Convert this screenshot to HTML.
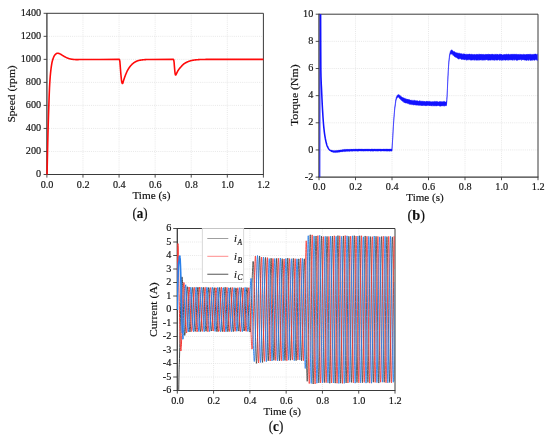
<!DOCTYPE html>
<html lang="en"><head><meta charset="utf-8"><title>Figure</title>
<style>html,body{margin:0;padding:0;background:#fff}svg{display:block}</style>
</head><body>
<svg width="550" height="440" viewBox="0 0 550 440" font-family='"Liberation Serif", serif' fill="#111" stroke="#111" stroke-width="0">
<rect width="550" height="440" fill="#fff"/>
<g>
<path d="M82.98,13.3V174.5M119.07,13.3V174.5M155.15,13.3V174.5M191.23,13.3V174.5M227.32,13.3V174.5M46.9,151.47H263.4M46.9,128.44H263.4M46.9,105.41H263.4M46.9,82.39H263.4M46.9,59.36H263.4M46.9,36.33H263.4" stroke="#e2e2e2" stroke-width="0.8" stroke-dasharray="1 1.1" fill="none"/>
<path d="M46.9,13.3H263.4V174.5" stroke="#3a3a3a" stroke-width="1" fill="none"/>
<path d="M46.9,12.9V174.5" stroke="#3a3a3a" stroke-width="1.3" fill="none"/>
<path d="M46.3,174.5H263.8" stroke="#3a3a3a" stroke-width="1.1" fill="none"/>
<path d="M46.9,174.5v3.1M82.98,174.5v3.1M119.07,174.5v3.1M155.15,174.5v3.1M191.23,174.5v3.1M227.32,174.5v3.1M263.4,174.5v3.1M46.9,174.5H43.6M46.9,151.47H43.6M46.9,128.44H43.6M46.9,105.41H43.6M46.9,82.39H43.6M46.9,59.36H43.6M46.9,36.33H43.6M46.9,13.3H43.6" stroke="#3a3a3a" stroke-width="0.9" fill="none"/>
<path d="M47.05,174.5 L47.25,164.6 L47.5,153 L47.75,142.24 L48,132.33 L48.25,123.26 L48.5,115.23 L48.75,107.88 L49,100.64 L49.25,93.65 L49.5,87.83 L49.75,83.1 L50,79.39 L50.25,76.22 L50.5,73.5 L50.75,71.13 L51,69.03 L51.25,67.15 L51.5,65.43 L51.75,63.84 L52,62.47 L52.25,61.37 L52.5,60.44 L52.75,59.62 L53,58.88 L53.25,58.18 L53.5,57.52 L53.75,56.92 L54,56.39 L54.25,55.94 L54.5,55.53 L54.75,55.17 L55,54.84 L55.25,54.55 L55.5,54.3 L55.75,54.06 L56,53.85 L56.25,53.68 L56.5,53.55 L56.75,53.43 L57,53.33 L57.25,53.25 L57.5,53.2 L57.75,53.21 L58,53.24 L58.25,53.29 L58.5,53.35 L58.75,53.43 L59,53.5 L59.25,53.58 L59.5,53.68 L59.75,53.78 L60,53.9 L60.25,54.03 L60.5,54.15 L60.75,54.29 L61,54.44 L61.25,54.59 L61.5,54.75 L61.75,54.92 L62,55.08 L62.25,55.23 L62.5,55.38 L62.75,55.54 L63,55.69 L63.25,55.85 L63.5,56 L63.75,56.15 L64,56.3 L64.25,56.45 L64.5,56.59 L64.75,56.73 L65,56.88 L65.25,57.01 L65.5,57.15 L65.75,57.28 L66,57.4 L66.25,57.52 L66.5,57.64 L66.75,57.75 L67,57.86 L67.25,57.96 L67.5,58.06 L67.75,58.15 L68,58.24 L68.25,58.33 L68.5,58.42 L68.75,58.5 L69,58.58 L69.25,58.65 L69.5,58.72 L69.75,58.79 L70,58.85 L70.25,58.91 L70.5,58.97 L70.75,59.02 L71,59.07 L71.25,59.12 L71.5,59.17 L71.75,59.22 L72,59.26 L72.25,59.3 L72.5,59.33 L72.75,59.36 L73,59.39 L73.25,59.41 L73.5,59.44 L73.75,59.46 L74,59.48 L74.25,59.5 L74.5,59.52 L74.75,59.53 L75,59.55 L75.25,59.56 L75.5,59.58 L75.75,59.59 L76,59.59 L76.25,59.6 L76.5,59.6 L76.75,59.6 L77,59.6 L77.25,59.6 L77.5,59.59 L77.75,59.59 L78,59.59 L78.25,59.58 L78.5,59.58 L78.75,59.57 L79,59.57 L79.25,59.57 L79.5,59.56 L79.75,59.56 L80,59.55 L80.25,59.55 L100,59.45 L119.3,59.4 L119.4,59.49 L119.65,60.28 L119.9,61.75 L120.15,64.96 L120.4,68.25 L120.65,71.49 L120.9,74.5 L121.15,77.18 L121.4,79.53 L121.65,81.33 L121.9,82.6 L122.15,83.33 L122.4,83.49 L122.65,83.42 L122.9,82.99 L123.15,82.13 L123.4,81.16 L123.65,80.23 L123.9,79.43 L124.15,78.69 L124.4,77.98 L124.65,77.28 L124.9,76.6 L125.15,75.93 L125.4,75.28 L125.65,74.65 L125.9,74.04 L126.15,73.44 L126.4,72.85 L126.65,72.27 L126.9,71.71 L127.15,71.18 L127.4,70.69 L127.65,70.23 L127.9,69.78 L128.15,69.36 L128.4,68.94 L128.65,68.54 L128.9,68.15 L129.15,67.77 L129.4,67.41 L129.65,67.06 L129.9,66.73 L130.15,66.41 L130.4,66.1 L130.65,65.8 L130.9,65.51 L131.15,65.23 L131.4,64.96 L131.65,64.7 L131.9,64.44 L132.15,64.2 L132.4,63.96 L132.65,63.74 L132.9,63.52 L133.15,63.32 L133.4,63.12 L133.65,62.94 L133.9,62.76 L134.15,62.58 L134.4,62.41 L134.65,62.25 L134.9,62.09 L135.15,61.94 L135.4,61.8 L135.65,61.67 L135.9,61.54 L136.15,61.42 L136.4,61.31 L136.65,61.21 L136.9,61.1 L137.15,61 L137.4,60.91 L137.65,60.82 L137.9,60.73 L138.15,60.65 L138.4,60.58 L138.65,60.51 L138.9,60.44 L139.15,60.39 L139.4,60.34 L139.65,60.29 L139.9,60.24 L140.15,60.19 L140.4,60.15 L140.65,60.11 L140.9,60.07 L141.15,60.03 L141.4,59.99 L141.65,59.95 L141.9,59.92 L142.15,59.89 L142.4,59.86 L142.65,59.83 L142.9,59.81 L143.15,59.78 L143.4,59.76 L143.65,59.74 L143.9,59.72 L144.15,59.7 L144.4,59.68 L144.65,59.66 L144.9,59.64 L145.15,59.62 L145.4,59.61 L145.65,59.59 L145.9,59.58 L146.15,59.56 L146.4,59.55 L146.65,59.54 L146.9,59.53 L147.15,59.52 L147.4,59.51 L147.65,59.5 L147.9,59.5 L148.15,59.49 L148.4,59.49 L148.65,59.48 L148.9,59.48 L149.15,59.48 L149.4,59.47 L149.65,59.47 L149.9,59.46 L173.5,59.4 L173.6,59.52 L173.85,60.59 L174.1,62.34 L174.35,65.57 L174.6,68.66 L174.85,71.49 L175.1,73.5 L175.35,74.7 L175.6,75.06 L175.85,74.97 L176.1,74.5 L176.35,73.97 L176.6,73.36 L176.85,72.8 L177.1,72.29 L177.35,71.8 L177.6,71.34 L177.85,70.9 L178.1,70.5 L178.35,70.12 L178.6,69.76 L178.85,69.41 L179.1,69.07 L179.35,68.75 L179.6,68.43 L179.85,68.13 L180.1,67.83 L180.35,67.54 L180.6,67.25 L180.85,66.97 L181.1,66.69 L181.35,66.41 L181.6,66.13 L181.85,65.85 L182.1,65.58 L182.35,65.32 L182.6,65.06 L182.85,64.81 L183.1,64.57 L183.35,64.35 L183.6,64.13 L183.85,63.94 L184.1,63.75 L184.35,63.58 L184.6,63.41 L184.85,63.25 L185.1,63.1 L185.35,62.95 L185.6,62.81 L185.85,62.67 L186.1,62.54 L186.35,62.41 L186.6,62.29 L186.85,62.18 L187.1,62.06 L187.35,61.95 L187.6,61.84 L187.85,61.73 L188.1,61.63 L188.35,61.52 L188.6,61.42 L188.85,61.32 L189.1,61.23 L189.35,61.14 L189.6,61.05 L189.85,60.97 L190.1,60.89 L190.35,60.81 L190.6,60.74 L190.85,60.68 L191.1,60.62 L191.35,60.57 L191.6,60.52 L191.85,60.47 L192.1,60.42 L192.35,60.37 L192.6,60.32 L192.85,60.28 L193.1,60.24 L193.35,60.19 L193.6,60.15 L193.85,60.11 L194.1,60.08 L194.35,60.04 L194.6,60.01 L194.85,59.97 L195.1,59.94 L195.35,59.91 L195.6,59.88 L195.85,59.85 L196.1,59.83 L196.35,59.81 L196.6,59.78 L196.85,59.76 L197.1,59.74 L197.35,59.72 L197.6,59.7 L197.85,59.69 L198.1,59.67 L198.35,59.65 L198.6,59.63 L198.85,59.62 L199.1,59.6 L199.35,59.58 L199.6,59.57 L199.85,59.55 L200.1,59.54 L200.35,59.53 L200.6,59.52 L200.85,59.5 L201.1,59.49 L201.35,59.48 L201.6,59.48 L201.85,59.47 L202.1,59.46 L202.35,59.46 L202.6,59.45 L202.85,59.45 L203.1,59.45 L203.35,59.44 L203.6,59.44 L203.85,59.44 L204.1,59.44 L204.35,59.43 L204.6,59.43 L204.85,59.43 L205.1,59.43 L205.35,59.43 L205.6,59.42 L205.85,59.42 L206.1,59.42 L206.35,59.42 L206.6,59.42 L206.85,59.42 L207.1,59.41 L207.35,59.41 L207.6,59.41 L207.85,59.41 L208.1,59.41 L208.35,59.41 L208.6,59.41 L208.85,59.41 L209.1,59.41 L209.35,59.4 L209.6,59.4 L209.85,59.4 L210.1,59.4 L210.35,59.4 L210.6,59.4 L210.85,59.4 L211.1,59.4 L211.35,59.4 L211.6,59.4 L211.85,59.4 L263.4,59.4" stroke="#ff0a0a" stroke-width="1.6" fill="none" stroke-linejoin="round"/>
<g stroke-width="0.16">
<g font-size="10.2" text-anchor="middle">
<text x="47.1" y="187.7">0.0</text>
<text x="83.18" y="187.7">0.2</text>
<text x="119.27" y="187.7">0.4</text>
<text x="155.35" y="187.7">0.6</text>
<text x="191.43" y="187.7">0.8</text>
<text x="227.52" y="187.7">1.0</text>
<text x="263.6" y="187.7">1.2</text>
</g>
<g font-size="10.2" text-anchor="end">
<text x="41.1" y="177.1">0</text>
<text x="41.1" y="154.07">200</text>
<text x="41.1" y="131.04">400</text>
<text x="41.1" y="108.01">600</text>
<text x="41.1" y="84.99">800</text>
<text x="41.1" y="61.96">1000</text>
<text x="41.1" y="38.93">1200</text>
<text x="41.1" y="15.9">1400</text>
</g>
<text x="132.4" y="198.7" font-size="11" textLength="38" lengthAdjust="spacingAndGlyphs">Time (s)</text>
<text transform="translate(15.3,122.6) rotate(-90)" font-size="11" textLength="57.3" lengthAdjust="spacingAndGlyphs">Speed (rpm)</text>
<text x="132.4" y="217.6" font-size="14.3" textLength="15.2" lengthAdjust="spacingAndGlyphs">(<tspan font-weight="bold">a</tspan>)</text>
</g></g>
<g>
<path d="M355.5,14.2V177.1M392,14.2V177.1M428.5,14.2V177.1M465,14.2V177.1M501.5,14.2V177.1M319,149.95H538M319,122.8H538M319,95.65H538M319,68.5H538M319,41.35H538" stroke="#e2e2e2" stroke-width="0.8" stroke-dasharray="1 1.1" fill="none"/>
<path d="M319,14.2H538V177.1" stroke="#3a3a3a" stroke-width="1" fill="none"/>
<path d="M319,13.8V177.1" stroke="#3a3a3a" stroke-width="1.3" fill="none"/>
<path d="M318.4,177.1H538.4" stroke="#3a3a3a" stroke-width="1.1" fill="none"/>
<path d="M319,177.1v3.1M355.5,177.1v3.1M392,177.1v3.1M428.5,177.1v3.1M465,177.1v3.1M501.5,177.1v3.1M538,177.1v3.1M319,177.1H315.7M319,149.95H315.7M319,122.8H315.7M319,95.65H315.7M319,68.5H315.7M319,41.35H315.7M319,14.2H315.7" stroke="#3a3a3a" stroke-width="0.9" fill="none"/>
<clipPath id="cb"><rect x="318.0" y="14.2" width="219.6" height="162.9"/></clipPath>
<g clip-path="url(#cb)">
<path d="M319.85,177.1L320.15,14.2" stroke="#1212ff" stroke-width="0.9" fill="none"/>
<path d="M320.3,14.2 L320.6,14.2 L320.7,42.3 L320.85,70 L321,76.94 L321.25,83.81 L321.5,88.38 L321.75,93.97 L322,99.49 L322.25,104.59 L322.5,109.21 L322.75,113.34 L323,117.23 L323.25,120.82 L323.5,124.05 L323.75,126.81 L324,129.16 L324.25,131.32 L324.5,133.3 L324.75,135.11 L325,136.74 L325.25,138.21 L325.5,139.5 L325.75,140.68 L326,141.8 L326.25,142.85 L326.5,143.82 L326.75,144.69 L327,145.47 L327.25,146.14 L327.5,146.7 L327.75,147.18 L328,147.64 L328.25,148.08 L328.5,148.49 L328.75,148.87 L329,149.22 L329.25,149.53 L329.5,149.81 L329.75,150.06 L330,150.26 L330.25,150.42 L330.5,150.55 L330.75,150.66 L331,150.77 L331.25,150.87 L331.5,150.97 L331.75,151.06 L332,151.15 L332.25,151.23 L332.5,151.3 L332.75,151.37 L333,151.43 L333.25,151.48 L333.5,151.52 L333.75,151.55 L334,151.58 L334.25,151.59 L334.5,151.6 L334.75,151.6 L335,151.59 L335.25,151.58 L335.5,151.57 L335.75,151.55 L336,151.53 L336.25,151.51 L336.5,151.48 L336.75,151.46 L337,151.43 L337.25,151.4 L337.5,151.37 L337.75,151.34 L338,151.32 L338.25,151.29 L338.5,151.26 L338.75,151.23 L339,151.2 L339.25,151.17 L339.5,151.14 L339.75,151.1 L340,151.06 L340.25,151.02 L340.5,150.98 L340.75,150.94 L341,150.9 L341.25,150.85 L341.5,150.81 L341.75,150.77 L342,150.73 L342.25,150.69 L342.5,150.66 L342.75,150.62 L343,150.59 L343.25,150.56 L343.5,150.54 L343.75,150.52 L344,150.5 L344.25,150.48 L344.5,150.47 L344.75,150.46 L345,150.44 L345.25,150.43 L345.5,150.41 L345.75,150.4 L346,150.39 L346.25,150.38 L346.5,150.37 L346.75,150.35 L347,150.34 L347.25,150.33 L347.5,150.32 L347.75,150.31 L348,150.3 L348.25,150.29 L348.5,150.28 L348.75,150.28 L349,150.27 L349.25,150.26 L349.5,150.25 L349.75,150.25 L350,150.24 L350.25,150.23 L350.5,150.23 L350.75,150.22 L351,150.22 L351.25,150.21 L351.5,150.21 L351.75,150.2 L352,150.2 L352.25,150.2 L352.5,150.19 L352.75,150.19 L353,150.19 L353.25,150.18 L353.5,150.18 L353.75,150.18 L354,150.17 L354.25,150.17 L354.5,150.17 L354.75,150.17 L355,150.16 L355.25,150.16 L355.5,150.16 L355.75,150.15 L356,150.15 L356.25,150.15 L356.5,150.15 L356.75,150.14 L357,150.14 L357.25,150.14 L357.5,150.14 L357.75,150.13 L358,150.13 L358.25,150.13 L358.5,150.13 L358.75,150.13 L359,150.12 L359.25,150.12 L359.5,150.12 L359.75,150.12 L391.9,150.1" stroke="#1212ff" stroke-width="1.55" fill="none" stroke-linejoin="round"/>
<path d="M331,150.12 L331.3,150.13 L331.6,150.21 L331.9,150.47 L332.2,150.53 L332.5,150.39 L332.8,150.7 L333.1,150.75 L333.4,150.56 L333.7,150.69 L334,150.79 L334.3,150.75 L334.6,150.7 L334.9,150.81 L335.2,150.83 L335.5,150.6 L335.8,150.61 L336.1,150.63 L336.4,150.49 L336.7,150.54 L337,150.36 L337.3,150.57 L337.6,150.41 L337.9,150.39 L338.2,150.39 L338.5,150.27 L338.8,150.35 L339.1,150.11 L339.4,150.04 L339.7,150.25 L340,150.07 L340.3,150.09 L340.6,150.11 L340.9,149.77 L341.2,149.89 L341.5,149.94 L341.8,149.7 L342.1,149.82 L342.4,149.53 L342.7,149.73 L343,149.76 L343.3,149.67 L343.6,149.59 L343.9,149.52 L344.2,149.34 L344.5,149.4 L344.8,149.51 L345.1,149.61 L345.4,149.54 L345.7,149.23 L346,149.4 L346.3,149.31 L346.6,149.52 L346.9,149.51 L347.2,149.21 L347.5,149.29 L347.8,149.38 L348.1,149.36 L348.4,149.44 L348.7,149.4 L349,149.44 L349.3,149.14 L349.6,149.26 L349.9,149.38 L350.2,149.15 L350.5,149.34 L350.8,149.38 L351.1,149.18 L351.4,149.07 L351.7,149.37 L352,149.09 L352.3,149.31 L352.6,149.34 L352.9,149.36 L353.2,149.26 L353.5,149.1 L353.8,149.18 L354.1,149.05 L354.4,149.27 L354.7,149.23 L355,149.25 L355.3,148.99 L355.6,149 L355.9,149.21 L356.2,149.17 L356.5,149.21 L356.8,149.05 L357.1,149.31 L357.4,149.29 L357.7,149.17 L358,149.22 L358.3,149.01 L358.6,149.04 L358.9,149.11 L359.2,149.06 L359.5,149.05 L359.8,149.02 L360.1,148.96 L360.4,149.24 L360.7,149.07 L361,149.24 L361.3,149.13 L361.6,149.01 L361.9,148.96 L362.2,149.01 L362.5,149.27 L362.8,149.15 L363.1,149.22 L363.4,148.92 L363.7,149.23 L364,149.19 L364.3,149.15 L364.6,149.26 L364.9,148.97 L365.2,149.05 L365.5,149.22 L365.8,149.1 L366.1,149.25 L366.4,149.06 L366.7,149.2 L367,149.27 L367.3,149.24 L367.6,149.08 L367.9,149.05 L368.2,149.16 L368.5,149.05 L368.8,149.15 L369.1,149.23 L369.4,149.17 L369.7,149.14 L370,148.95 L370.3,149.24 L370.6,149.25 L370.9,149.08 L371.2,148.93 L371.5,148.95 L371.8,149.03 L372.1,149.26 L372.4,148.99 L372.7,149.03 L373,149.23 L373.3,149.11 L373.6,149.26 L373.9,148.99 L374.2,149.02 L374.5,148.99 L374.8,149.01 L375.1,149.18 L375.4,149 L375.7,149.19 L376,149.23 L376.3,149.14 L376.6,149.1 L376.9,149.18 L377.2,149.06 L377.5,149.06 L377.8,149.19 L378.1,149.06 L378.4,149.15 L378.7,149.02 L379,149.18 L379.3,148.99 L379.6,149.13 L379.9,149.08 L380.2,149.04 L380.5,149.09 L380.8,149.19 L381.1,148.93 L381.4,149.25 L381.7,149.16 L382,149.08 L382.3,149.27 L382.6,149.22 L382.9,148.99 L383.2,149 L383.5,149.05 L383.8,148.96 L384.1,149.01 L384.4,149.17 L384.7,149.05 L385,149.16 L385.3,149.01 L385.6,149.14 L385.9,149.22 L386.2,148.96 L386.5,149.03 L386.8,149.01 L387.1,149.08 L387.4,149 L387.7,149.12 L388,149.08 L388.3,149.26 L388.6,149.08 L388.9,148.99 L389.2,149.03 L389.5,148.99 L389.8,149.1 L390.1,148.96 L390.4,149.24 L390.7,148.96 L391,149.15 L391.3,149.25 L391.6,149.06 L391.9,149.12 L391.9,151.26 L391.6,151.18 L391.3,151.09 L391,151.13 L390.7,151.04 L390.4,151.06 L390.1,151.17 L389.8,151.13 L389.5,151.17 L389.2,151.24 L388.9,150.97 L388.6,151.07 L388.3,151.2 L388,151.24 L387.7,151.17 L387.4,151.19 L387.1,150.99 L386.8,150.98 L386.5,151.14 L386.2,151.21 L385.9,151.18 L385.6,151.06 L385.3,151.03 L385,151.24 L384.7,151.16 L384.4,151.02 L384.1,151.02 L383.8,151.25 L383.5,151 L383.2,150.93 L382.9,151.06 L382.6,150.96 L382.3,151.06 L382,151.03 L381.7,151.13 L381.4,151.03 L381.1,151 L380.8,151.27 L380.5,150.96 L380.2,151.21 L379.9,150.93 L379.6,151.01 L379.3,150.93 L379,151.02 L378.7,151.22 L378.4,151.03 L378.1,151.07 L377.8,151.17 L377.5,151.18 L377.2,151.01 L376.9,150.94 L376.6,151.16 L376.3,150.95 L376,151.19 L375.7,151.1 L375.4,151.08 L375.1,151.17 L374.8,151.07 L374.5,150.99 L374.2,150.93 L373.9,150.97 L373.6,151.25 L373.3,151.22 L373,151.26 L372.7,151.19 L372.4,151.24 L372.1,151 L371.8,151.08 L371.5,151.16 L371.2,151.05 L370.9,151.26 L370.6,151.19 L370.3,151.14 L370,151.12 L369.7,150.94 L369.4,151.06 L369.1,151.03 L368.8,151.06 L368.5,150.92 L368.2,151.13 L367.9,150.99 L367.6,151.05 L367.3,151.24 L367,151.12 L366.7,151.04 L366.4,151.05 L366.1,150.97 L365.8,150.94 L365.5,151 L365.2,151.14 L364.9,150.93 L364.6,150.93 L364.3,151.2 L364,151.07 L363.7,151.23 L363.4,151.11 L363.1,151.14 L362.8,150.93 L362.5,150.98 L362.2,151.16 L361.9,151.06 L361.6,151.09 L361.3,151.19 L361,151.1 L360.7,150.94 L360.4,151.02 L360.1,151.22 L359.8,150.95 L359.5,151.08 L359.2,151.09 L358.9,151.13 L358.6,151.12 L358.3,151.24 L358,151.29 L357.7,151.28 L357.4,151.28 L357.1,151.15 L356.8,151.17 L356.5,151.11 L356.2,150.98 L355.9,151.02 L355.6,151.12 L355.3,151.19 L355,151.04 L354.7,151.11 L354.4,151.17 L354.1,151.33 L353.8,151.05 L353.5,151.18 L353.2,151.06 L352.9,151.36 L352.6,151.17 L352.3,151.2 L352,151.27 L351.7,151.14 L351.4,151.29 L351.1,151.14 L350.8,151.11 L350.5,151.18 L350.2,151.3 L349.9,151.28 L349.6,151.42 L349.3,151.39 L349,151.41 L348.7,151.14 L348.4,151.27 L348.1,151.45 L347.8,151.42 L347.5,151.38 L347.2,151.19 L346.9,151.37 L346.6,151.24 L346.3,151.33 L346,151.48 L345.7,151.37 L345.4,151.57 L345.1,151.58 L344.8,151.4 L344.5,151.62 L344.2,151.62 L343.9,151.49 L343.6,151.37 L343.3,151.39 L343,151.63 L342.7,151.72 L342.4,151.63 L342.1,151.62 L341.8,151.6 L341.5,151.66 L341.2,151.87 L340.9,151.86 L340.6,151.84 L340.3,151.86 L340,152.23 L339.7,152.18 L339.4,152.1 L339.1,152.14 L338.8,152.29 L338.5,152.35 L338.2,152.16 L337.9,152.2 L337.6,152.31 L337.3,152.39 L337,152.25 L336.7,152.34 L336.4,152.27 L336.1,152.42 L335.8,152.59 L335.5,152.3 L335.2,152.6 L334.9,152.44 L334.6,152.32 L334.3,152.29 L334,152.31 L333.7,152.48 L333.4,152.33 L333.1,152.15 L332.8,152.18 L332.5,152.1 L332.2,151.97 L331.9,151.92 L331.6,151.67 L331.3,151.74 L331,151.5Z" fill="#1212ff" stroke="#1212ff" stroke-width="0.3" stroke-linejoin="round"/>
<path d="M391.9,149.32 L392.2,145.26 L392.5,140.84 L392.8,135.82 L393.1,130.14 L393.4,124.86 L393.7,120.48 L394,116.45 L394.3,112.65 L394.6,109.01 L394.9,106.34 L395.2,104.06 L395.5,101.75 L395.8,99.59 L396.1,98.03 L396.4,96.96 L396.7,96.39 L397,95.71 L397.3,95.15 L397.6,95.15 L397.9,94.77 L398.2,94.8 L398.5,94.46 L398.8,94.94 L399.1,94.82 L399.4,94.95 L399.7,95.56 L400,95.41 L400.3,95.62 L400.6,96.33 L400.9,96.14 L401.2,96.8 L401.5,96.71 L401.8,96.97 L402.1,97.33 L402.4,97.44 L402.7,97.28 L403,97.76 L403.3,98.01 L403.6,97.73 L403.9,98.03 L404.2,97.9 L404.5,98.47 L404.8,98.55 L405.1,98.31 L405.4,98.66 L405.7,98.78 L406,99.09 L406.3,99.37 L406.6,98.77 L406.9,99.5 L407.2,99.01 L407.5,99.45 L407.8,99.09 L408.1,99.58 L408.4,99.25 L408.7,99.61 L409,99.92 L409.3,99.61 L409.6,99.73 L409.9,99.79 L410.2,100.02 L410.5,100.27 L410.8,100.01 L411.1,100.47 L411.4,100.09 L411.7,100.19 L412,100.44 L412.3,100.17 L412.6,100.68 L412.9,100.58 L413.2,100.32 L413.5,100.68 L413.8,100.47 L414.1,100.59 L414.4,100.37 L414.7,100.37 L415,100.61 L415.3,100.57 L415.6,101.1 L415.9,100.7 L416.2,100.62 L416.5,100.98 L416.8,100.89 L417.1,100.96 L417.4,100.62 L417.7,101.12 L418,101.08 L418.3,101.4 L418.6,101.1 L418.9,100.96 L419.2,100.75 L419.5,100.77 L419.8,101.24 L420.1,100.76 L420.4,101.38 L420.7,100.92 L421,101.43 L421.3,101.26 L421.6,101.53 L421.9,100.95 L422.2,100.99 L422.5,101.52 L422.8,101.24 L423.1,101.46 L423.4,101.3 L423.7,101.26 L424,101.61 L424.3,101.05 L424.6,101.51 L424.9,101.39 L425.2,101.7 L425.5,101.75 L425.8,101.62 L426.1,101.52 L426.4,101.09 L426.7,101.12 L427,101.44 L427.3,101.47 L427.6,101.32 L427.9,101.19 L428.2,101.59 L428.5,101.25 L428.8,101.56 L429.1,101.42 L429.4,101.32 L429.7,101.51 L430,101.37 L430.3,101.37 L430.6,101.9 L430.9,101.89 L431.2,101.81 L431.5,101.77 L431.8,101.78 L432.1,101.9 L432.4,101.78 L432.7,101.5 L433,101.29 L433.3,101.7 L433.6,101.69 L433.9,101.65 L434.2,101.46 L434.5,101.38 L434.8,101.27 L435.1,101.7 L435.4,101.46 L435.7,101.74 L436,101.37 L436.3,101.83 L436.6,101.35 L436.9,101.63 L437.2,101.46 L437.5,101.61 L437.8,101.78 L438.1,101.65 L438.4,101.99 L438.7,102 L439,101.63 L439.3,101.68 L439.6,101.41 L439.9,102.03 L440.2,101.62 L440.5,101.68 L440.8,101.6 L441.1,101.5 L441.4,101.66 L441.7,101.63 L442,101.69 L442.3,101.6 L442.6,101.88 L442.9,101.65 L443.2,101.56 L443.5,101.93 L443.8,101.32 L444.1,101.51 L444.4,101.35 L444.7,101.85 L445,101.74 L445.3,101.88 L445.6,102.04 L445.9,102.07 L446.2,101.89 L446.5,101.43 L446.5,105.74 L446.2,105.55 L445.9,105.95 L445.6,105.76 L445.3,105.57 L445,105.71 L444.7,105.75 L444.4,106.26 L444.1,105.68 L443.8,105.57 L443.5,106.07 L443.2,105.91 L442.9,105.9 L442.6,106.03 L442.3,105.57 L442,105.95 L441.7,105.94 L441.4,105.75 L441.1,106.1 L440.8,106.17 L440.5,106.25 L440.2,106.02 L439.9,105.67 L439.6,105.93 L439.3,106.16 L439,105.67 L438.7,105.61 L438.4,105.91 L438.1,105.52 L437.8,105.85 L437.5,105.69 L437.2,105.65 L436.9,105.95 L436.6,105.82 L436.3,105.95 L436,106.05 L435.7,105.5 L435.4,105.88 L435.1,106.18 L434.8,105.98 L434.5,105.63 L434.2,105.85 L433.9,105.85 L433.6,105.69 L433.3,106.14 L433,105.55 L432.7,105.84 L432.4,105.59 L432.1,105.55 L431.8,106.08 L431.5,105.38 L431.2,105.98 L430.9,106.06 L430.6,105.4 L430.3,105.39 L430,105.34 L429.7,105.95 L429.4,105.51 L429.1,105.95 L428.8,105.44 L428.5,105.42 L428.2,105.34 L427.9,105.31 L427.6,105.55 L427.3,105.4 L427,105.75 L426.7,105.39 L426.4,105.74 L426.1,105.94 L425.8,105.97 L425.5,105.21 L425.2,105.78 L424.9,105.48 L424.6,105.78 L424.3,105.41 L424,105.33 L423.7,105.51 L423.4,105.21 L423.1,105.77 L422.8,105.44 L422.5,105.43 L422.2,105.65 L421.9,105.15 L421.6,105.75 L421.3,105.39 L421,105.67 L420.7,105.22 L420.4,105.16 L420.1,105.56 L419.8,105.36 L419.5,105.37 L419.2,105.32 L418.9,105.26 L418.6,105.58 L418.3,105.12 L418,104.88 L417.7,105.14 L417.4,105.04 L417.1,105.36 L416.8,105.26 L416.5,105.02 L416.2,105.03 L415.9,104.94 L415.6,104.8 L415.3,105.17 L415,105.16 L414.7,104.87 L414.4,104.67 L414.1,104.89 L413.8,104.51 L413.5,105.13 L413.2,105.04 L412.9,104.51 L412.6,104.63 L412.3,104.42 L412,104.68 L411.7,104.82 L411.4,104.11 L411.1,104.01 L410.8,104.54 L410.5,104.19 L410.2,103.9 L409.9,104.47 L409.6,103.96 L409.3,103.71 L409,104.24 L408.7,103.59 L408.4,103.42 L408.1,103.66 L407.8,103.66 L407.5,103.22 L407.2,103.27 L406.9,103.22 L406.6,102.97 L406.3,103.1 L406,103 L405.7,102.92 L405.4,103.15 L405.1,102.64 L404.8,102.95 L404.5,102.39 L404.2,102.32 L403.9,102.41 L403.6,102.16 L403.3,101.49 L403,101.57 L402.7,101.43 L402.4,100.98 L402.1,101.01 L401.8,100.47 L401.5,100.47 L401.2,99.7 L400.9,99.9 L400.6,99.4 L400.3,98.9 L400,98.99 L399.7,98.73 L399.4,98.18 L399.1,97.76 L398.8,97.39 L398.5,97.16 L398.2,97.1 L397.9,97.23 L397.6,97.39 L397.3,97.84 L397,97.88 L396.7,98.54 L396.4,99.18 L396.1,100.22 L395.8,101.9 L395.5,103.6 L395.2,106.02 L394.9,108.21 L394.6,110.85 L394.3,114.18 L394,117.94 L393.7,122.02 L393.4,126.42 L393.1,131.44 L392.8,137.14 L392.5,142.24 L392.2,146.81 L391.9,150.72Z" fill="#1212ff" stroke="#1212ff" stroke-width="0.5" stroke-linejoin="round"/>
<path d="M446.5,102.96 L446.8,99.57 L447.1,95.09 L447.4,88.78 L447.7,81.34 L448,75.1 L448.3,69.74 L448.6,64.6 L448.9,60.88 L449.2,57.75 L449.5,55.13 L449.8,53.38 L450.1,52.28 L450.4,51.29 L450.7,50.68 L451,50.39 L451.3,49.89 L451.6,49.89 L451.9,50.05 L452.2,49.96 L452.5,50.75 L452.8,51.03 L453.1,50.89 L453.4,51.5 L453.7,51.7 L454,51.51 L454.3,51.73 L454.6,51.54 L454.9,51.95 L455.2,52.2 L455.5,52.36 L455.8,52.7 L456.1,53.01 L456.4,52.95 L456.7,52.58 L457,53.12 L457.3,53.04 L457.6,53.47 L457.9,52.74 L458.2,53.48 L458.5,53.47 L458.8,52.96 L459.1,53.4 L459.4,53.14 L459.7,53.4 L460,53.36 L460.3,54.05 L460.6,53.66 L460.9,53.74 L461.2,53.44 L461.5,53.98 L461.8,53.8 L462.1,54.37 L462.4,54.09 L462.7,54.19 L463,54.4 L463.3,53.78 L463.6,54.24 L463.9,53.69 L464.2,54.1 L464.5,54.11 L464.8,54.1 L465.1,54.08 L465.4,54.61 L465.7,54.34 L466,54.54 L466.3,54.39 L466.6,54.7 L466.9,53.86 L467.2,54.6 L467.5,54.16 L467.8,54.53 L468.1,53.98 L468.4,54.19 L468.7,54.72 L469,54.03 L469.3,53.93 L469.6,53.98 L469.9,54.31 L470.2,54.73 L470.5,54.69 L470.8,53.98 L471.1,54.35 L471.4,54.72 L471.7,54.04 L472,54.28 L472.3,54.35 L472.6,54.55 L472.9,54.52 L473.2,54.69 L473.5,54.89 L473.8,54.07 L474.1,54.48 L474.4,54.4 L474.7,54.62 L475,54.21 L475.3,54.92 L475.6,54.58 L475.9,54.92 L476.2,54.83 L476.5,54.01 L476.8,54.31 L477.1,54.54 L477.4,54.45 L477.7,54.1 L478,54.62 L478.3,54.38 L478.6,54.29 L478.9,54.61 L479.2,54.45 L479.5,54.21 L479.8,54.07 L480.1,54.82 L480.4,54.05 L480.7,54.96 L481,54.22 L481.3,54.17 L481.6,54.83 L481.9,54.55 L482.2,54.16 L482.5,54.95 L482.8,54.34 L483.1,54.18 L483.4,54.46 L483.7,54.25 L484,54.74 L484.3,54.76 L484.6,54.6 L484.9,54.78 L485.2,54.62 L485.5,54.02 L485.8,54.39 L486.1,54.62 L486.4,54.69 L486.7,54.02 L487,54.52 L487.3,53.99 L487.6,54.45 L487.9,54.44 L488.2,54.07 L488.5,54.22 L488.8,54.38 L489.1,54.53 L489.4,54.09 L489.7,54.55 L490,54.04 L490.3,54.89 L490.6,54.53 L490.9,54.44 L491.2,54.01 L491.5,54.7 L491.8,54.16 L492.1,54.28 L492.4,54.24 L492.7,54.33 L493,53.99 L493.3,54.62 L493.6,54.56 L493.9,54.75 L494.2,54.9 L494.5,54.74 L494.8,54.04 L495.1,54.12 L495.4,54.84 L495.7,54.35 L496,54.47 L496.3,54.36 L496.6,54.29 L496.9,54.64 L497.2,53.99 L497.5,54.48 L497.8,54.32 L498.1,54.32 L498.4,54.76 L498.7,54.88 L499,54.54 L499.3,54.19 L499.6,54.14 L499.9,54.22 L500.2,54.83 L500.5,54.04 L500.8,54.15 L501.1,54.07 L501.4,54.42 L501.7,54.03 L502,54.89 L502.3,54.91 L502.6,54.92 L502.9,54.69 L503.2,54.69 L503.5,54.75 L503.8,54.38 L504.1,54.9 L504.4,54.35 L504.7,54.77 L505,54.26 L505.3,54.92 L505.6,54.63 L505.9,54 L506.2,54.4 L506.5,54.13 L506.8,54.28 L507.1,54.33 L507.4,54.75 L507.7,54.36 L508,54.9 L508.3,54.14 L508.6,53.98 L508.9,54.08 L509.2,54.88 L509.5,54.6 L509.8,54.62 L510.1,54.82 L510.4,54.31 L510.7,54.14 L511,54.62 L511.3,54.07 L511.6,54.14 L511.9,54.8 L512.2,54.17 L512.5,54.05 L512.8,54.73 L513.1,54.36 L513.4,54.29 L513.7,54.32 L514,54.83 L514.3,54.27 L514.6,54.3 L514.9,54.11 L515.2,54.13 L515.5,54.6 L515.8,54.21 L516.1,54.06 L516.4,54.03 L516.7,54.76 L517,54.9 L517.3,54.28 L517.6,54.71 L517.9,54.36 L518.2,53.98 L518.5,54.55 L518.8,54.67 L519.1,54.47 L519.4,54.27 L519.7,54.82 L520,54.54 L520.3,54.79 L520.6,54.26 L520.9,54.09 L521.2,54.54 L521.5,54.55 L521.8,54.38 L522.1,54.71 L522.4,54.67 L522.7,54.59 L523,54.46 L523.3,54.84 L523.6,54.17 L523.9,54.34 L524.2,54.62 L524.5,54.84 L524.8,54.15 L525.1,54.79 L525.4,54.78 L525.7,54.79 L526,54.84 L526.3,54.01 L526.6,54.65 L526.9,54.61 L527.2,54.08 L527.5,54.29 L527.8,54.73 L528.1,54.48 L528.4,54.03 L528.7,54.54 L529,54.2 L529.3,54.82 L529.6,54.18 L529.9,54.13 L530.2,54.08 L530.5,54.23 L530.8,54.54 L531.1,54.85 L531.4,54.39 L531.7,54.15 L532,54.72 L532.3,54.64 L532.6,54.37 L532.9,54.16 L533.2,54.01 L533.5,54.78 L533.8,54.72 L534.1,54.1 L534.4,54.26 L534.7,54.18 L535,53.9 L535.3,53.96 L535.6,54.06 L535.9,54.12 L536.2,54.51 L536.5,54.26 L536.8,54.72 L537.1,54.14 L537.4,54.14 L537.7,54.18 L538,54.46 L538,60.18 L537.7,60.4 L537.4,59.78 L537.1,60.43 L536.8,59.95 L536.5,59.8 L536.2,59.68 L535.9,59.63 L535.6,59.57 L535.3,59.83 L535,60.25 L534.7,60.35 L534.4,59.92 L534.1,60.19 L533.8,60.22 L533.5,59.51 L533.2,60.01 L532.9,59.83 L532.6,60.1 L532.3,60.45 L532,60.06 L531.7,60.17 L531.4,60.16 L531.1,60.1 L530.8,60.48 L530.5,60.41 L530.2,60.32 L529.9,59.52 L529.6,59.8 L529.3,59.6 L529,60.38 L528.7,60.44 L528.4,59.7 L528.1,60.26 L527.8,60.09 L527.5,60.15 L527.2,59.53 L526.9,60.15 L526.6,60.38 L526.3,60.41 L526,59.64 L525.7,60.3 L525.4,59.9 L525.1,59.89 L524.8,60.1 L524.5,59.67 L524.2,60.28 L523.9,59.75 L523.6,59.64 L523.3,59.94 L523,59.5 L522.7,59.95 L522.4,59.65 L522.1,59.66 L521.8,59.51 L521.5,60.44 L521.2,59.76 L520.9,59.65 L520.6,59.62 L520.3,59.61 L520,60.12 L519.7,59.92 L519.4,59.62 L519.1,59.97 L518.8,59.91 L518.5,59.73 L518.2,59.82 L517.9,60.22 L517.6,60.24 L517.3,60.09 L517,60.13 L516.7,60.4 L516.4,59.96 L516.1,60.24 L515.8,59.79 L515.5,59.61 L515.2,59.67 L514.9,60.18 L514.6,60.24 L514.3,59.89 L514,59.54 L513.7,59.73 L513.4,59.78 L513.1,59.76 L512.8,60.43 L512.5,59.67 L512.2,60.1 L511.9,59.99 L511.6,59.94 L511.3,59.73 L511,60.1 L510.7,59.84 L510.4,60.11 L510.1,59.71 L509.8,60.15 L509.5,59.53 L509.2,59.91 L508.9,60.28 L508.6,60.19 L508.3,59.52 L508,60.23 L507.7,60.17 L507.4,59.78 L507.1,59.66 L506.8,60.01 L506.5,59.83 L506.2,59.92 L505.9,60.23 L505.6,59.93 L505.3,60.28 L505,60.28 L504.7,59.88 L504.4,59.66 L504.1,59.95 L503.8,59.77 L503.5,60.32 L503.2,59.53 L502.9,60.14 L502.6,59.95 L502.3,60.34 L502,59.72 L501.7,59.83 L501.4,60.34 L501.1,60.4 L500.8,60.03 L500.5,59.83 L500.2,59.9 L499.9,59.81 L499.6,60.45 L499.3,59.88 L499,59.75 L498.7,59.75 L498.4,59.64 L498.1,59.87 L497.8,60.03 L497.5,60.13 L497.2,60.11 L496.9,60.01 L496.6,60.03 L496.3,60.3 L496,59.84 L495.7,59.49 L495.4,60.16 L495.1,59.89 L494.8,60.23 L494.5,60.29 L494.2,59.83 L493.9,60.27 L493.6,59.78 L493.3,59.95 L493,60.2 L492.7,59.91 L492.4,59.82 L492.1,60.18 L491.8,59.84 L491.5,60 L491.2,59.85 L490.9,60.08 L490.6,60.12 L490.3,60.25 L490,60.06 L489.7,59.91 L489.4,60.24 L489.1,59.99 L488.8,60.14 L488.5,60.18 L488.2,59.89 L487.9,59.64 L487.6,60.31 L487.3,59.64 L487,59.66 L486.7,60.03 L486.4,59.52 L486.1,59.99 L485.8,60.06 L485.5,59.89 L485.2,59.48 L484.9,60.36 L484.6,59.99 L484.3,59.99 L484,59.52 L483.7,60.16 L483.4,59.95 L483.1,60.15 L482.8,59.84 L482.5,59.9 L482.2,60.38 L481.9,59.45 L481.6,60.15 L481.3,59.5 L481,60.19 L480.7,59.98 L480.4,59.64 L480.1,60.09 L479.8,59.77 L479.5,60.26 L479.2,60.11 L478.9,59.84 L478.6,59.86 L478.3,60.36 L478,60.06 L477.7,60.12 L477.4,60.21 L477.1,59.7 L476.8,60.21 L476.5,59.98 L476.2,60.36 L475.9,59.5 L475.6,59.92 L475.3,59.56 L475,60.32 L474.7,59.72 L474.4,59.98 L474.1,60.3 L473.8,59.55 L473.5,60.13 L473.2,59.55 L472.9,59.67 L472.6,60.09 L472.3,60.03 L472,60.19 L471.7,60.05 L471.4,60.1 L471.1,60.16 L470.8,60.08 L470.5,60.2 L470.2,59.78 L469.9,59.55 L469.6,59.38 L469.3,59.89 L469,59.61 L468.7,59.33 L468.4,60.18 L468.1,59.77 L467.8,59.77 L467.5,59.47 L467.2,60.2 L466.9,59.47 L466.6,60.16 L466.3,60.19 L466,59.33 L465.7,59.34 L465.4,59.37 L465.1,60.03 L464.8,59.93 L464.5,59.52 L464.2,59.63 L463.9,59.69 L463.6,59.55 L463.3,59.29 L463,59.49 L462.7,59.2 L462.4,59.55 L462.1,59.04 L461.8,59.29 L461.5,59.61 L461.2,58.89 L460.9,58.79 L460.6,59.11 L460.3,58.6 L460,58.64 L459.7,58.68 L459.4,58.78 L459.1,58.56 L458.8,59.13 L458.5,59.02 L458.2,59.03 L457.9,58.01 L457.6,58.25 L457.3,58.36 L457,57.82 L456.7,57.67 L456.4,57.26 L456.1,57.49 L455.8,56.96 L455.5,57.37 L455.2,56.68 L454.9,57.04 L454.6,56.19 L454.3,56.4 L454,55.89 L453.7,55.73 L453.4,55.17 L453.1,54.88 L452.8,55.26 L452.5,54.29 L452.2,54.01 L451.9,54.33 L451.6,54.14 L451.3,53.99 L451,53.6 L450.7,54.13 L450.4,54.32 L450.1,54.66 L449.8,55.67 L449.5,57.42 L449.2,59.82 L448.9,62.73 L448.6,66.54 L448.3,71.35 L448,76.9 L447.7,82.99 L447.4,90.48 L447.1,96.69 L446.8,101.29 L446.5,104.56Z" fill="#1212ff" stroke="#1212ff" stroke-width="0.5" stroke-linejoin="round"/>
</g>
<g stroke-width="0.16">
<g font-size="10.2" text-anchor="middle">
<text x="319.2" y="190.3">0.0</text>
<text x="355.7" y="190.3">0.2</text>
<text x="392.2" y="190.3">0.4</text>
<text x="428.7" y="190.3">0.6</text>
<text x="465.2" y="190.3">0.8</text>
<text x="501.7" y="190.3">1.0</text>
<text x="538.2" y="190.3">1.2</text>
</g>
<g font-size="10.2" text-anchor="end">
<text x="313.3" y="179.7">-2</text>
<text x="313.3" y="152.55">0</text>
<text x="313.3" y="125.4">2</text>
<text x="313.3" y="98.25">4</text>
<text x="313.3" y="71.1">6</text>
<text x="313.3" y="43.95">8</text>
<text x="313.3" y="16.8">10</text>
</g>
<text x="406.3" y="201.1" font-size="11" textLength="37.3" lengthAdjust="spacingAndGlyphs">Time (s)</text>
<text transform="translate(297.8,126.1) rotate(-90)" font-size="11" textLength="61.8" lengthAdjust="spacingAndGlyphs">Torque (Nm)</text>
<text x="407.6" y="219.6" font-size="14.3" textLength="17.5" lengthAdjust="spacingAndGlyphs">(<tspan font-weight="bold">b</tspan>)</text>
</g></g>
<g>
<path d="M213.58,228.5V390.5M249.87,228.5V390.5M286.15,228.5V390.5M322.43,228.5V390.5M358.72,228.5V390.5M177.3,377H395M177.3,363.5H395M177.3,350H395M177.3,336.5H395M177.3,323H395M177.3,309.5H395M177.3,296H395M177.3,282.5H395M177.3,269H395M177.3,255.5H395M177.3,242H395" stroke="#e2e2e2" stroke-width="0.8" stroke-dasharray="1 1.1" fill="none"/>
<path d="M177.3,228.5H395V390.5" stroke="#3a3a3a" stroke-width="1" fill="none"/>
<path d="M177.3,228.1V390.5" stroke="#3a3a3a" stroke-width="1.3" fill="none"/>
<path d="M176.7,390.5H395.4" stroke="#3a3a3a" stroke-width="1.1" fill="none"/>
<path d="M177.3,390.5v3.1M213.58,390.5v3.1M249.87,390.5v3.1M286.15,390.5v3.1M322.43,390.5v3.1M358.72,390.5v3.1M395,390.5v3.1M177.3,390.5H173.2M177.3,377H173.2M177.3,363.5H173.2M177.3,350H173.2M177.3,336.5H173.2M177.3,323H173.2M177.3,309.5H173.2M177.3,296H173.2M177.3,282.5H173.2M177.3,269H173.2M177.3,255.5H173.2M177.3,242H173.2M177.3,228.5H173.2" stroke="#3a3a3a" stroke-width="0.9" fill="none"/>
<clipPath id="cc"><rect x="177.0" y="228.5" width="217.6" height="162.0"/></clipPath>
<g clip-path="url(#cc)"><g fill="none" stroke-linejoin="round">
<path d="M177.3,309.2 L177.39,343.51 L177.48,365.89 L177.57,381.47 L177.66,390.85 L177.75,397.21 L177.84,402.44 L177.93,406.02 L178.03,407.45 L178.12,409.46 L178.21,411.26 L178.3,411.69 L178.39,407.28 L178.48,403.77 L178.57,398.47 L178.66,393.8 L178.75,389.27 L178.84,384.08 L178.93,377.84 L179.02,372.97 L179.11,369.87 L179.2,367.12 L179.3,364.6 L179.39,362.11 L179.48,358.64 L179.57,355.01 L179.66,351.09 L179.75,347.47 L179.84,343.71 L179.93,339.89 L180.02,335.07 L180.11,331.62 L180.2,326.87 L180.29,322.9 L180.38,318.62 L180.47,314.62 L180.57,310.69 L180.66,306.72 L180.75,302.34 L180.84,299.04 L180.93,295.85 L181.02,292.42 L181.11,288.67 L181.2,286.23 L181.29,284.02 L181.38,282.19 L181.47,280.06 L181.56,279.35 L181.65,278.01 L181.74,278.1 L181.84,277.2 L181.93,276.86 L182.02,277.01 L182.11,277.88 L182.2,277.84 L182.29,278.96 L182.38,279.44 L182.47,281.84 L182.56,283.55 L182.65,285.41 L182.74,287.34 L182.83,289.15 L182.92,292.07 L183.01,294.69 L183.11,298.2 L183.2,300.98 L183.29,303.73 L183.38,306.46 L183.47,309.31 L183.56,312.44 L183.65,315.63 L183.74,318.49 L183.83,320.84 L183.92,323.47 L184.01,325.24 L184.1,327.21 L184.19,329.19 L184.28,331.58 L184.38,332.24 L184.47,334.18 L184.56,334.87 L184.65,334.78 L184.74,335.41 L184.83,334.78 L184.92,334.55 L185.01,333.93 L185.1,333.02 L185.19,331.46 L185.28,330.08 L185.37,329.24 L185.46,326.29 L185.55,324.78 L185.65,322.67 L185.74,319.66 L185.83,317.11 L185.92,314.7 L186.01,312.16 L186.1,310.31 L186.19,307.43 L186.28,304.3 L186.37,301.62 L186.46,300.02 L186.55,297.27 L186.64,295.88 L186.73,293.3 L186.82,292.03 L186.92,290.86 L187.01,289.53 L187.1,288.13 L187.19,287.52 L187.28,286.85 L187.37,287.06 L187.46,286.9 L187.55,287.52 L187.64,287.75 L187.73,289.48 L187.82,289.99 L187.91,291.37 L188,293.53 L188.09,294.54 L188.19,296.61 L188.28,298.31 L188.37,301.3 L188.46,303.31 L188.55,305.18 L188.64,307.48 L188.73,310.17 L188.82,312.93 L188.91,314.87 L189,317.47 L189.09,319.58 L189.18,321.49 L189.27,323.14 L189.36,325.89 L189.45,326.7 L189.55,327.81 L189.64,329.52 L189.73,330.54 L189.82,330.81 L189.91,331.76 L190,331.03 L190.09,331.22 L190.18,330.61 L190.27,329.81 L190.36,329.7 L190.45,328.36 L190.54,326.73 L190.63,324.93 L190.72,323.42 L190.82,321.58 L190.91,319.77 L191,317.14 L191.09,314.3 L191.18,312.94 L191.27,309.94 L191.36,307.98 L191.45,304.79 L191.54,302.65 L191.63,301.06 L191.72,298.11 L191.81,296.83 L191.9,294.57 L191.99,293.37 L192.09,291.86 L192.18,290.85 L192.27,289.56 L192.36,288.64 L192.45,288.51 L192.54,288.23 L192.63,288.19 L192.72,287.48 L192.81,288.45 L192.9,288.63 L192.99,290.07 L193.08,291.17 L193.17,292.77 L193.26,293.93 L193.36,296.18 L193.45,297.61 L193.54,300.13 L193.63,302.59 L193.72,304.54 L193.81,307.28 L193.9,309.24 L193.99,311.6 L194.08,313.58 L194.17,315.54 L194.26,318.65 L194.35,320.26 L194.44,321.98 L194.53,323.97 L194.63,326.11 L194.72,327.37 L194.81,328.07 L194.9,329.55 L194.99,330.19 L195.08,331.15 L195.17,330.95 L195.26,331.27 L195.35,330.84 L195.44,330.96 L195.53,330.34 L195.62,329.49 L195.71,327.91 L195.8,327.12 L195.9,325.3 L195.99,323.24 L196.08,321.78 L196.17,319.79 L196.26,317.7 L196.35,315.23 L196.44,312.65 L196.53,310.87 L196.62,308.26 L196.71,305.45 L196.8,303.71 L196.89,301.76 L196.98,299.03 L197.07,296.96 L197.17,295.28 L197.26,294.03 L197.35,292.32 L197.44,291.18 L197.53,289.41 L197.62,289.5 L197.71,287.89 L197.8,288.13 L197.89,288.06 L197.98,287.37 L198.07,287.73 L198.16,289.08 L198.25,289.58 L198.34,290.8 L198.44,291.31 L198.53,292.55 L198.62,294.81 L198.71,296.51 L198.8,298.77 L198.89,300.73 L198.98,302.91 L199.07,304.41 L199.16,307.24 L199.25,309.26 L199.34,311.77 L199.43,313.78 L199.52,315.97 L199.61,318.35 L199.7,320.5 L199.8,321.74 L199.89,323.51 L199.98,325.65 L200.07,327.18 L200.16,328.31 L200.25,329.34 L200.34,329.72 L200.43,330.89 L200.52,331.36 L200.61,330.83 L200.7,331.04 L200.79,331.24 L200.88,330.21 L200.97,329.1 L201.07,328.33 L201.16,327.41 L201.25,325.86 L201.34,323.85 L201.43,322.25 L201.52,320.91 L201.61,318.54 L201.7,315.95 L201.79,314.48 L201.88,311.85 L201.97,309.39 L202.06,307.39 L202.15,304.71 L202.24,303.18 L202.34,300.1 L202.43,298.26 L202.52,296.22 L202.61,294.83 L202.7,293.28 L202.79,292.02 L202.88,291.01 L202.97,289.53 L203.06,288.94 L203.15,287.76 L203.24,288.17 L203.33,288.19 L203.42,287.51 L203.51,287.67 L203.61,288.86 L203.7,289.22 L203.79,290.42 L203.88,291.6 L203.97,293.26 L204.06,294.97 L204.15,296.61 L204.24,298.35 L204.33,300.22 L204.42,302.42 L204.51,304.79 L204.6,306.83 L204.69,310.08 L204.78,312.38 L204.88,314.36 L204.97,316.83 L205.06,318.36 L205.15,320.78 L205.24,321.95 L205.33,324.56 L205.42,325.44 L205.51,327.64 L205.6,327.92 L205.69,329.57 L205.78,330.48 L205.87,331.02 L205.96,330.95 L206.05,330.9 L206.15,330.99 L206.24,331.2 L206.33,330.35 L206.42,329.41 L206.51,328.61 L206.6,326.65 L206.69,325.47 L206.78,323.86 L206.87,322.58 L206.96,320.37 L207.05,318.66 L207.14,316.44 L207.23,313.75 L207.32,312.07 L207.42,309.33 L207.51,307.53 L207.6,304.69 L207.69,303.17 L207.78,300.26 L207.87,299.13 L207.96,297.05 L208.05,294.79 L208.14,293.5 L208.23,292.28 L208.32,291.05 L208.41,289.61 L208.5,289.02 L208.59,287.78 L208.69,287.58 L208.78,287.73 L208.87,287.67 L208.96,288.48 L209.05,288.83 L209.14,289.23 L209.23,290.15 L209.32,292.2 L209.41,293.44 L209.5,294.55 L209.59,296.84 L209.68,298.68 L209.77,300.97 L209.86,302.29 L209.96,305.27 L210.05,306.9 L210.14,309.81 L210.23,311.89 L210.32,313.43 L210.41,316.5 L210.5,317.91 L210.59,320.56 L210.68,321.82 L210.77,324.13 L210.86,325.53 L210.95,326.68 L211.04,328.71 L211.13,329.45 L211.22,329.71 L211.32,331.01 L211.41,331.06 L211.5,330.82 L211.59,330.95 L211.68,330.38 L211.77,330.2 L211.86,329.28 L211.95,328.92 L212.04,326.75 L212.13,325.89 L212.22,324.18 L212.31,322.42 L212.4,320.76 L212.49,318.05 L212.59,316.26 L212.68,314.2 L212.77,312.37 L212.86,309.47 L212.95,307.3 L213.04,304.71 L213.13,302.92 L213.22,301.05 L213.31,298.69 L213.4,297.28 L213.49,295.41 L213.58,293.41 L213.67,291.89 L213.76,290.28 L213.86,290.23 L213.95,288.48 L214.04,288.37 L214.13,288.4 L214.22,287.86 L214.31,287.73 L214.4,288.31 L214.49,288.89 L214.58,289.18 L214.67,290.61 L214.76,291.25 L214.85,293.41 L214.94,295.17 L215.03,296.5 L215.13,298.13 L215.22,300.55 L215.31,302.78 L215.4,304.63 L215.49,306.59 L215.58,309.12 L215.67,311.37 L215.76,313.84 L215.85,315.77 L215.94,317.78 L216.03,320.56 L216.12,321.52 L216.21,323.89 L216.3,325.49 L216.4,326.91 L216.49,327.92 L216.58,329.26 L216.67,329.96 L216.76,330.92 L216.85,331.35 L216.94,331.23 L217.03,331.57 L217.12,331.32 L217.21,330.05 L217.3,329.88 L217.39,328.36 L217.48,326.83 L217.57,325.53 L217.67,324.73 L217.76,322.6 L217.85,320.62 L217.94,318.83 L218.03,316.7 L218.12,313.87 L218.21,312.5 L218.3,309.48 L218.39,307.29 L218.48,305.68 L218.57,303.27 L218.66,300.97 L218.75,298.52 L218.84,297.57 L218.94,294.81 L219.03,294.08 L219.12,292.36 L219.21,291.41 L219.3,289.3 L219.39,288.45 L219.48,288.4 L219.57,287.7 L219.66,288.26 L219.75,287.79 L219.84,288.33 L219.93,288.66 L220.02,289.7 L220.11,290.31 L220.21,291.71 L220.3,293.09 L220.39,294.67 L220.48,296.56 L220.57,298.27 L220.66,300.05 L220.75,302.25 L220.84,304.97 L220.93,306.64 L221.02,309.41 L221.11,311.19 L221.2,313.35 L221.29,315.66 L221.38,317.63 L221.47,320.09 L221.57,321.39 L221.66,323.3 L221.75,325.32 L221.84,327.03 L221.93,327.62 L222.02,329.08 L222.11,330.4 L222.2,330.75 L222.29,331.46 L222.38,331.23 L222.47,331.4 L222.56,331.21 L222.65,330.01 L222.74,329.72 L222.84,328.04 L222.93,327.13 L223.02,326.06 L223.11,324.59 L223.2,323.02 L223.29,320.91 L223.38,318.69 L223.47,317.17 L223.56,314.39 L223.65,312.54 L223.74,310.33 L223.83,308.07 L223.92,305.67 L224.01,303.12 L224.11,301.36 L224.2,298.87 L224.29,297.13 L224.38,295.49 L224.47,293.19 L224.56,291.75 L224.65,291.26 L224.74,289.9 L224.83,288.94 L224.92,288.54 L225.01,288.11 L225.1,287.3 L225.19,287.77 L225.28,287.7 L225.38,288.87 L225.47,289.32 L225.56,290.41 L225.65,291.34 L225.74,293.35 L225.83,295.11 L225.92,296.01 L226.01,297.8 L226.1,300.71 L226.19,301.91 L226.28,304.52 L226.37,307.19 L226.46,309.26 L226.55,311.62 L226.65,313.49 L226.74,315.18 L226.83,317.97 L226.92,319.7 L227.01,322.05 L227.1,324.03 L227.19,324.76 L227.28,326.33 L227.37,328.46 L227.46,329.37 L227.55,329.92 L227.64,330.34 L227.73,331.23 L227.82,331.68 L227.92,331.38 L228.01,330.76 L228.1,329.9 L228.19,330.05 L228.28,328.32 L228.37,327.24 L228.46,326.16 L228.55,324.45 L228.64,323.18 L228.73,320.82 L228.82,318.52 L228.91,316.92 L229,314.47 L229.09,312.12 L229.19,310.45 L229.28,307.86 L229.37,305.75 L229.46,303.61 L229.55,301.07 L229.64,299.62 L229.73,297.18 L229.82,295.16 L229.91,294.06 L230,292.79 L230.09,290.61 L230.18,289.54 L230.27,289.23 L230.36,288.03 L230.46,288.29 L230.55,288.15 L230.64,287.65 L230.73,288.58 L230.82,288.87 L230.91,289.31 L231,290.7 L231.09,292.17 L231.18,292.57 L231.27,294.77 L231.36,296.56 L231.45,298.15 L231.54,299.81 L231.63,302.35 L231.72,304.41 L231.82,306.36 L231.91,308.42 L232,311.06 L232.09,313.1 L232.18,315.94 L232.27,318.08 L232.36,320.26 L232.45,322.02 L232.54,323.86 L232.63,324.88 L232.72,326.2 L232.81,328.39 L232.9,328.89 L232.99,329.4 L233.09,330.11 L233.18,331.3 L233.27,331.07 L233.36,330.91 L233.45,331.33 L233.54,330.74 L233.63,329.29 L233.72,328.54 L233.81,327.18 L233.9,326.41 L233.99,324.76 L234.08,322.4 L234.17,320.97 L234.26,318.86 L234.36,316.47 L234.45,315.03 L234.54,312.77 L234.63,310.09 L234.72,307.66 L234.81,305.76 L234.9,303.36 L234.99,300.96 L235.08,298.8 L235.17,297.52 L235.26,295.2 L235.35,294.12 L235.44,292.36 L235.53,290.79 L235.63,290.16 L235.72,288.97 L235.81,288.69 L235.9,287.9 L235.99,287.86 L236.08,287.99 L236.17,288.6 L236.26,288.84 L236.35,289.16 L236.44,290.8 L236.53,291.32 L236.62,292.65 L236.71,294.11 L236.8,296.26 L236.9,298.14 L236.99,300.16 L237.08,302.17 L237.17,304 L237.26,306.56 L237.35,308.82 L237.44,310.85 L237.53,313.61 L237.62,316.11 L237.71,317.28 L237.8,319.91 L237.89,321.73 L237.98,323.55 L238.07,324.95 L238.17,326.95 L238.26,328.2 L238.35,329.3 L238.44,329.65 L238.53,330.61 L238.62,330.42 L238.71,330.73 L238.8,330.58 L238.89,331.11 L238.98,330.59 L239.07,329.24 L239.16,328.39 L239.25,327.58 L239.34,326.12 L239.44,324.96 L239.53,322.21 L239.62,321.28 L239.71,318.54 L239.8,316.82 L239.89,314.37 L239.98,312.84 L240.07,310.1 L240.16,307.89 L240.25,305.4 L240.34,303.8 L240.43,300.8 L240.52,298.7 L240.61,297.61 L240.71,295.94 L240.8,293.81 L240.89,292.44 L240.98,290.93 L241.07,289.47 L241.16,288.89 L241.25,288.23 L241.34,287.63 L241.43,287.75 L241.52,288.11 L241.61,288.6 L241.7,288.98 L241.79,289.38 L241.88,290.74 L241.98,291.89 L242.07,292.8 L242.16,294.23 L242.25,296.5 L242.34,297.67 L242.43,299.83 L242.52,302.38 L242.61,304.42 L242.7,307 L242.79,308.56 L242.88,310.68 L242.97,313.06 L243.06,316.02 L243.15,317.24 L243.24,319.92 L243.34,321.59 L243.43,323.72 L243.52,325.31 L243.61,326.83 L243.7,328.43 L243.79,328.93 L243.88,329.87 L243.97,330.35 L244.06,331.05 L244.15,330.6 L244.24,330.83 L244.33,330.5 L244.42,330.48 L244.51,329.05 L244.61,328.25 L244.7,327.13 L244.79,326.48 L244.88,324.4 L244.97,323.23 L245.06,321.22 L245.15,318.67 L245.24,316.91 L245.33,314.27 L245.42,312.05 L245.51,310.62 L245.6,308.17 L245.69,305.43 L245.78,303.48 L245.88,300.89 L245.97,298.85 L246.06,296.98 L246.15,295.32 L246.24,294.14 L246.33,292.6 L246.42,291.77 L246.51,289.98 L246.6,289.78 L246.69,288.81 L246.78,288.72 L246.87,288.42 L246.96,287.61 L247.05,288.3 L247.15,288.33 L247.24,289.18 L247.33,289.81 L247.42,290.3 L247.51,292.13 L247.6,293.44 L247.69,294.37 L247.78,296.52 L247.87,297.89 L247.96,299.73 L248.05,302.36 L248.14,304.37 L248.23,305.89 L248.32,308.1 L248.42,310.61 L248.51,312.87 L248.6,315 L248.69,316.44 L248.78,318.48 L248.87,320.79 L248.96,322.73 L249.05,323.81 L249.14,325.58 L249.23,326.79 L249.32,328.24 L249.41,329.3 L249.5,330.06 L249.59,330.46 L249.69,330.74 L249.78,331.6 L249.87,331.55 L249.96,331.68 L250.05,331.64 L250.14,332.04 L250.23,331.29 L250.32,331.6 L250.41,330.48 L250.5,328.86 L250.59,327.58 L250.68,326.72 L250.77,324.4" stroke="#4a4a4a" stroke-width="1.0"/>
<path d="M250.77,324.4 L250.86,322.44 L250.96,319.99 L251.05,316.73 L251.14,314.4 L251.23,311.6 L251.32,308.74 L251.41,305.06 L251.5,302.24 L251.59,298.58 L251.68,295.55 L251.77,292.29 L251.86,290.12 L251.95,286.72 L252.04,283.41 L252.13,281.02 L252.23,277.83 L252.32,275.81 L252.41,273.1 L252.5,271.65 L252.59,268.89 L252.68,267.38 L252.77,265.19 L252.86,263.99 L252.95,262.73 L253.04,261.92 L253.13,261.38 L253.22,262.45 L253.31,262.12 L253.4,262.61 L253.5,264.4 L253.59,265.18 L253.68,267.35 L253.77,269.23 L253.86,272.11 L253.95,274.56 L254.04,277.23 L254.13,280.81 L254.22,283.42 L254.31,287.51 L254.4,291.23 L254.49,294.36 L254.58,298.25 L254.67,302.15 L254.76,306.38 L254.86,309.94 L254.95,313.76 L255.04,317.89 L255.13,321.97 L255.22,326.71 L255.31,329.67 L255.4,334.44 L255.49,337.42 L255.58,341.63 L255.67,344.88 L255.76,348.72 L255.85,351.8 L255.94,353.91 L256.03,356.46 L256.13,358.71 L256.22,360.19 L256.31,361.56 L256.4,363.21 L256.49,363.41 L256.58,363.21 L256.67,361.56 L256.76,360.48 L256.85,358.43 L256.94,357.08 L257.03,354.36 L257.12,352.09 L257.21,348.52 L257.3,344.9 L257.4,341.31 L257.49,337.56 L257.58,333.81 L257.67,329.28 L257.76,325.24 L257.85,320.95 L257.94,316.79 L258.03,311.67 L258.12,306.8 L258.21,303.12 L258.3,298.3 L258.39,293.33 L258.48,289.25 L258.57,285.08 L258.67,281.16 L258.76,277.87 L258.85,273.64 L258.94,270.39 L259.03,267.1 L259.12,264.65 L259.21,262.24 L259.3,260.19 L259.39,258.98 L259.48,257.39 L259.57,256.11 L259.66,257.04 L259.75,257.39 L259.84,258.85 L259.94,261.32 L260.03,263.53 L260.12,265.42 L260.21,269.05 L260.3,271.79 L260.39,275.28 L260.48,278.73 L260.57,283.49 L260.66,287.22 L260.75,291.33 L260.84,295.84 L260.93,300.99 L261.02,305.65 L261.11,310.06 L261.21,314.86 L261.3,319.75 L261.39,324.02 L261.48,329.02 L261.57,333.03 L261.66,337.11 L261.75,340.76 L261.84,344.33 L261.93,348.61 L262.02,351.67 L262.11,353.97 L262.2,356.49 L262.29,358.82 L262.38,360.32 L262.48,360.99 L262.57,362.45 L262.66,360.94 L262.75,359.73 L262.84,358.81 L262.93,356.14 L263.02,354.07 L263.11,351.54 L263.2,348.14 L263.29,343.96 L263.38,340.26 L263.47,336.47 L263.56,332.88 L263.65,328.37 L263.75,323.97 L263.84,318.44 L263.93,314.55 L264.02,309.24 L264.11,304.46 L264.2,299.22 L264.29,294.67 L264.38,291.02 L264.47,285.67 L264.56,282.02 L264.65,277.76 L264.74,273.97 L264.83,271.41 L264.92,268.22 L265.01,265.38 L265.11,262.63 L265.2,260.66 L265.29,258.98 L265.38,258.26 L265.47,257.49 L265.56,258.77 L265.65,259.89 L265.74,261.65 L265.83,264.06 L265.92,266.61 L266.01,269.97 L266.1,273.33 L266.19,276.28 L266.28,279.96 L266.38,284.16 L266.47,288.94 L266.56,293.03 L266.65,297.75 L266.74,302.99 L266.83,307.34 L266.92,312.47 L267.01,317.07 L267.1,321.38 L267.19,326.24 L267.28,330.51 L267.37,335.22 L267.46,339.51 L267.55,342.78 L267.65,346.99 L267.74,350.37 L267.83,352.3 L267.92,355.47 L268.01,356.83 L268.1,358.87 L268.19,360.44 L268.28,360.81 L268.37,360.21 L268.46,359.05 L268.55,356.9 L268.64,355.29 L268.73,352.65 L268.82,350.1 L268.92,346.45 L269.01,342.69 L269.1,338.9 L269.19,334.78 L269.28,330.8 L269.37,325.5 L269.46,321.84 L269.55,316.32 L269.64,312.07 L269.73,307.35 L269.82,301.69 L269.91,297.44 L270,292.9 L270.09,287.65 L270.19,283.97 L270.28,279.87 L270.37,275.55 L270.46,272.02 L270.55,268.68 L270.64,266.65 L270.73,263.69 L270.82,261.22 L270.91,260.55 L271,258.92 L271.09,258.19 L271.18,258.6 L271.27,260.87 L271.36,262.35 L271.46,264.69 L271.55,266.77 L271.64,269.5 L271.73,273.39 L271.82,276.38 L271.91,280.2 L272,285.09 L272.09,288.93 L272.18,293.21 L272.27,298.13 L272.36,303.68 L272.45,308.48 L272.54,313.33 L272.63,318.05 L272.73,322.46 L272.82,326.68 L272.91,331.22 L273,335.41 L273.09,339.68 L273.18,343.46 L273.27,347.7 L273.36,350.5 L273.45,352.7 L273.54,355.86 L273.63,357.2 L273.72,358.85 L273.81,360.13 L273.9,360.28 L274,359.47 L274.09,358.05 L274.18,356.18 L274.27,353.88 L274.36,351.56 L274.45,348.35 L274.54,345.19 L274.63,341.83 L274.72,337.26 L274.81,333.01 L274.9,328.18 L274.99,323.84 L275.08,319.09 L275.17,314.67 L275.26,310.17 L275.36,304.32 L275.45,300.2 L275.54,294.84 L275.63,290.9 L275.72,285.86 L275.81,282.17 L275.9,278.25 L275.99,274.7 L276.08,270.51 L276.17,267.6 L276.26,264.89 L276.35,263.07 L276.44,260.91 L276.53,259.99 L276.63,258.66 L276.72,258.33 L276.81,260.02 L276.9,261.39 L276.99,263.49 L277.08,265.4 L277.17,268.89 L277.26,271.79 L277.35,275.06 L277.44,278.46 L277.53,282.55 L277.62,287.79 L277.71,292.11 L277.8,296.35 L277.9,301.67 L277.99,306.42 L278.08,310.44 L278.17,315.76 L278.26,320.16 L278.35,324.88 L278.44,329.89 L278.53,334.14 L278.62,337.8 L278.71,342.57 L278.8,346.14 L278.89,349.57 L278.98,352.45 L279.07,354.52 L279.17,357.25 L279.26,358.29 L279.35,359.48 L279.44,360.71 L279.53,360.23 L279.62,358.88 L279.71,357.02 L279.8,354.62 L279.89,352.44 L279.98,348.82 L280.07,346.16 L280.16,342.9 L280.25,339.1 L280.34,334.05 L280.44,330.16 L280.53,325.92 L280.62,320.6 L280.71,316.64 L280.8,310.86 L280.89,305.91 L280.98,301.12 L281.07,297.03 L281.16,291.72 L281.25,287.27 L281.34,283.77 L281.43,279.13 L281.52,275.99 L281.61,272.38 L281.71,268.37 L281.8,266.48 L281.89,263.28 L281.98,261.24 L282.07,259.73 L282.16,259.33 L282.25,258.67 L282.34,259.49 L282.43,260.76 L282.52,262.96 L282.61,264.98 L282.7,268.27 L282.79,270.63 L282.88,274.44 L282.98,277.86 L283.07,281.52 L283.16,285.6 L283.25,290.22 L283.34,294.66 L283.43,300.01 L283.52,305.01 L283.61,308.95 L283.7,314.16 L283.79,318.78 L283.88,323.39 L283.97,328.13 L284.06,332.6 L284.15,337.22 L284.25,341.37 L284.34,345.1 L284.43,347.72 L284.52,350.56 L284.61,353.42 L284.7,356 L284.79,358.01 L284.88,359.65 L284.97,360.43 L285.06,360.4 L285.15,358.64 L285.24,357.15 L285.33,355.31 L285.42,352.86 L285.52,349.83 L285.61,346.82 L285.7,343.48 L285.79,340 L285.88,335.11 L285.97,331.64 L286.06,326.85 L286.15,321.75 L286.24,317.93 L286.33,312.6 L286.42,307.71 L286.51,302.96 L286.6,298.63 L286.69,292.98 L286.78,288.45 L286.88,284.95 L286.97,280.42 L287.06,276.76 L287.15,273.49 L287.24,269.98 L287.33,266.66 L287.42,264.63 L287.51,261.83 L287.6,260.35 L287.69,258.85 L287.78,258.11 L287.87,259.14 L287.96,260.21 L288.05,262.39 L288.15,265.05 L288.24,267.35 L288.33,270.22 L288.42,272.95 L288.51,276.76 L288.6,280.89 L288.69,285.17 L288.78,288.98 L288.87,293.98 L288.96,298.24 L289.05,303.4 L289.14,308.01 L289.23,312.59 L289.32,317.7 L289.42,322.18 L289.51,327.22 L289.6,332.02 L289.69,336.31 L289.78,340.38 L289.87,343.92 L289.96,347.65 L290.05,350.65 L290.14,353.15 L290.23,355.05 L290.32,357.42 L290.41,358.47 L290.5,360.22 L290.59,359.72 L290.69,358.68 L290.78,357.28 L290.87,355.65 L290.96,353.77 L291.05,350.77 L291.14,347.64 L291.23,344.38 L291.32,340.23 L291.41,336.76 L291.5,332.94 L291.59,328.51 L291.68,323.44 L291.77,318.16 L291.86,313.8 L291.96,309.11 L292.05,304.05 L292.14,298.99 L292.23,294.84 L292.32,289.79 L292.41,286.18 L292.5,281.65 L292.59,277.73 L292.68,273.97 L292.77,270.6 L292.86,267.87 L292.95,265.41 L293.04,262.38 L293.13,260.87 L293.23,260.06 L293.32,258.45 L293.41,259.57 L293.5,260.41 L293.59,262.44 L293.68,263.51 L293.77,266.56 L293.86,269.15 L293.95,272.28 L294.04,276.51 L294.13,279.3 L294.22,284.25 L294.31,288.7 L294.4,292.73 L294.5,297.35 L294.59,301.64 L294.68,306.82 L294.77,311.42 L294.86,316.77 L294.95,321.36 L295.04,326.02 L295.13,330.77 L295.22,334.84 L295.31,339.51 L295.4,342.85 L295.49,347.04 L295.58,350.11 L295.67,352.2 L295.77,354.82 L295.86,357.4 L295.95,358.65 L296.04,360.22 L296.13,360.61 L296.22,359.33 L296.31,358.19 L296.4,355.82 L296.49,353.78 L296.58,350.59 L296.67,347.39 L296.76,343.68 L296.85,339.68 L296.94,335.88 L297.04,331.42 L297.13,326.88 L297.22,322.1 L297.31,317.42 L297.4,312.54 L297.49,307.3 L297.58,302.58 L297.67,297.51 L297.76,292.88 L297.85,288.96 L297.94,283.79 L298.03,279.64 L298.12,276.17 L298.21,272.36 L298.3,269.35 L298.4,265.83 L298.49,263.99 L298.58,261.62 L298.67,260.22 L298.76,258.87 L298.85,259.14 L298.94,260.2 L299.03,261.53 L299.12,263.48 L299.21,265.42 L299.3,268.5 L299.39,271.21 L299.48,275.14 L299.57,278.57 L299.67,282.93 L299.76,287.43 L299.85,292.2 L299.94,296.65 L300.03,301.53 L300.12,306.8 L300.21,311.14 L300.3,316.65 L300.39,321.33 L300.48,326.04 L300.57,330.08 L300.66,335.02 L300.75,339.57 L300.84,342.94 L300.94,346.83 L301.03,350.15 L301.12,352.19 L301.21,355.56 L301.3,357.5 L301.39,359.24 L301.48,360.29 L301.57,360.76 L301.66,359.19 L301.75,357.4 L301.84,355.81 L301.93,353.24 L302.02,350.27 L302.11,347.36 L302.21,344.38 L302.3,339.85 L302.39,335.56 L302.48,331.21 L302.57,327.48 L302.66,322.07 L302.75,317.88 L302.84,312.92 L302.93,307.83 L303.02,302.61 L303.11,298.07 L303.2,293.4 L303.29,288.74 L303.38,284.64 L303.48,279.87 L303.57,275.91 L303.66,272.54 L303.75,268.73 L303.84,266.07 L303.93,264.05 L304.02,261.73 L304.11,260.18 L304.2,259.33 L304.29,258.88 L304.38,258.8 L304.47,259.86 L304.56,261.31 L304.65,262.83 L304.75,265.26 L304.84,267.9 L304.93,271.4 L305.02,274.59 L305.11,278.83 L305.2,283.47" stroke="#4a4a4a" stroke-width="0.9"/>
<path d="M305.2,283.47 L305.29,287.89 L305.38,292.77 L305.47,298.66 L305.56,304.28 L305.65,309.49 L305.74,315.22 L305.83,321.57 L305.92,327.25 L306.02,333.32 L306.11,338.28 L306.2,344.14 L306.29,349.17 L306.38,354.86 L306.47,359.6 L306.56,363.16 L306.65,367.94 L306.74,370.9 L306.83,373.81 L306.92,376.56 L307.01,378.36 L307.1,380.02 L307.19,381.31 L307.29,380.9 L307.38,379.32 L307.47,377.81 L307.56,375.57 L307.65,372.75 L307.74,368.66 L307.83,365.18 L307.92,361.03 L308.01,356.3 L308.1,351.35 L308.19,346.12 L308.28,340.7 L308.37,334.55 L308.46,329.13 L308.55,322.33 L308.65,316.28 L308.74,310.05 L308.83,302.96 L308.92,296.32 L309.01,290.78 L309.1,284.6 L309.19,278.09 L309.28,272.37 L309.37,267.25 L309.46,261.86 L309.55,256.69 L309.64,252.64 L309.73,248.15 L309.82,245.1 L309.92,241.39 L310.01,238.85 L310.1,236.66 L310.19,234.98 L310.28,234.77 L310.37,236.36 L310.46,238.53 L310.55,240.9 L310.64,244.09 L310.73,247.49 L310.82,251.64 L310.91,256.18 L311,261.62 L311.09,266.25 L311.19,272.54 L311.28,277.89 L311.37,283.95 L311.46,290.86 L311.55,297.21 L311.64,304.66 L311.73,310.48 L311.82,317.84 L311.91,324.7 L312,330.93 L312.09,337.56 L312.18,343.56 L312.27,349.55 L312.36,354.33 L312.46,359.57 L312.55,364.77 L312.64,368.93 L312.73,373.19 L312.82,376.17 L312.91,378.66 L313,381.59 L313.09,382.96 L313.18,384 L313.27,382.64 L313.36,380.49 L313.45,378.13 L313.54,374.18 L313.63,370.77 L313.73,367.31 L313.82,362.12 L313.91,356.74 L314,351.91 L314.09,346.15 L314.18,339.61 L314.27,332.93 L314.36,326.7 L314.45,320.15 L314.54,313.59 L314.63,306.56 L314.72,299.74 L314.81,292.15 L314.9,285.68 L315,280.08 L315.09,273.88 L315.18,267.95 L315.27,262.16 L315.36,256.76 L315.45,251.81 L315.54,248.17 L315.63,244.79 L315.72,240.87 L315.81,238.74 L315.9,237.38 L315.99,235.94 L316.08,236.02 L316.17,237.9 L316.27,240.49 L316.36,244.18 L316.45,246.92 L316.54,251.54 L316.63,255.51 L316.72,261.43 L316.81,266.6 L316.9,272.28 L316.99,278.19 L317.08,284.98 L317.17,291.67 L317.26,298.07 L317.35,305.69 L317.44,312.58 L317.54,319.24 L317.63,326.29 L317.72,333.04 L317.81,339.78 L317.9,345.84 L317.99,352.09 L318.08,357.2 L318.17,362.15 L318.26,367.34 L318.35,371.52 L318.44,374.61 L318.53,377.42 L318.62,380.68 L318.71,381.74 L318.81,382.87 L318.9,381.69 L318.99,379.72 L319.08,377.73 L319.17,374.19 L319.26,370.94 L319.35,366.99 L319.44,361.29 L319.53,356.63 L319.62,350.43 L319.71,344.9 L319.8,338.97 L319.89,331.59 L319.98,324.85 L320.07,317.67 L320.17,310.94 L320.26,303.65 L320.35,297.06 L320.44,290.61 L320.53,283 L320.62,277.46 L320.71,270.83 L320.8,265.55 L320.89,259.82 L320.98,255.11 L321.07,250.71 L321.16,245.78 L321.25,242.79 L321.34,240.42 L321.44,238.17 L321.53,236.14 L321.62,236.81 L321.71,238.65 L321.8,240.04 L321.89,243.16 L321.98,246.87 L322.07,250.48 L322.16,255.67 L322.25,260.13 L322.34,265.95 L322.43,271.66 L322.52,277.75 L322.61,284.03 L322.71,291.24 L322.8,298.59 L322.89,305.6 L322.98,312.11 L323.07,319.21 L323.16,325.79 L323.25,333.3 L323.34,339.26 L323.43,345.94 L323.52,351.41 L323.61,357.76 L323.7,363.04 L323.79,367.1 L323.88,371.72 L323.98,374.97 L324.07,377.94 L324.16,379.96 L324.25,381.91 L324.34,382.59 L324.43,381.86 L324.52,378.87 L324.61,376.91 L324.7,373.76 L324.79,368.93 L324.88,364.83 L324.97,360.09 L325.06,354.9 L325.15,348.41 L325.25,342.43 L325.34,335.68 L325.43,328.9 L325.52,322.58 L325.61,315.06 L325.7,308.58 L325.79,300.7 L325.88,293.87 L325.97,287.33 L326.06,281.01 L326.15,274.81 L326.24,268.23 L326.33,262.21 L326.42,257.21 L326.52,252.02 L326.61,248.51 L326.7,244.02 L326.79,241.61 L326.88,239.21 L326.97,237.09 L327.06,236.45 L327.15,237.69 L327.24,239.64 L327.33,242.56 L327.42,245.64 L327.51,249.07 L327.6,253.37 L327.69,258.67 L327.79,263.32 L327.88,269.57 L327.97,275.82 L328.06,281.6 L328.15,289 L328.24,295.77 L328.33,302.6 L328.42,310.33 L328.51,316.9 L328.6,323.48 L328.69,330.4 L328.78,338.08 L328.87,344.51 L328.96,349.76 L329.06,355.97 L329.15,361.08 L329.24,366.15 L329.33,370.83 L329.42,373.79 L329.51,377.03 L329.6,380.15 L329.69,381.59 L329.78,383.26 L329.87,381.51 L329.96,379.48 L330.05,377.13 L330.14,374.31 L330.23,370.19 L330.32,366.29 L330.42,360.75 L330.51,355.37 L330.6,349.84 L330.69,344.36 L330.78,337.44 L330.87,330.57 L330.96,324.07 L331.05,317.23 L331.14,309.41 L331.23,302.98 L331.32,295.68 L331.41,288.57 L331.5,282.21 L331.59,275.69 L331.69,269.7 L331.78,263.34 L331.87,257.55 L331.96,253.26 L332.05,248.95 L332.14,244.83 L332.23,241.72 L332.32,239.07 L332.41,237.76 L332.5,236.18 L332.59,237.49 L332.68,239.31 L332.77,241.33 L332.86,244.54 L332.96,248.12 L333.05,252.54 L333.14,257.86 L333.23,263.06 L333.32,268.91 L333.41,275.49 L333.5,281 L333.59,287.88 L333.68,295.43 L333.77,301.92 L333.86,309.53 L333.95,316.57 L334.04,323.09 L334.13,329.92 L334.23,336.93 L334.32,344.01 L334.41,349.89 L334.5,355.18 L334.59,361.06 L334.68,365.74 L334.77,370.13 L334.86,374.04 L334.95,377.06 L335.04,380.11 L335.13,381.83 L335.22,383.14 L335.31,381.64 L335.4,380.02 L335.5,377.3 L335.59,374.65 L335.68,370.31 L335.77,366.62 L335.86,361.43 L335.95,355.91 L336.04,350.02 L336.13,343.6 L336.22,337.75 L336.31,331.44 L336.4,324.23 L336.49,317.26 L336.58,309.42 L336.67,303.25 L336.77,295.87 L336.86,288.28 L336.95,281.91 L337.04,275.92 L337.13,269.67 L337.22,263.53 L337.31,258.25 L337.4,253.28 L337.49,248.7 L337.58,245.43 L337.67,242.05 L337.76,239.9 L337.85,237.3 L337.94,235.62 L338.04,236.72 L338.13,238.96 L338.22,241.67 L338.31,245.31 L338.4,248.78 L338.49,252.71 L338.58,257.77 L338.67,262.97 L338.76,269.16 L338.85,275.1 L338.94,281.57 L339.03,288.52 L339.12,294.57 L339.21,302.39 L339.31,309.16 L339.4,316.3 L339.49,322.84 L339.58,329.91 L339.67,337.33 L339.76,342.99 L339.85,349.27 L339.94,355.09 L340.03,360.45 L340.12,365.14 L340.21,369.57 L340.3,373.54 L340.39,376.97 L340.48,379.48 L340.58,381.17 L340.67,383.17 L340.76,381.39 L340.85,379.67 L340.94,377.33 L341.03,374.1 L341.12,370.16 L341.21,366.52 L341.3,361.46 L341.39,356.37 L341.48,350.33 L341.57,343.98 L341.66,337.75 L341.75,330.83 L341.84,324.11 L341.94,316.62 L342.03,309.58 L342.12,303.02 L342.21,295.73 L342.3,288.27 L342.39,282.12 L342.48,275.89 L342.57,269.92 L342.66,263.85 L342.75,257.79 L342.84,253.35 L342.93,249.27 L343.02,245.74 L343.11,242.06 L343.21,239.82 L343.3,237.77 L343.39,235.96 L343.48,236.95 L343.57,238.71 L343.66,241.35 L343.75,244.43 L343.84,248.57 L343.93,252.94 L344.02,257.81 L344.11,262.58 L344.2,268.42 L344.29,274.54 L344.38,281.74 L344.48,288.4 L344.57,294.64 L344.66,301.85 L344.75,308.67 L344.84,316.59 L344.93,323.64 L345.02,330.61 L345.11,337.35 L345.2,343.85 L345.29,349.06 L345.38,355.64 L345.47,360.36 L345.56,365.5 L345.65,370.34 L345.75,373.23 L345.84,376.63 L345.93,379.9 L346.02,381.45 L346.11,382.9 L346.2,381.82 L346.29,379.97 L346.38,377.46 L346.47,374.24 L346.56,370.15 L346.65,366.44 L346.74,360.78 L346.83,355.58 L346.92,350.64 L347.02,344.08 L347.11,337.73 L347.2,331.03 L347.29,324.16 L347.38,317.48 L347.47,309.68 L347.56,303.25 L347.65,295.37 L347.74,288.62 L347.83,282.17 L347.92,275.47 L348.01,269.4 L348.1,263.25 L348.19,258.75 L348.29,253.9 L348.38,249.01 L348.47,244.98 L348.56,242.23 L348.65,239 L348.74,237.92 L348.83,236.29 L348.92,236.9 L349.01,238.89 L349.1,242.21 L349.19,244.68 L349.28,249.08 L349.37,253.34 L349.46,258.11 L349.56,262.53 L349.65,269.08 L349.74,275.2 L349.83,281.39 L349.92,288.13 L350.01,295.05 L350.1,302.28 L350.19,308.94 L350.28,316.01 L350.37,322.95 L350.46,329.89 L350.55,336.47 L350.64,343.83 L350.73,349.56 L350.83,355.57 L350.92,360.98 L351.01,365.73 L351.1,369.77 L351.19,373.78 L351.28,377.44 L351.37,379.51 L351.46,381.08 L351.55,382.4 L351.64,381.33 L351.73,379.47 L351.82,377.54 L351.91,373.65 L352,370.75 L352.09,366.41 L352.19,360.82 L352.28,355.74 L352.37,349.8 L352.46,344.35 L352.55,337.48 L352.64,330.86 L352.73,323.91 L352.82,316.65 L352.91,309.44 L353,303.24 L353.09,295.23 L353.18,289.05 L353.27,282.6 L353.36,275.23 L353.46,269.7 L353.55,263.37 L353.64,258.74 L353.73,252.95 L353.82,249.13 L353.91,244.79 L354,241.86 L354.09,239.07 L354.18,237.26 L354.27,235.66 L354.36,237.82 L354.45,239.73 L354.54,242.28 L354.63,244.45 L354.73,248.17 L354.82,253.18 L354.91,258.19 L355,263.17 L355.09,268.9 L355.18,274.39 L355.27,281.36 L355.36,288.32 L355.45,294.7 L355.54,301.6 L355.63,309.32 L355.72,315.98 L355.81,322.94 L355.9,330.47 L356,336.78 L356.09,343.6 L356.18,349.25 L356.27,355 L356.36,361.12 L356.45,366.03 L356.54,370.37 L356.63,373.96 L356.72,376.66 L356.81,379.94 L356.9,381.94 L356.99,382.51 L357.08,381.78 L357.17,379.31 L357.27,376.85 L357.36,374 L357.45,370.61 L357.54,366.08 L357.63,360.98 L357.72,356.45 L357.81,349.9 L357.9,343.93 L357.99,337.54 L358.08,330.67 L358.17,323.94 L358.26,317.07 L358.35,310.23 L358.44,302.64 L358.54,295.21 L358.63,288.6 L358.72,282.35 L358.81,275.65 L358.9,269.04 L358.99,263.93 L359.08,257.84 L359.17,253.49 L359.26,248.9 L359.35,245.46 L359.44,242.52 L359.53,239.66 L359.62,237.74 L359.71,235.76 L359.81,237.03 L359.9,238.75 L359.99,241.91 L360.08,244.88 L360.17,248.37 L360.26,253.03 L360.35,257.64 L360.44,263.21 L360.53,268.6 L360.62,275.14 L360.71,280.88 L360.8,287.56 L360.89,295.04 L360.98,302.11 L361.08,309.49 L361.17,316.44 L361.26,322.94 L361.35,330.3 L361.44,337.18 L361.53,343.81 L361.62,349.9 L361.71,355.05 L361.8,360.17 L361.89,365.53 L361.98,370.13 L362.07,373.91 L362.16,377.15 L362.25,379.81 L362.35,381.58 L362.44,382.66 L362.53,381.38 L362.62,379.47 L362.71,377.27 L362.8,374.42 L362.89,370.25 L362.98,365.81 L363.07,360.8 L363.16,356.25 L363.25,350.48 L363.34,344.44 L363.43,338.09 L363.52,330.49 L363.61,324.31 L363.71,317.39 L363.8,309.36 L363.89,302.97 L363.98,296.25 L364.07,289.17 L364.16,282.24 L364.25,275.16 L364.34,269.07 L364.43,263.41 L364.52,258.53 L364.61,253.25 L364.7,249.26 L364.79,245.34 L364.88,241.98 L364.98,239.41 L365.07,237.58 L365.16,235.96 L365.25,237.15 L365.34,238.88 L365.43,242.24 L365.52,244.48 L365.61,248.36 L365.7,252.86 L365.79,257.68 L365.88,262.75 L365.97,269.02 L366.06,274.71 L366.15,280.84 L366.25,288.01 L366.34,294.87 L366.43,302.48 L366.52,309.43 L366.61,316.46 L366.7,323.34 L366.79,330.49 L366.88,336.85 L366.97,343.82 L367.06,349.72 L367.15,355.63 L367.24,360.28 L367.33,365.15 L367.42,369.53 L367.52,374.09 L367.61,376.46 L367.7,379.34 L367.79,381.51 L367.88,382.45 L367.97,381.93 L368.06,379.44 L368.15,377.31 L368.24,374.36 L368.33,370.72 L368.42,365.91 L368.51,361.61 L368.6,355.44 L368.69,349.8 L368.79,343.73 L368.88,337.84 L368.97,330.76 L369.06,323.98 L369.15,317.49 L369.24,309.53 L369.33,302.27 L369.42,296.12 L369.51,288.43 L369.6,282.23 L369.69,275.97 L369.78,269.41 L369.87,264 L369.96,258.3 L370.06,253.28 L370.15,249.3 L370.24,245.19 L370.33,242.33 L370.42,239.07 L370.51,237.29 L370.6,236.64 L370.69,237.14 L370.78,239.31 L370.87,242.17 L370.96,245.2 L371.05,249.08 L371.14,252.68 L371.23,257.69 L371.33,263.14 L371.42,268.91 L371.51,275.36 L371.6,281.47 L371.69,287.57 L371.78,294.51 L371.87,302.48 L371.96,309.58 L372.05,316.63 L372.14,323.32 L372.23,329.89 L372.32,337.34 L372.41,343.08 L372.5,349.29 L372.6,355.65 L372.69,360.25 L372.78,365.14 L372.87,369.54 L372.96,373.68 L373.05,376.64 L373.14,379.79 L373.23,381.09 L373.32,382.24 L373.41,382.06 L373.5,379.85 L373.59,377.16 L373.68,373.54 L373.77,370.73 L373.86,366.06 L373.96,360.88 L374.05,355.78 L374.14,350.63 L374.23,343.82 L374.32,338.07 L374.41,331.37 L374.5,323.63 L374.59,317.09 L374.68,310.11 L374.77,302.67 L374.86,295.92 L374.95,288.5 L375.04,281.99 L375.13,275.65 L375.23,269.39 L375.32,264.12 L375.41,257.97 L375.5,253.15 L375.59,249.69 L375.68,245.87 L375.77,242.1 L375.86,239.22 L375.95,237.66 L376.04,236.36 L376.13,237.84 L376.22,238.93 L376.31,241.82 L376.4,244.5 L376.5,248.22 L376.59,253.01 L376.68,258.2 L376.77,263.4 L376.86,269.25 L376.95,274.59 L377.04,281.38 L377.13,287.98 L377.22,295.24 L377.31,302.12 L377.4,309.1 L377.49,316.13 L377.58,322.83 L377.67,330.5 L377.77,336.9 L377.86,343.08 L377.95,349.88 L378.04,354.89 L378.13,360.39 L378.22,365.57 L378.31,370.12 L378.4,373.78 L378.49,377.21 L378.58,379.13 L378.67,381.7 L378.76,383.06 L378.85,381.76 L378.94,379.82 L379.04,377.37 L379.13,374.34 L379.22,370.29 L379.31,365.53 L379.4,360.64 L379.49,355.55 L379.58,350.66 L379.67,344.06 L379.76,337.97 L379.85,331.04 L379.94,323.65 L380.03,316.49 L380.12,309.57 L380.21,302.95 L380.31,295.89 L380.4,288.89 L380.49,282.34 L380.58,275.5 L380.67,269.57 L380.76,263.6 L380.85,258.45 L380.94,253.97 L381.03,248.81 L381.12,245.28 L381.21,242.16 L381.3,239.86 L381.39,237.87 L381.48,236.59 L381.58,236.93 L381.67,239.68 L381.76,241.89 L381.85,245.06 L381.94,248.94 L382.03,253.41 L382.12,258.21 L382.21,263.2 L382.3,268.7 L382.39,275.38 L382.48,281.78 L382.57,288.56 L382.66,295.45 L382.75,301.55 L382.85,308.92 L382.94,316.16 L383.03,322.78 L383.12,330.22 L383.21,336.95 L383.3,343.17 L383.39,349.68 L383.48,355.18 L383.57,360.14 L383.66,364.9 L383.75,370.12 L383.84,373.28 L383.93,377.18 L384.02,378.87 L384.12,380.83 L384.21,382.27 L384.3,381.18 L384.39,379.79 L384.48,376.67 L384.57,374.24 L384.66,370.73 L384.75,365.96 L384.84,361.65 L384.93,355.61 L385.02,350.46 L385.11,344.25 L385.2,337.14 L385.29,330.73 L385.38,324.27 L385.48,316.46 L385.57,310.42 L385.66,302.75 L385.75,295.25 L385.84,288.83 L385.93,282.19 L386.02,275.96 L386.11,269.17 L386.2,264.05 L386.29,257.93 L386.38,253.43 L386.47,249.45 L386.56,245.39 L386.65,242.19 L386.75,239.93 L386.84,237.42 L386.93,236.64 L387.02,237.44 L387.11,239.41 L387.2,242.37 L387.29,244.66 L387.38,248.89 L387.47,253.45 L387.56,257.54 L387.65,263.19 L387.74,268.4 L387.83,275.52 L387.92,281.07 L388.02,287.83 L388.11,294.83 L388.2,302.14 L388.29,308.66 L388.38,316.3 L388.47,323.64 L388.56,329.92 L388.65,336.82 L388.74,343.53 L388.83,349.34 L388.92,355 L389.01,360.97 L389.1,365.09 L389.19,369.74 L389.29,373.88 L389.38,376.58 L389.47,378.95 L389.56,381.35 L389.65,382.45 L389.74,381.75 L389.83,379.61 L389.92,377.38 L390.01,373.76 L390.1,369.79 L390.19,366.29 L390.28,360.81 L390.37,356.1 L390.46,350.56 L390.56,344.01 L390.65,338.1 L390.74,330.56 L390.83,324.05 L390.92,316.49 L391.01,309.56 L391.1,303.32 L391.19,295.72 L391.28,288.4 L391.37,282.13 L391.46,275.45 L391.55,269.89 L391.64,264.07 L391.73,258.76 L391.83,253.9 L391.92,249.29 L392.01,245.49 L392.1,242.59 L392.19,239.23 L392.28,237.88 L392.37,236.89 L392.46,237.38 L392.55,239.92 L392.64,241.74 L392.73,244.58 L392.82,248.77 L392.91,252.63 L393,257.82 L393.1,263.17 L393.19,268.41 L393.28,275.46 L393.37,281.39 L393.46,287.73 L393.55,294.58 L393.64,302.34 L393.73,309.3 L393.82,316.07 L393.91,322.86 L394,330.52 L394.09,336.77 L394.18,342.83 L394.27,349.45 L394.37,355.14 L394.46,360.85 L394.55,365.25 L394.64,369.76 L394.73,373.32 L394.82,376.67 L394.91,379.16 L395,381.31" stroke="#4a4a4a" stroke-width="0.86"/>
<path d="M177.3,310.01 L177.39,284.65 L177.48,267.16 L177.57,257.1 L177.66,250.02 L177.75,246.46 L177.84,244.05 L177.93,243.6 L178.03,243.71 L178.12,245.58 L178.21,246.99 L178.3,248.97 L178.39,254.9 L178.48,261.04 L178.57,266.42 L178.66,272.07 L178.75,277.48 L178.84,283.32 L178.93,287.8 L179.02,293.33 L179.11,297.06 L179.2,301.47 L179.3,305.77 L179.39,309.25 L179.48,313.49 L179.57,317.3 L179.66,321.05 L179.75,324.4 L179.84,328.68 L179.93,331.33 L180.02,335.21 L180.11,338.07 L180.2,341.15 L180.29,343.11 L180.38,345.03 L180.47,347.23 L180.57,349.32 L180.66,349.74 L180.75,350.99 L180.84,350.85 L180.93,351.03 L181.02,350.45 L181.11,350.01 L181.2,348.33 L181.29,347.74 L181.38,346.24 L181.47,344.17 L181.56,340.99 L181.65,339.11 L181.74,335.7 L181.84,333.79 L181.93,330.1 L182.02,328.16 L182.11,325.17 L182.2,322 L182.29,318.78 L182.38,315.28 L182.47,312.71 L182.56,308.68 L182.65,305.68 L182.74,303.46 L182.83,299.68 L182.92,297.24 L183.01,294.57 L183.11,292.63 L183.2,289.74 L183.29,288.41 L183.38,286.12 L183.47,284.81 L183.56,283.72 L183.65,283.2 L183.74,282.62 L183.83,282.49 L183.92,282.66 L184.01,282.71 L184.1,283.07 L184.19,284.81 L184.28,285.38 L184.38,286.57 L184.47,288.47 L184.56,290.41 L184.65,292.17 L184.74,295.31 L184.83,297.69 L184.92,299.67 L185.01,303.04 L185.1,305.09 L185.19,308.01 L185.28,311 L185.37,313.83 L185.46,316.41 L185.55,319.14 L185.65,320.96 L185.74,322.92 L185.83,325.43 L185.92,327.45 L186.01,328.54 L186.1,330.04 L186.19,330.59 L186.28,331.53 L186.37,332.33 L186.46,332.97 L186.55,332.92 L186.64,332.66 L186.73,331.8 L186.82,331.15 L186.92,330.48 L187.01,329.13 L187.1,327.82 L187.19,326.16 L187.28,324.12 L187.37,321.88 L187.46,319.96 L187.55,316.81 L187.64,315.12 L187.73,312.43 L187.82,310.14 L187.91,307.56 L188,304.82 L188.09,303.11 L188.19,299.97 L188.28,298.79 L188.37,296.68 L188.46,294.12 L188.55,293 L188.64,291.62 L188.73,289.63 L188.82,289.2 L188.91,288.18 L189,287.37 L189.09,287.78 L189.18,287.29 L189.27,288.06 L189.36,288.97 L189.45,289.42 L189.55,290.93 L189.64,292.16 L189.73,292.72 L189.82,294.39 L189.91,296.68 L190,298.35 L190.09,301 L190.18,303.06 L190.27,305.09 L190.36,308.32 L190.45,310.2 L190.54,312.15 L190.63,315.05 L190.72,316.85 L190.82,319.02 L190.91,321.16 L191,323.37 L191.09,325.48 L191.18,326.34 L191.27,327.87 L191.36,329.41 L191.45,330.51 L191.54,330.99 L191.63,331.47 L191.72,331.35 L191.81,330.8 L191.9,330.44 L191.99,329.76 L192.09,328.93 L192.18,328.66 L192.27,326.89 L192.36,325.48 L192.45,323.86 L192.54,321.59 L192.63,319.78 L192.72,317.19 L192.81,314.8 L192.9,312.84 L192.99,310.12 L193.08,308.28 L193.17,306.18 L193.26,303.51 L193.36,300.96 L193.45,298.79 L193.54,297.3 L193.63,294.87 L193.72,293.9 L193.81,292.61 L193.9,290.9 L193.99,289.48 L194.08,288.5 L194.17,287.98 L194.26,287.71 L194.35,287.49 L194.44,287.46 L194.53,287.98 L194.63,288.68 L194.72,289.91 L194.81,290.67 L194.9,291.69 L194.99,293.4 L195.08,294.91 L195.17,297.06 L195.26,298.96 L195.35,301.4 L195.44,303.01 L195.53,305.28 L195.62,307.91 L195.71,310.75 L195.8,312.55 L195.9,314.67 L195.99,317.09 L196.08,319.18 L196.17,320.78 L196.26,322.81 L196.35,325.36 L196.44,326.71 L196.53,327.6 L196.62,329.11 L196.71,329.56 L196.8,330.22 L196.89,330.57 L196.98,331.61 L197.07,331.06 L197.17,331.31 L197.26,331.02 L197.35,329.46 L197.44,329.23 L197.53,327.43 L197.62,326.07 L197.71,324.25 L197.8,322.75 L197.89,321.23 L197.98,319.33 L198.07,316.48 L198.16,314.22 L198.25,311.86 L198.34,309.99 L198.44,308.15 L198.53,305.15 L198.62,303.24 L198.71,300.99 L198.8,298.6 L198.89,297.25 L198.98,294.84 L199.07,292.99 L199.16,292.38 L199.25,290.92 L199.34,289.49 L199.43,288.78 L199.52,287.77 L199.61,288.27 L199.7,287.4 L199.8,288.21 L199.89,287.6 L199.98,289.15 L200.07,289.69 L200.16,291.06 L200.25,291.34 L200.34,292.74 L200.43,294.55 L200.52,296.31 L200.61,298.59 L200.7,300.57 L200.79,302.41 L200.88,304.95 L200.97,306.68 L201.07,309.83 L201.16,311.56 L201.25,313.6 L201.34,316.06 L201.43,318.07 L201.52,320.02 L201.61,321.91 L201.7,323.78 L201.79,325.8 L201.88,327.22 L201.97,328.56 L202.06,329.41 L202.15,329.91 L202.24,330.32 L202.34,330.8 L202.43,330.9 L202.52,331.33 L202.61,330.42 L202.7,330.25 L202.79,329.04 L202.88,328.46 L202.97,327.18 L203.06,325.51 L203.15,323.81 L203.24,322.21 L203.33,320.77 L203.42,318.1 L203.51,316.14 L203.61,314.37 L203.7,311.69 L203.79,309.53 L203.88,306.94 L203.97,304.9 L204.06,302.97 L204.15,300.65 L204.24,298.95 L204.33,296.51 L204.42,295.1 L204.51,293.44 L204.6,291.57 L204.69,290.94 L204.78,289.17 L204.88,288.69 L204.97,287.63 L205.06,287.49 L205.15,287.41 L205.24,287.4 L205.33,288.22 L205.42,288.81 L205.51,289.46 L205.6,290.76 L205.69,291.44 L205.78,292.82 L205.87,294.57 L205.96,296.41 L206.05,298.57 L206.15,300.39 L206.24,302.82 L206.33,304.66 L206.42,306.97 L206.51,309.38 L206.6,311.29 L206.69,313.99 L206.78,316.77 L206.87,317.85 L206.96,320.24 L207.05,322.1 L207.14,324.28 L207.23,325.76 L207.32,327.17 L207.42,328.86 L207.51,329.66 L207.6,329.73 L207.69,330.77 L207.78,331.53 L207.87,331.28 L207.96,331.5 L208.05,330.51 L208.14,330.5 L208.23,329.59 L208.32,328.35 L208.41,326.95 L208.5,325.5 L208.59,324.32 L208.69,321.89 L208.78,320.39 L208.87,318.73 L208.96,315.78 L209.05,314.02 L209.14,311.47 L209.23,309.61 L209.32,307.03 L209.41,305.48 L209.5,303.1 L209.59,301.11 L209.68,298.8 L209.77,297.06 L209.86,295.26 L209.96,293.61 L210.05,292.43 L210.14,290.2 L210.23,289.44 L210.32,289 L210.41,288.31 L210.5,287.91 L210.59,287.68 L210.68,287.64 L210.77,288.23 L210.86,288.9 L210.95,289.35 L211.04,290.71 L211.13,291.77 L211.22,293.21 L211.32,294.36 L211.41,296.76 L211.5,298.66 L211.59,300.26 L211.68,302.08 L211.77,304.87 L211.86,306.64 L211.95,309.58 L212.04,311.35 L212.13,313.44 L212.22,316.35 L212.31,318.36 L212.4,319.79 L212.49,322.46 L212.59,323.71 L212.68,325.37 L212.77,327.14 L212.86,328.04 L212.95,329.33 L213.04,330.58 L213.13,330.24 L213.22,330.83 L213.31,330.79 L213.4,330.8 L213.49,330.79 L213.58,330.28 L213.67,329.13 L213.76,328.92 L213.86,327.09 L213.95,326.12 L214.04,323.76 L214.13,323.01 L214.22,320.07 L214.31,318.22 L214.4,316.91 L214.49,313.79 L214.58,311.97 L214.67,309.58 L214.76,307.54 L214.85,305.05 L214.94,303.46 L215.03,301.23 L215.13,299.34 L215.22,296.44 L215.31,295.33 L215.4,293.33 L215.49,292.35 L215.58,290.62 L215.67,289.51 L215.76,289.38 L215.85,287.75 L215.94,288.27 L216.03,288.23 L216.12,288.2 L216.21,288 L216.3,288.96 L216.4,289.09 L216.49,290.49 L216.58,292.14 L216.67,293.25 L216.76,295.01 L216.85,296.04 L216.94,298.09 L217.03,300.24 L217.12,302.25 L217.21,304.35 L217.3,307 L217.39,309.67 L217.48,310.96 L217.57,314.18 L217.67,316.03 L217.76,317.92 L217.85,320.28 L217.94,322.43 L218.03,323.34 L218.12,325.94 L218.21,327.19 L218.3,328.44 L218.39,329.74 L218.48,329.87 L218.57,331.2 L218.66,331.58 L218.75,331.29 L218.84,330.92 L218.94,330.63 L219.03,330.79 L219.12,329.68 L219.21,328.37 L219.3,326.92 L219.39,325.61 L219.48,324.44 L219.57,322.12 L219.66,320.33 L219.75,318.93 L219.84,316.66 L219.93,314.71 L220.02,312.63 L220.11,310.21 L220.21,307.54 L220.3,305.65 L220.39,302.63 L220.48,300.94 L220.57,298.78 L220.66,297.46 L220.75,295.23 L220.84,293.3 L220.93,292.2 L221.02,291.16 L221.11,289.65 L221.2,289.32 L221.29,288.42 L221.38,287.41 L221.47,288.17 L221.57,287.65 L221.66,288.44 L221.75,288.69 L221.84,289.72 L221.93,290.82 L222.02,292.15 L222.11,293.02 L222.2,295.04 L222.29,296.21 L222.38,298.65 L222.47,299.87 L222.56,302.11 L222.65,304.73 L222.74,306.3 L222.84,309.25 L222.93,310.8 L223.02,313.39 L223.11,315.39 L223.2,318.17 L223.29,320.44 L223.38,322.09 L223.47,323.64 L223.56,324.8 L223.65,326.74 L223.74,327.85 L223.83,329.32 L223.92,329.84 L224.01,331.16 L224.11,331.35 L224.2,330.7 L224.29,331.58 L224.38,331.05 L224.47,330.46 L224.56,329.87 L224.65,328.36 L224.74,327.81 L224.83,325.63 L224.92,324.54 L225.01,323.1 L225.1,321.23 L225.19,319.25 L225.28,316.46 L225.38,314.58 L225.47,312.01 L225.56,309.54 L225.65,308.26 L225.74,305.81 L225.83,303.29 L225.92,301.62 L226.01,299.55 L226.1,297.31 L226.19,295.89 L226.28,293.76 L226.37,292.01 L226.46,290.8 L226.55,290.1 L226.65,289.4 L226.74,288.24 L226.83,288.16 L226.92,287.63 L227.01,287.43 L227.1,288.48 L227.19,288.55 L227.28,289.66 L227.37,290.66 L227.46,291.44 L227.55,293.21 L227.64,294.87 L227.73,296.64 L227.82,298.2 L227.92,299.89 L228.01,302.65 L228.1,304.07 L228.19,306.35 L228.28,309.22 L228.37,311.74 L228.46,313.94 L228.55,315.86 L228.64,317.89 L228.73,320.38 L228.82,321.7 L228.91,323.91 L229,325.76 L229.09,326.24 L229.19,327.66 L229.28,328.63 L229.37,330.08 L229.46,330.87 L229.55,331.16 L229.64,330.88 L229.73,331.39 L229.82,330.49 L229.91,330.38 L230,329.03 L230.09,328.92 L230.18,327.81 L230.27,326.01 L230.36,324.26 L230.46,322.41 L230.55,321.07 L230.64,318.84 L230.73,316.42 L230.82,314.27 L230.91,312.59 L231,310.04 L231.09,307.5 L231.18,305.19 L231.27,303.21 L231.36,301.36 L231.45,298.71 L231.54,297.26 L231.63,295.25 L231.72,293.57 L231.82,292.27 L231.91,290.79 L232,290.42 L232.09,289.32 L232.18,288.35 L232.27,287.76 L232.36,287.5 L232.45,287.73 L232.54,288.06 L232.63,288.24 L232.72,289.28 L232.81,290.97 L232.9,291.21 L232.99,292.66 L233.09,294.1 L233.18,296.42 L233.27,297.86 L233.36,299.85 L233.45,302.07 L233.54,304.3 L233.63,306.42 L233.72,309.22 L233.81,310.83 L233.9,313.73 L233.99,315.93 L234.08,317.74 L234.17,320.1 L234.26,322.28 L234.36,324.06 L234.45,325.62 L234.54,326.55 L234.63,327.51 L234.72,328.62 L234.81,329.45 L234.9,330.36 L234.99,331.21 L235.08,331.25 L235.17,331.15 L235.26,330.39 L235.35,329.86 L235.44,329.74 L235.53,329.03 L235.63,326.93 L235.72,326.38 L235.81,324.13 L235.9,322.21 L235.99,321.26 L236.08,318.61 L236.17,317.22 L236.26,314.66 L236.35,312.56 L236.44,309.64 L236.53,307.61 L236.62,306.11 L236.71,303.18 L236.8,301.76 L236.9,299.43 L236.99,297.69 L237.08,295.73 L237.17,293.46 L237.26,292.07 L237.35,290.75 L237.44,290.06 L237.53,288.69 L237.62,288.57 L237.71,287.86 L237.8,287.72 L237.89,288.22 L237.98,288.54 L238.07,288.71 L238.17,289.65 L238.26,290.3 L238.35,291.27 L238.44,292.97 L238.53,294.17 L238.62,296.74 L238.71,297.92 L238.8,300.43 L238.89,302.62 L238.98,304.54 L239.07,306.82 L239.16,308.92 L239.25,311.39 L239.34,313.27 L239.44,315.24 L239.53,317.97 L239.62,320.07 L239.71,321.2 L239.8,323.97 L239.89,325.61 L239.98,326.24 L240.07,327.68 L240.16,328.81 L240.25,329.76 L240.34,330.88 L240.43,331.49 L240.52,330.67 L240.61,330.89 L240.71,331.03 L240.8,329.82 L240.89,329.07 L240.98,328.22 L241.07,327 L241.16,326.11 L241.25,324.14 L241.34,323.03 L241.43,321.31 L241.52,318.9 L241.61,316.89 L241.7,314.59 L241.79,312.36 L241.88,309.65 L241.98,307.38 L242.07,305.62 L242.16,303.07 L242.25,301.72 L242.34,298.89 L242.43,297.77 L242.52,295.29 L242.61,293.42 L242.7,292.27 L242.79,290.63 L242.88,290.31 L242.97,289.17 L243.06,288.18 L243.15,288.41 L243.24,288.06 L243.34,287.82 L243.43,288.49 L243.52,288.95 L243.61,289.73 L243.7,290.16 L243.79,291.55 L243.88,292.68 L243.97,294.49 L244.06,296.07 L244.15,298.36 L244.24,299.7 L244.33,301.68 L244.42,304.06 L244.51,306.33 L244.61,309.26 L244.7,311.18 L244.79,312.91 L244.88,315.42 L244.97,318.1 L245.06,320.27 L245.15,321.93 L245.24,323.15 L245.33,325.16 L245.42,326.99 L245.51,327.94 L245.6,328.91 L245.69,329.94 L245.78,330.3 L245.88,330.56 L245.97,330.66 L246.06,331.32 L246.15,331.28 L246.24,330.02 L246.33,329.13 L246.42,328.52 L246.51,327.26 L246.6,325.97 L246.69,325.34 L246.78,322.8 L246.87,321.17 L246.96,320.11 L247.05,317.93 L247.15,315.67 L247.24,313.69 L247.33,311.34 L247.42,309.78 L247.51,307.3 L247.6,304.94 L247.69,303.36 L247.78,301.31 L247.87,299.34 L247.96,297.37 L248.05,295.25 L248.14,293.89 L248.23,292.85 L248.32,291.52 L248.42,290.15 L248.51,289.58 L248.6,288.4 L248.69,288.61 L248.78,288.19 L248.87,287.74 L248.96,288.39 L249.05,288.57 L249.14,289.31 L249.23,290.13 L249.32,290.59 L249.41,291.29 L249.5,293.1 L249.59,294.89 L249.69,296.09 L249.78,298.32 L249.87,299.39 L249.96,301.66 L250.05,303.18 L250.14,305.59 L250.23,307.35 L250.32,310.66 L250.41,312.48 L250.5,315.17 L250.59,317.87 L250.68,320.78 L250.77,324.23" stroke="#f43c38" stroke-width="1.0"/>
<path d="M250.77,324.23 L250.86,326.77 L250.96,329.18 L251.05,331.86 L251.14,334.44 L251.23,337.53 L251.32,339.25 L251.41,341.88 L251.5,343.82 L251.59,345.32 L251.68,346.43 L251.77,347.49 L251.86,348.44 L251.95,349.15 L252.04,348.71 L252.13,348.85 L252.23,348.27 L252.32,346.95 L252.41,345.65 L252.5,344.61 L252.59,343.24 L252.68,341.75 L252.77,339.87 L252.86,336.79 L252.95,334.47 L253.04,331.52 L253.13,329 L253.22,326.24 L253.31,322.27 L253.4,319.13 L253.5,315.07 L253.59,311.62 L253.68,307.94 L253.77,303.95 L253.86,300.92 L253.95,297 L254.04,293.21 L254.13,289.63 L254.22,285.74 L254.31,282.36 L254.4,279.43 L254.49,275.55 L254.58,272.45 L254.67,270.12 L254.76,267.98 L254.86,264.99 L254.95,263.1 L255.04,261.33 L255.13,259.43 L255.22,258.14 L255.31,256.48 L255.4,256 L255.49,256.16 L255.58,257.29 L255.67,257.92 L255.76,260.06 L255.85,261.23 L255.94,263.49 L256.03,267.1 L256.13,269.78 L256.22,272.92 L256.31,276.23 L256.4,279.56 L256.49,283.99 L256.58,287.65 L256.67,291.3 L256.76,295.67 L256.85,300.44 L256.94,304.73 L257.03,309.54 L257.12,314.12 L257.21,317.95 L257.3,322.54 L257.4,327.08 L257.49,331.8 L257.58,335.3 L257.67,339.89 L257.76,343.26 L257.85,346.12 L257.94,350.23 L258.03,352.83 L258.12,355.15 L258.21,357.02 L258.3,359.02 L258.39,361.13 L258.48,361.78 L258.57,363 L258.67,362.26 L258.76,361.85 L258.85,359.58 L258.94,358.21 L259.03,355.98 L259.12,353.07 L259.21,350.05 L259.3,347.51 L259.39,343.32 L259.48,339.58 L259.57,335.51 L259.66,331.67 L259.75,327.35 L259.84,322.89 L259.94,318.01 L260.03,314.09 L260.12,308.53 L260.21,303.79 L260.3,299.48 L260.39,295.08 L260.48,290.16 L260.57,286.08 L260.66,282.74 L260.75,278.54 L260.84,274.66 L260.93,270.83 L261.02,267.71 L261.11,264.86 L261.21,262.45 L261.3,260.83 L261.39,258.82 L261.48,257.63 L261.57,257.28 L261.66,257.05 L261.75,258.35 L261.84,259.65 L261.93,262.52 L262.02,264.8 L262.11,266.88 L262.2,270.28 L262.29,273.46 L262.38,276.93 L262.48,280.45 L262.57,285.45 L262.66,288.87 L262.75,293.49 L262.84,298.57 L262.93,303.35 L263.02,308.27 L263.11,312.58 L263.2,316.88 L263.29,321.68 L263.38,326.75 L263.47,330.79 L263.56,335 L263.65,339.36 L263.75,343.47 L263.84,347.26 L263.93,350.43 L264.02,352.69 L264.11,355.42 L264.2,357.16 L264.29,358.95 L264.38,360.29 L264.47,361.11 L264.56,361.3 L264.65,360.42 L264.74,358.17 L264.83,356.01 L264.92,353.62 L265.01,351.39 L265.11,347.84 L265.2,344.74 L265.29,340.67 L265.38,337.28 L265.47,332.78 L265.56,328.63 L265.65,323.96 L265.74,319.4 L265.83,314.2 L265.92,309.22 L266.01,304.86 L266.1,299.69 L266.19,294.83 L266.28,290.36 L266.38,285.94 L266.47,281.83 L266.56,277.95 L266.65,273.97 L266.74,270.92 L266.83,267.82 L266.92,265.22 L267.01,262.88 L267.1,260.75 L267.19,258.9 L267.28,258.78 L267.37,257.61 L267.46,259.2 L267.55,260.9 L267.65,262.73 L267.74,264.75 L267.83,267.42 L267.92,270.21 L268.01,274.17 L268.1,277.97 L268.19,281.5 L268.28,285.21 L268.37,289.58 L268.46,295.03 L268.55,298.79 L268.64,304.48 L268.73,309.22 L268.82,313.14 L268.92,318.5 L269.01,323.17 L269.1,327.35 L269.19,332.42 L269.28,336.41 L269.37,340.06 L269.46,344.15 L269.55,347.78 L269.64,350.91 L269.73,354.04 L269.82,355.66 L269.91,357.89 L270,359.08 L270.09,360.35 L270.19,361.01 L270.28,359.74 L270.37,358.68 L270.46,356.46 L270.55,354.53 L270.64,351.45 L270.73,348.65 L270.82,345.12 L270.91,341.6 L271,336.95 L271.09,332.98 L271.18,328.65 L271.27,323.86 L271.36,319 L271.46,314.22 L271.55,309.57 L271.64,304.49 L271.73,299.71 L271.82,295.08 L271.91,291.03 L272,285.79 L272.09,281.65 L272.18,278.17 L272.27,273.9 L272.36,270.95 L272.45,267.6 L272.54,265.08 L272.63,262.97 L272.73,260.93 L272.82,260 L272.91,258.52 L273,258.78 L273.09,259.41 L273.18,261.17 L273.27,262.66 L273.36,265.07 L273.45,268.53 L273.54,270.94 L273.63,275.08 L273.72,278.43 L273.81,282.22 L273.9,286.57 L274,291.01 L274.09,295.5 L274.18,300.78 L274.27,305.4 L274.36,310.51 L274.45,314.87 L274.54,320.32 L274.63,325.16 L274.72,329.23 L274.81,333.55 L274.9,338.3 L274.99,341.68 L275.08,345.78 L275.17,348.49 L275.26,351.67 L275.36,354.55 L275.45,356.51 L275.54,358.21 L275.63,359.78 L275.72,360.47 L275.81,360.17 L275.9,359.33 L275.99,357.13 L276.08,355.51 L276.17,352.79 L276.26,349.67 L276.35,346.57 L276.44,343.28 L276.53,338.75 L276.63,334.56 L276.72,331.04 L276.81,326.7 L276.9,321.04 L276.99,316.41 L277.08,311.63 L277.17,307.1 L277.26,301.91 L277.35,297.75 L277.44,292.29 L277.53,287.89 L277.62,284.32 L277.71,279.93 L277.8,275.51 L277.9,272.74 L277.99,268.82 L278.08,266.81 L278.17,264.41 L278.26,262.27 L278.35,260.44 L278.44,258.69 L278.53,258.38 L278.62,259.65 L278.71,261 L278.8,262.46 L278.89,264.76 L278.98,266.93 L279.07,270.67 L279.17,273.63 L279.26,277.43 L279.35,281.51 L279.44,285.82 L279.53,289.84 L279.62,294.27 L279.71,299.36 L279.8,303.54 L279.89,309.15 L279.98,313.13 L280.07,317.99 L280.16,322.94 L280.25,328.08 L280.34,332.76 L280.44,337.03 L280.53,340.56 L280.62,344.77 L280.71,347.47 L280.8,350.56 L280.89,353.5 L280.98,355.49 L281.07,357.71 L281.16,359.73 L281.25,359.93 L281.34,360.7 L281.43,359.62 L281.52,357.95 L281.61,355.91 L281.71,353.69 L281.8,350.81 L281.89,347.07 L281.98,344.01 L282.07,340.67 L282.16,336.37 L282.25,332.45 L282.34,327.2 L282.43,323.03 L282.52,317.73 L282.61,313.19 L282.7,308.92 L282.79,303.46 L282.88,299.08 L282.98,294.65 L283.07,289.81 L283.16,285.56 L283.25,281.04 L283.34,277.56 L283.43,273.51 L283.52,270.24 L283.61,266.86 L283.7,265.02 L283.79,263.07 L283.88,260.27 L283.97,259.43 L284.06,258.98 L284.15,259 L284.25,260.28 L284.34,261.8 L284.43,264.57 L284.52,267.17 L284.61,269.25 L284.7,272.98 L284.79,276.51 L284.88,280.16 L284.97,284.37 L285.06,289.12 L285.15,292.6 L285.24,297.91 L285.33,302.46 L285.42,307.81 L285.52,312.58 L285.61,317.29 L285.7,321.89 L285.79,326.81 L285.88,330.46 L285.97,335.03 L286.06,339.33 L286.15,342.64 L286.24,346.51 L286.33,349.31 L286.42,353.12 L286.51,355.24 L286.6,357 L286.69,358.23 L286.78,360.27 L286.88,360.74 L286.97,359 L287.06,357.51 L287.15,356.24 L287.24,353.69 L287.33,351.29 L287.42,348.64 L287.51,344.75 L287.6,341.04 L287.69,336.88 L287.78,332.59 L287.87,329.1 L287.96,323.63 L288.05,319.58 L288.15,315.03 L288.24,310.03 L288.33,304.49 L288.42,300.09 L288.51,295.61 L288.6,291.32 L288.69,286.09 L288.78,282.3 L288.87,278.67 L288.96,274.21 L289.05,271.23 L289.14,268.6 L289.23,264.9 L289.32,263.42 L289.42,261.53 L289.51,259.32 L289.6,258.62 L289.69,259.23 L289.78,259.91 L289.87,261.71 L289.96,263.17 L290.05,266.44 L290.14,268.91 L290.23,271.67 L290.32,275.44 L290.41,279.39 L290.5,283.12 L290.59,287.2 L290.69,291.44 L290.78,296.97 L290.87,301.44 L290.96,305.78 L291.05,310.47 L291.14,316.1 L291.23,320.19 L291.32,324.84 L291.41,329.54 L291.5,333.88 L291.59,338.77 L291.68,342.06 L291.77,345.78 L291.86,349.08 L291.96,352.1 L292.05,354.91 L292.14,356.32 L292.23,357.87 L292.32,359.17 L292.41,360.05 L292.5,359.47 L292.59,357.83 L292.68,356.48 L292.77,354.8 L292.86,351.65 L292.95,349.22 L293.04,346.25 L293.13,341.82 L293.23,338.9 L293.32,334.14 L293.41,330.38 L293.5,325.37 L293.59,320.47 L293.68,315.86 L293.77,311.53 L293.86,306.51 L293.95,301.01 L294.04,296.17 L294.13,291.62 L294.22,287.17 L294.31,282.98 L294.4,279.72 L294.5,275.02 L294.59,271.61 L294.68,268.37 L294.77,266.41 L294.86,264.14 L294.95,262 L295.04,259.64 L295.13,258.72 L295.22,259.12 L295.31,260.2 L295.4,261.79 L295.49,263.6 L295.58,266.13 L295.67,268.4 L295.77,271.16 L295.86,275.02 L295.95,278.48 L296.04,282.97 L296.13,287.67 L296.22,292.24 L296.31,296.47 L296.4,301.59 L296.49,305.95 L296.58,311.72 L296.67,315.84 L296.76,321.1 L296.85,326.05 L296.94,330.61 L297.04,335.29 L297.13,339.34 L297.22,342.56 L297.31,346.18 L297.4,349.29 L297.49,352.52 L297.58,355.5 L297.67,357.64 L297.76,358.57 L297.85,359.87 L297.94,359.82 L298.03,359.08 L298.12,357.82 L298.21,355.97 L298.3,353.24 L298.4,351.14 L298.49,347.29 L298.58,344.09 L298.67,339.76 L298.76,335.61 L298.85,332.03 L298.94,327.48 L299.03,321.95 L299.12,317.27 L299.21,312.47 L299.3,307.39 L299.39,302.48 L299.48,298.05 L299.57,293.34 L299.67,288.61 L299.76,284.33 L299.85,280.43 L299.94,275.99 L300.03,272.16 L300.12,269.03 L300.21,266.09 L300.3,263.41 L300.39,262.03 L300.48,260.5 L300.57,259.48 L300.66,258.29 L300.75,259.59 L300.84,261.33 L300.94,263.5 L301.03,265.1 L301.12,268.22 L301.21,271.14 L301.3,274.96 L301.39,278.97 L301.48,282.9 L301.57,287.3 L301.66,291.82 L301.75,296.49 L301.84,301.06 L301.93,306.32 L302.02,310.94 L302.11,316.03 L302.21,321.56 L302.3,326.02 L302.39,330.34 L302.48,334.76 L302.57,339.12 L302.66,342.51 L302.75,346.61 L302.84,349.7 L302.93,352.95 L303.02,355.55 L303.11,357.01 L303.2,358.34 L303.29,360.06 L303.38,360.61 L303.48,358.78 L303.57,357.88 L303.66,355.97 L303.75,353.35 L303.84,350.37 L303.93,347.79 L304.02,344.07 L304.11,340.15 L304.2,335.96 L304.29,331.63 L304.38,327.7 L304.47,322.65 L304.56,317.78 L304.65,312.82 L304.75,307.38 L304.84,301.98 L304.93,296.41 L305.02,291.2 L305.11,285.67 L305.2,280.08" stroke="#f43c38" stroke-width="0.9"/>
<path d="M305.2,280.08 L305.29,274.64 L305.38,270.46 L305.47,265.01 L305.56,260.87 L305.65,256.97 L305.74,252.39 L305.83,249.51 L305.92,246.48 L306.02,243.7 L306.11,242.25 L306.2,240.82 L306.29,241.51 L306.38,242.51 L306.47,244.05 L306.56,247.13 L306.65,249.38 L306.74,253.2 L306.83,256.44 L306.92,261.01 L307.01,265.36 L307.1,270.4 L307.19,275.58 L307.29,280.6 L307.38,286.75 L307.47,292.78 L307.56,298.86 L307.65,304.33 L307.74,310.89 L307.83,316.97 L307.92,323.91 L308.01,330.11 L308.1,335.75 L308.19,341.44 L308.28,346.87 L308.37,352.97 L308.46,357.58 L308.55,362.96 L308.65,366.77 L308.74,370.88 L308.83,374.71 L308.92,376.82 L309.01,379.67 L309.1,381.48 L309.19,383.06 L309.28,383.54 L309.37,381.79 L309.46,380.67 L309.55,378.32 L309.64,374.42 L309.73,371.78 L309.82,367.48 L309.92,363.01 L310.01,358.65 L310.1,353.41 L310.19,347.31 L310.28,341.75 L310.37,335.38 L310.46,329.73 L310.55,323.01 L310.64,316.15 L310.73,309.21 L310.82,302.6 L310.91,296.24 L311,289.7 L311.09,283.68 L311.19,277.61 L311.28,271.2 L311.37,265.34 L311.46,260.58 L311.55,255.81 L311.64,250.72 L311.73,247.6 L311.82,243.51 L311.91,240.4 L312,237.89 L312.09,235.92 L312.18,234.89 L312.27,236.35 L312.36,238.22 L312.46,239.79 L312.55,243.04 L312.64,245.91 L312.73,250.08 L312.82,254.86 L312.91,259.33 L313,265 L313.09,270.34 L313.18,276.36 L313.27,282.29 L313.36,289.34 L313.45,295.94 L313.54,302.08 L313.63,308.93 L313.73,316.38 L313.82,322.77 L313.91,329.39 L314,336.49 L314.09,342.27 L314.18,347.83 L314.27,354.43 L314.36,359.15 L314.45,364.33 L314.54,368.14 L314.63,372.39 L314.72,375.8 L314.81,378.38 L314.9,381.53 L315,382.28 L315.09,383.88 L315.18,381.46 L315.27,379.51 L315.36,377.12 L315.45,373.72 L315.54,370.5 L315.63,366.22 L315.72,361.43 L315.81,355.89 L315.9,350.56 L315.99,345.04 L316.08,338.41 L316.17,332.31 L316.27,325.67 L316.36,317.99 L316.45,311.69 L316.54,304.21 L316.63,298.14 L316.72,290.76 L316.81,284.27 L316.9,278.18 L316.99,271.32 L317.08,265.99 L317.17,260.2 L317.26,255 L317.35,250.93 L317.44,246.45 L317.54,243.07 L317.63,240.23 L317.72,238.61 L317.81,236.13 L317.9,235.63 L317.99,237.81 L318.08,239.1 L318.17,242.46 L318.26,245.41 L318.35,249.64 L318.44,252.97 L318.53,258.08 L318.62,263.57 L318.71,269.65 L318.81,274.9 L318.9,281.6 L318.99,288.08 L319.08,295.41 L319.17,302.37 L319.26,309.38 L319.35,316.5 L319.44,323.55 L319.53,330.46 L319.62,336.17 L319.71,342.79 L319.8,349.35 L319.89,354.89 L319.98,359.69 L320.07,365.57 L320.17,369.61 L320.26,373.64 L320.35,376.41 L320.44,379.38 L320.53,381.73 L320.62,382.84 L320.71,381.92 L320.8,380.32 L320.89,378.52 L320.98,375.78 L321.07,372.24 L321.16,367.69 L321.25,363.5 L321.34,357.95 L321.44,352.86 L321.53,346.45 L321.62,339.86 L321.71,333.84 L321.8,326.65 L321.89,320.39 L321.98,313.61 L322.07,306.5 L322.16,298.75 L322.25,292.52 L322.34,285.19 L322.43,278.63 L322.52,272.88 L322.61,266.13 L322.71,260.49 L322.8,255.99 L322.89,251.69 L322.98,247.2 L323.07,243.55 L323.16,240.45 L323.25,237.87 L323.34,236.88 L323.43,236.59 L323.52,238.06 L323.61,239.89 L323.7,243.15 L323.79,246.5 L323.88,250.15 L323.98,254.53 L324.07,259.92 L324.16,265.29 L324.25,270.89 L324.34,277.32 L324.43,283.54 L324.52,290.2 L324.61,296.82 L324.7,303.97 L324.79,310.84 L324.88,318.14 L324.97,325.69 L325.06,332.58 L325.15,338.85 L325.25,344.6 L325.34,350.68 L325.43,357.21 L325.52,362.13 L325.61,367.01 L325.7,370.47 L325.79,374.49 L325.88,377.66 L325.97,379.88 L326.06,382.49 L326.15,382.67 L326.24,381.43 L326.33,379.5 L326.42,377.19 L326.52,373.16 L326.61,369.45 L326.7,365.33 L326.79,360.07 L326.88,354.97 L326.97,349.02 L327.06,343.31 L327.15,336.33 L327.24,329.51 L327.33,323.52 L327.42,316.21 L327.51,308.69 L327.6,301.91 L327.69,294.84 L327.79,287.81 L327.88,281 L327.97,274.83 L328.06,268.94 L328.15,263.41 L328.24,257.4 L328.33,252.87 L328.42,248.31 L328.51,245.32 L328.6,242.08 L328.69,238.89 L328.78,237.61 L328.87,236.49 L328.96,237.64 L329.06,239.55 L329.15,241.5 L329.24,244.78 L329.33,248.53 L329.42,253.12 L329.51,257.91 L329.6,263.63 L329.69,269.02 L329.78,275.39 L329.87,281.86 L329.96,288.88 L330.05,295.08 L330.14,302.55 L330.23,309.39 L330.32,317 L330.42,323.85 L330.51,330.36 L330.6,337.13 L330.69,343.76 L330.78,349.96 L330.87,355.96 L330.96,361.27 L331.05,366.13 L331.14,369.8 L331.23,373.83 L331.32,377.26 L331.41,380.01 L331.5,381.78 L331.59,382.92 L331.69,382.11 L331.78,380.33 L331.87,377.68 L331.96,373.92 L332.05,369.98 L332.14,366.23 L332.23,361.08 L332.32,356.02 L332.41,350.27 L332.5,344.07 L332.59,337.1 L332.68,330.99 L332.77,323.56 L332.86,317.01 L332.96,309.65 L333.05,302.47 L333.14,295.15 L333.23,288.91 L333.32,281.58 L333.41,275.69 L333.5,269.81 L333.59,263.95 L333.68,258.13 L333.77,252.87 L333.86,248.47 L333.95,245.11 L334.04,242.46 L334.13,239.39 L334.23,237.73 L334.32,235.79 L334.41,237.59 L334.5,239.15 L334.59,242.14 L334.68,245.02 L334.77,249.02 L334.86,253.35 L334.95,257.97 L335.04,263.01 L335.13,268.47 L335.22,275.09 L335.31,280.97 L335.4,288.12 L335.5,294.51 L335.59,302.31 L335.68,308.65 L335.77,316.28 L335.86,323.73 L335.95,330.2 L336.04,336.95 L336.13,343.35 L336.22,349.24 L336.31,355.46 L336.4,360.99 L336.49,366.13 L336.58,370.46 L336.67,373.89 L336.77,376.61 L336.86,380.03 L336.95,381.59 L337.04,383.23 L337.13,381.47 L337.22,379.6 L337.31,377.26 L337.4,374.02 L337.49,369.99 L337.58,366.36 L337.67,361.03 L337.76,356.1 L337.85,350.5 L337.94,344.56 L338.04,338.15 L338.13,330.71 L338.22,323.74 L338.31,317.23 L338.4,309.72 L338.49,302.99 L338.58,295.81 L338.67,289.06 L338.76,282.13 L338.85,275.87 L338.94,269.62 L339.03,263.86 L339.12,257.73 L339.21,253.02 L339.31,249.45 L339.4,245.27 L339.49,242.42 L339.58,239.5 L339.67,237.81 L339.76,235.82 L339.85,236.87 L339.94,239.43 L340.03,241.51 L340.12,244.4 L340.21,248.11 L340.3,252.97 L340.39,258.23 L340.48,263.31 L340.58,268.33 L340.67,274.57 L340.76,280.93 L340.85,287.59 L340.94,295.37 L341.03,301.5 L341.12,308.74 L341.21,316.43 L341.3,323.64 L341.39,329.76 L341.48,336.43 L341.57,343.1 L341.66,350.1 L341.75,355.15 L341.84,360.25 L341.94,365.79 L342.03,370.31 L342.12,373.53 L342.21,376.95 L342.3,379.15 L342.39,381.06 L342.48,383.4 L342.57,381.55 L342.66,380.21 L342.75,377.4 L342.84,374.03 L342.93,370.66 L343.02,366.04 L343.11,361.14 L343.21,355.97 L343.3,349.99 L343.39,344.15 L343.48,337.51 L343.57,330.51 L343.66,324.47 L343.75,316.65 L343.84,310.19 L343.93,302.47 L344.02,295.88 L344.11,288.8 L344.2,281.69 L344.29,275.87 L344.38,269 L344.48,263.62 L344.57,258.16 L344.66,253.15 L344.75,248.95 L344.84,245.16 L344.93,241.55 L345.02,239.24 L345.11,237.31 L345.2,235.59 L345.29,236.89 L345.38,239.58 L345.47,241.8 L345.56,244.36 L345.65,248.39 L345.75,252.79 L345.84,257.45 L345.93,263.18 L346.02,268.22 L346.11,274.61 L346.2,281.28 L346.29,288.36 L346.38,295.03 L346.47,301.79 L346.56,308.97 L346.65,315.96 L346.74,322.87 L346.83,330.45 L346.92,337.32 L347.02,343.89 L347.11,349.51 L347.2,354.92 L347.29,360.73 L347.38,365.91 L347.47,369.52 L347.56,373.78 L347.65,376.63 L347.74,379.18 L347.83,381.55 L347.92,383 L348.01,381.45 L348.1,379.88 L348.19,377.61 L348.29,374.55 L348.38,370.91 L348.47,366.46 L348.56,361.03 L348.65,356.28 L348.74,350.77 L348.83,344.5 L348.92,337.99 L349.01,330.9 L349.1,324.25 L349.19,316.55 L349.28,309.58 L349.37,302.65 L349.46,295.87 L349.56,288.6 L349.65,281.53 L349.74,275.22 L349.83,269 L349.92,263.56 L350.01,257.77 L350.1,253.82 L350.19,249.48 L350.28,245.33 L350.37,241.79 L350.46,239.54 L350.55,237.03 L350.64,236.2 L350.73,237.02 L350.83,238.83 L350.92,241.78 L351.01,245.07 L351.1,248.52 L351.19,252.98 L351.28,257.38 L351.37,262.89 L351.46,268.31 L351.55,274.91 L351.64,280.87 L351.73,287.76 L351.82,294.75 L351.91,302.23 L352,309.62 L352.09,316.7 L352.19,323.15 L352.28,329.84 L352.37,337.16 L352.46,342.9 L352.55,349.78 L352.64,355.21 L352.73,361.04 L352.82,365.14 L352.91,370.18 L353,374.24 L353.09,376.98 L353.18,379.6 L353.27,381.74 L353.36,382.77 L353.46,381.46 L353.55,379.52 L353.64,377.13 L353.73,374.24 L353.82,369.83 L353.91,365.78 L354,361.36 L354.09,355.97 L354.18,350.74 L354.27,343.76 L354.36,337.71 L354.45,330.82 L354.54,324.54 L354.63,317.45 L354.73,310.01 L354.82,302.54 L354.91,295.79 L355,289.34 L355.09,282.34 L355.18,275.24 L355.27,269.62 L355.36,263.24 L355.45,257.98 L355.54,253.61 L355.63,248.73 L355.72,244.95 L355.81,241.6 L355.9,239.85 L356,237.79 L356.09,236.11 L356.18,237.56 L356.27,239.11 L356.36,241.52 L356.45,244.52 L356.54,248.38 L356.63,253.4 L356.72,257.71 L356.81,263.49 L356.9,268.76 L356.99,275.05 L357.08,280.99 L357.17,288.38 L357.27,294.75 L357.36,301.73 L357.45,309.31 L357.54,316.65 L357.63,323.57 L357.72,330.13 L357.81,337.08 L357.9,343.77 L357.99,349.82 L358.08,355.78 L358.17,360.68 L358.26,365.84 L358.35,370.07 L358.44,373.9 L358.54,377.19 L358.63,379.5 L358.72,381.53 L358.81,382.75 L358.9,381.4 L358.99,379.94 L359.08,377.39 L359.17,374.02 L359.26,369.8 L359.35,365.89 L359.44,361.53 L359.53,356.36 L359.62,350.46 L359.71,343.66 L359.81,337.81 L359.9,331.08 L359.99,324.25 L360.08,317.51 L360.17,309.8 L360.26,303.17 L360.35,296.24 L360.44,289.32 L360.53,282.62 L360.62,275.79 L360.71,269.43 L360.8,264.19 L360.89,258.25 L360.98,253.99 L361.08,248.71 L361.17,245.76 L361.26,242.34 L361.35,240.01 L361.44,237.44 L361.53,235.76 L361.62,237.62 L361.71,238.79 L361.8,241.42 L361.89,244.79 L361.98,248.35 L362.07,253.25 L362.16,257.27 L362.25,263.21 L362.35,268.32 L362.44,275.23 L362.53,280.84 L362.62,288.3 L362.71,294.98 L362.8,301.66 L362.89,309.24 L362.98,316.7 L363.07,322.79 L363.16,329.75 L363.25,337.13 L363.34,342.85 L363.43,349.91 L363.52,355.64 L363.61,360.58 L363.71,365.08 L363.8,370.32 L363.89,373.45 L363.98,377.04 L364.07,379.19 L364.16,381.51 L364.25,382.39 L364.34,381.62 L364.43,379.73 L364.52,377.27 L364.61,373.94 L364.7,370.32 L364.79,366.49 L364.88,360.73 L364.98,356 L365.07,350.66 L365.16,344.03 L365.25,337.55 L365.34,331.05 L365.43,324.01 L365.52,317 L365.61,309.81 L365.7,302.48 L365.79,296.14 L365.88,288.63 L365.97,281.65 L366.06,275.12 L366.15,269.57 L366.25,263.85 L366.34,258.35 L366.43,253.96 L366.52,249.07 L366.61,245.19 L366.7,242.59 L366.79,239.2 L366.88,237.03 L366.97,236.34 L367.06,237.58 L367.15,239.38 L367.24,241.38 L367.33,245.08 L367.42,249.19 L367.52,252.99 L367.61,257.65 L367.7,263.5 L367.79,268.45 L367.88,274.81 L367.97,281.84 L368.06,288.25 L368.15,294.57 L368.24,301.72 L368.33,309.47 L368.42,316.48 L368.51,323.07 L368.6,329.66 L368.69,336.91 L368.79,343.23 L368.88,349.66 L368.97,355.72 L369.06,360.4 L369.15,365.13 L369.24,369.91 L369.33,373.41 L369.42,376.43 L369.51,379 L369.6,381.61 L369.69,383.12 L369.78,382.03 L369.87,380.2 L369.96,376.72 L370.06,373.6 L370.15,370.25 L370.24,366.13 L370.33,360.92 L370.42,355.67 L370.51,350.43 L370.6,343.78 L370.69,338.12 L370.78,330.4 L370.87,324.44 L370.96,317.54 L371.05,309.97 L371.14,303.23 L371.23,295.21 L371.33,288.75 L371.42,282.06 L371.51,275.51 L371.6,269.02 L371.69,264.12 L371.78,258.73 L371.87,253.72 L371.96,248.84 L372.05,244.99 L372.14,241.95 L372.23,239.78 L372.32,238.13 L372.41,236.71 L372.5,237.3 L372.6,239.2 L372.69,241.61 L372.78,245.48 L372.87,248.32 L372.96,252.95 L373.05,257.29 L373.14,263.19 L373.23,269.33 L373.32,275.43 L373.41,281.41 L373.5,288.09 L373.59,294.7 L373.68,302.14 L373.77,309.15 L373.86,315.79 L373.96,323.12 L374.05,329.75 L374.14,337.36 L374.23,343.01 L374.32,349.72 L374.41,355.34 L374.5,360.76 L374.59,365.58 L374.68,369.7 L374.77,373.76 L374.86,376.37 L374.95,379.35 L375.04,381.49 L375.13,382.45 L375.23,381.99 L375.32,380.11 L375.41,377.52 L375.5,374.17 L375.59,369.96 L375.68,366.14 L375.77,361.56 L375.86,355.95 L375.95,349.87 L376.04,343.65 L376.13,337.58 L376.22,331.38 L376.31,323.63 L376.4,316.8 L376.5,310.23 L376.59,302.99 L376.68,295.94 L376.77,289 L376.86,281.86 L376.95,275.68 L377.04,269.2 L377.13,263.71 L377.22,258.14 L377.31,253.47 L377.4,249.13 L377.49,245.66 L377.58,242.04 L377.67,239.98 L377.77,238.05 L377.86,236.44 L377.95,237.7 L378.04,238.82 L378.13,242.27 L378.22,245.31 L378.31,248.3 L378.4,253.39 L378.49,257.85 L378.58,263.13 L378.67,268.97 L378.76,274.66 L378.85,281.07 L378.94,287.95 L379.04,295.17 L379.13,302.42 L379.22,308.92 L379.31,316.22 L379.4,322.94 L379.49,330.17 L379.58,337.28 L379.67,343.13 L379.76,349.15 L379.85,354.9 L379.94,360.23 L380.03,365.94 L380.12,370.29 L380.21,374 L380.31,377.09 L380.4,379.52 L380.49,381.03 L380.58,382.27 L380.67,381.31 L380.76,379.13 L380.85,377.54 L380.94,374.42 L381.03,370.2 L381.12,366.25 L381.21,360.98 L381.3,355.98 L381.39,349.64 L381.48,344.21 L381.58,337.43 L381.67,330.9 L381.76,323.6 L381.85,316.85 L381.94,310.31 L382.03,303.3 L382.12,295.76 L382.21,288.95 L382.3,282.5 L382.39,275.94 L382.48,269.7 L382.57,263.88 L382.66,258.03 L382.75,253.1 L382.85,248.88 L382.94,244.96 L383.03,241.88 L383.12,239.92 L383.21,238.08 L383.3,236.28 L383.39,237.48 L383.48,238.97 L383.57,241.39 L383.66,244.7 L383.75,248.25 L383.84,252.76 L383.93,258.28 L384.02,263.17 L384.12,269.13 L384.21,274.92 L384.3,281.22 L384.39,288.48 L384.48,294.91 L384.57,301.63 L384.66,309.3 L384.75,316.34 L384.84,323.38 L384.93,329.77 L385.02,336.6 L385.11,343.7 L385.2,349.82 L385.29,355.69 L385.38,361.02 L385.48,365.65 L385.57,369.51 L385.66,374.1 L385.75,376.63 L385.84,379.7 L385.93,381.65 L386.02,382.74 L386.11,381.67 L386.2,379.22 L386.29,376.99 L386.38,373.91 L386.47,370.1 L386.56,366 L386.65,361.57 L386.75,356.33 L386.84,350.17 L386.93,343.7 L387.02,337.64 L387.11,330.78 L387.2,323.72 L387.29,316.68 L387.38,309.81 L387.47,303.01 L387.56,296.15 L387.65,288.95 L387.74,282.55 L387.83,275.57 L387.92,269.94 L388.02,264.22 L388.11,258.44 L388.2,253.33 L388.29,248.9 L388.38,245.48 L388.47,242.63 L388.56,239.89 L388.65,237.8 L388.74,236.39 L388.83,237.97 L388.92,239.85 L389.01,241.62 L389.1,244.79 L389.19,248.91 L389.29,253.12 L389.38,257.73 L389.47,263.3 L389.56,268.89 L389.65,274.77 L389.74,281.06 L389.83,288.1 L389.92,294.87 L390.01,302.47 L390.1,309.34 L390.19,316.41 L390.28,323.08 L390.37,329.69 L390.46,336.85 L390.56,343.76 L390.65,349.7 L390.74,355.13 L390.83,361.06 L390.92,365.47 L391.01,370.2 L391.1,373.75 L391.19,376.28 L391.28,379.24 L391.37,381.73 L391.46,382.78 L391.55,381.66 L391.64,379.91 L391.73,377.28 L391.83,373.87 L391.92,370.39 L392.01,366.04 L392.1,360.57 L392.19,355.47 L392.28,349.81 L392.37,344.39 L392.46,337.34 L392.55,331.36 L392.64,324.16 L392.73,317.31 L392.82,309.66 L392.91,303.17 L393,295.44 L393.1,288.53 L393.19,281.96 L393.28,275.85 L393.37,269.46 L393.46,264.05 L393.55,258.82 L393.64,253.17 L393.73,249.48 L393.82,245.33 L393.91,242.44 L394,240.18 L394.09,237.73 L394.18,236.31 L394.27,237.81 L394.37,238.92 L394.46,241.66 L394.55,245.51 L394.64,248.74 L394.73,252.69 L394.82,257.59 L394.91,263.62 L395,268.86" stroke="#f43c38" stroke-width="0.86"/>
<path d="M177.3,309.91 L177.39,300.94 L177.48,295.18 L177.57,291.02 L177.66,287.09 L177.75,284.67 L177.84,282.05 L177.93,279.14 L178.03,276.99 L178.12,273.42 L178.21,270.05 L178.3,267.38 L178.39,265.94 L178.48,264.09 L178.57,263.05 L178.66,262.93 L178.75,261.99 L178.84,261.84 L178.93,262.37 L179.02,262.02 L179.11,260.93 L179.2,260.32 L179.3,258.71 L179.39,257.22 L179.48,256.85 L179.57,256.35 L179.66,256.22 L179.75,256.05 L179.84,256.36 L179.93,257.38 L180.02,257.77 L180.11,259.43 L180.2,260.49 L180.29,262.77 L180.38,264.54 L180.47,266.44 L180.57,269.59 L180.66,272.03 L180.75,275.03 L180.84,278.53 L180.93,282.62 L181.02,285.18 L181.11,289.26 L181.2,293.31 L181.29,297.16 L181.38,300.42 L181.47,304.17 L181.56,307.52 L181.65,311.17 L181.74,314.75 L181.84,318.18 L181.93,320.36 L182.02,323.9 L182.11,325.86 L182.2,329.03 L182.29,330.72 L182.38,332.95" stroke="#2a80ea" stroke-width="1.7"/>
<path d="M182.38,332.95 L182.47,334.35 L182.56,336.06 L182.65,337.77 L182.74,338.64 L182.83,339.27 L182.92,338.73 L183.01,339.01 L183.11,338.7 L183.2,338.11 L183.29,336.78 L183.38,335.37 L183.47,333.44 L183.56,332.3 L183.65,329.78 L183.74,327.57 L183.83,325.04 L183.92,322.47 L184.01,320.29 L184.1,317.53 L184.19,314.24 L184.28,312.12 L184.38,309.36 L184.47,305.71 L184.56,303.95 L184.65,301.3 L184.74,298.25 L184.83,296.23 L184.92,294.1 L185.01,291.51 L185.1,290.26 L185.19,288.23 L185.28,287.12 L185.37,286.2 L185.46,286.1 L185.55,285.02 L185.65,284.93 L185.74,284.78 L185.83,285.59 L185.92,286.36 L186.01,287.81 L186.1,288.65 L186.19,290.38 L186.28,292.24 L186.37,294.24 L186.46,295.84 L186.55,298.24 L186.64,300.35 L186.73,302.89 L186.82,305.16 L186.92,307.92 L187.01,310.41 L187.1,313.12 L187.19,314.99 L187.28,317.66 L187.37,319.98 L187.46,322.26 L187.55,323.93 L187.64,325.92 L187.73,327.33 L187.82,328.44 L187.91,329.66 L188,330.3 L188.09,331.32 L188.19,330.86 L188.28,331.16 L188.37,331.7 L188.46,330.97 L188.55,329.63 L188.64,329.12 L188.73,327.56 L188.82,326.92 L188.91,325.25 L189,323.48 L189.09,321.55 L189.18,319.29 L189.27,316.43 L189.36,314.8 L189.45,311.92 L189.55,309.86 L189.64,307.45 L189.73,305.46 L189.82,302.77 L189.91,300.32 L190,298.82 L190.09,296.51 L190.18,294.43 L190.27,292.98 L190.36,291.3 L190.45,290.62 L190.54,289.31 L190.63,288.25 L190.72,287.77 L190.82,287.29 L190.91,287.97 L191,288.23 L191.09,288.87 L191.18,289.5 L191.27,290.16 L191.36,291.62 L191.45,292.68 L191.54,294.18 L191.63,296.02 L191.72,298.67 L191.81,300.87 L191.9,302.75 L191.99,305.11 L192.09,307.88 L192.18,309.76 L192.27,311.97 L192.36,314.11 L192.45,316.62 L192.54,318.98 L192.63,321.04 L192.72,323.21 L192.81,325.32 L192.9,326.46 L192.99,327.44 L193.08,328.75 L193.17,330.34 L193.26,330.47 L193.36,330.82 L193.45,331.2 L193.54,331.69 L193.63,331.04 L193.72,330.8 L193.81,329.21 L193.9,329.11 L193.99,327.7 L194.08,325.49 L194.17,324.24 L194.26,321.91 L194.35,320.16 L194.44,318.7 L194.53,316.04 L194.63,314.15 L194.72,311.31 L194.81,309.55 L194.9,307.39 L194.99,304.12 L195.08,302.61 L195.17,300.37 L195.26,297.82 L195.35,296.71 L195.44,294.76 L195.53,292.51 L195.62,291.27 L195.71,290.03 L195.8,289.4 L195.9,288.24 L195.99,288.01 L196.08,287.3 L196.17,287.26 L196.26,288.11 L196.35,288.24 L196.44,289.55 L196.53,290.45 L196.62,290.7 L196.71,292.89 L196.8,294.23 L196.89,296.25 L196.98,297.45 L197.07,300 L197.17,302.17 L197.26,304.37 L197.35,306.82 L197.44,309.18 L197.53,310.94 L197.62,313.42 L197.71,315.07 L197.8,317.69 L197.89,320.05 L197.98,322.34 L198.07,323.85 L198.16,325.75 L198.25,326.8 L198.34,327.91 L198.44,329.05 L198.53,330.55 L198.62,330.94 L198.71,331.17 L198.8,331.25 L198.89,330.99 L198.98,331.38 L199.07,330.65 L199.16,329.96 L199.25,328.84 L199.34,326.95 L199.43,326.31 L199.52,323.83 L199.61,322.13 L199.7,320.91 L199.8,318.96 L199.89,316.69 L199.98,314.26 L200.07,312.24 L200.16,309.75 L200.25,307.58 L200.34,305.1 L200.43,302.85 L200.52,300.16 L200.61,298.27 L200.7,296.76 L200.79,295.14 L200.88,293.6 L200.97,292.32 L201.07,290.42 L201.16,289.84 L201.25,288.8 L201.34,288.19 L201.43,288.13 L201.52,287.51 L201.61,287.47 L201.7,288.39 L201.79,288.54 L201.88,289.28 L201.97,290.72 L202.06,292.39 L202.15,293.16 L202.24,294.93 L202.34,296.87 L202.43,298.41 L202.52,300.33 L202.61,303.03 L202.7,304.81 L202.79,307.12 L202.88,309.24 L202.97,311.85 L203.06,313.83 L203.15,315.82 L203.24,318.06 L203.33,320.79 L203.42,322.57 L203.51,324.68 L203.61,325.47 L203.7,326.81 L203.79,328.94 L203.88,329.31 L203.97,330.38 L204.06,331.29 L204.15,331.52 L204.24,331.37 L204.33,330.91 L204.42,331.25 L204.51,330.25 L204.6,329.52 L204.69,328.3 L204.78,326.85 L204.88,326 L204.97,323.95 L205.06,322.18 L205.15,319.97 L205.24,317.87 L205.33,315.78 L205.42,314.07 L205.51,311.46 L205.6,309.83 L205.69,306.65 L205.78,305.09 L205.87,302.5 L205.96,300.96 L206.05,299.1 L206.15,296.8 L206.24,294.51 L206.33,293.81 L206.42,291.96 L206.51,290.99 L206.6,290.13 L206.69,288.81 L206.78,288.02 L206.87,287.31 L206.96,287.33 L207.05,287.55 L207.14,287.81 L207.23,289 L207.32,290.04 L207.42,290.4 L207.51,292.23 L207.6,292.93 L207.69,295.31 L207.78,296.34 L207.87,299.1 L207.96,301.11 L208.05,303.05 L208.14,304.9 L208.23,306.66 L208.32,309.38 L208.41,311.57 L208.5,313.58 L208.59,316.59 L208.69,318.53 L208.78,320.48 L208.87,322.05 L208.96,324.23 L209.05,325.72 L209.14,327.31 L209.23,328.25 L209.32,329.46 L209.41,330.64 L209.5,331.29 L209.59,330.79 L209.68,331.28 L209.77,331.22 L209.86,331.04 L209.96,329.83 L210.05,329.33 L210.14,328.06 L210.23,327.46 L210.32,325.71 L210.41,323.97 L210.5,322.09 L210.59,320.22 L210.68,318.38 L210.77,316.01 L210.86,314.23 L210.95,312.27 L211.04,309.34 L211.13,307.54 L211.22,305.41 L211.32,303.09 L211.41,300.63 L211.5,299.21 L211.59,297.2 L211.68,294.8 L211.77,293.87 L211.86,291.69 L211.95,290.37 L212.04,289.69 L212.13,288.55 L212.22,287.88 L212.31,287.48 L212.4,288.16 L212.49,287.94 L212.59,287.76 L212.68,289.14 L212.77,289.34 L212.86,290.41 L212.95,291.56 L213.04,292.86 L213.13,295.28 L213.22,296.52 L213.31,298.93 L213.4,300.59 L213.49,302.59 L213.58,304.95 L213.67,307.13 L213.76,309.11 L213.86,311.61 L213.95,313.91 L214.04,315.59 L214.13,317.99 L214.22,320.46 L214.31,322.23 L214.4,324.05 L214.49,325.14 L214.58,326.71 L214.67,327.98 L214.76,329.22 L214.85,330.31 L214.94,330.97 L215.03,331.31 L215.13,331.32 L215.22,330.95 L215.31,330.64 L215.4,330.23 L215.49,329.38 L215.58,328.97 L215.67,327.73 L215.76,325.68 L215.85,324.47 L215.94,322.27 L216.03,320.48 L216.12,318.6 L216.21,316.93 L216.3,314.57 L216.4,312.49 L216.49,310.3 L216.58,307.91 L216.67,305.69 L216.76,303.1 L216.85,301.48 L216.94,298.49 L217.03,296.53 L217.12,295.24 L217.21,293.82 L217.3,291.83 L217.39,290.93 L217.48,289.36 L217.57,288.6 L217.67,288.75 L217.76,287.52 L217.85,288.09 L217.94,287.88 L218.03,288.26 L218.12,288.46 L218.21,289.77 L218.3,290.64 L218.39,291.7 L218.48,293.19 L218.57,295.2 L218.66,296.01 L218.75,298.17 L218.84,300.83 L218.94,302.42 L219.03,304.7 L219.12,306.74 L219.21,309.37 L219.3,311.91 L219.39,313.75 L219.48,316.18 L219.57,318.03 L219.66,319.84 L219.75,322.25 L219.84,323.46 L219.93,325.1 L220.02,326.53 L220.11,328.14 L220.21,329.28 L220.3,329.59 L220.39,330.3 L220.48,330.6 L220.57,331.62 L220.66,330.71 L220.75,330.66 L220.84,330.54 L220.93,329.98 L221.02,329.03 L221.11,326.82 L221.2,325.95 L221.29,324.6 L221.38,322.21 L221.47,320.22 L221.57,318.37 L221.66,316.36 L221.75,314.86 L221.84,312.43 L221.93,310.29 L222.02,307.8 L222.11,305.63 L222.2,303.47 L222.29,300.85 L222.38,298.55 L222.47,297.31 L222.56,295.27 L222.65,293.47 L222.74,292.66 L222.84,290.54 L222.93,290.3 L223.02,289.27 L223.11,288.11 L223.2,288.27 L223.29,287.85 L223.38,287.64 L223.47,287.73 L223.56,289.1 L223.65,289.18 L223.74,290.88 L223.83,291.19 L223.92,292.71 L224.01,295.13 L224.11,296.44 L224.2,298.4 L224.29,300.6 L224.38,302.12 L224.47,304.2 L224.56,306.32 L224.65,309.3 L224.74,311.02 L224.83,313.69 L224.92,315.74 L225.01,318.04 L225.1,320.02 L225.19,321.48 L225.28,323.3 L225.38,325.11 L225.47,326.49 L225.56,327.99 L225.65,329.05 L225.74,330.46 L225.83,330.79 L225.92,331.51 L226.01,331.04 L226.1,331.24 L226.19,330.84 L226.28,329.76 L226.37,329.43 L226.46,328.89 L226.55,326.91 L226.65,325.96 L226.74,324.51 L226.83,323.02 L226.92,320.33 L227.01,318.26 L227.1,316.32 L227.19,314.28 L227.28,311.99 L227.37,310.07 L227.46,307.85 L227.55,305.03 L227.64,303.33 L227.73,301.13 L227.82,299.12 L227.92,297.03 L228.01,294.91 L228.1,293.48 L228.19,291.77 L228.28,291.09 L228.37,289.66 L228.46,288.82 L228.55,288.46 L228.64,287.86 L228.73,287.8 L228.82,287.9 L228.91,288.65 L229,288.29 L229.09,289.17 L229.19,290.75 L229.28,291.16 L229.37,293.24 L229.46,295.11 L229.55,296 L229.64,297.75 L229.73,299.69 L229.82,302.32 L229.91,304.78 L230,306.97 L230.09,308.97 L230.18,311.53 L230.27,313.56 L230.36,315.54 L230.46,317.48 L230.55,320.23 L230.64,321.31 L230.73,323.4 L230.82,324.88 L230.91,326.47 L231,328.01 L231.09,328.86 L231.18,329.44 L231.27,330.33 L231.36,331.29 L231.45,330.96 L231.54,331.46 L231.63,331.1 L231.72,330.24 L231.82,329.96 L231.91,328.39 L232,327.1 L232.09,326.5 L232.18,323.94 L232.27,322.61 L232.36,321.1 L232.45,318.68 L232.54,316.71 L232.63,314.19 L232.72,311.95 L232.81,309.64 L232.9,307.37 L232.99,305.96 L233.09,302.94 L233.18,301.46 L233.27,299.44 L233.36,297.43 L233.45,295.32 L233.54,293.46 L233.63,292.48 L233.72,290.96 L233.81,289.52 L233.9,289.46 L233.99,288.7 L234.08,287.95 L234.17,287.7 L234.26,287.88 L234.36,288.3 L234.45,288.53 L234.54,289.31 L234.63,290.01 L234.72,291.93 L234.81,293.31 L234.9,294.31 L234.99,295.83 L235.08,298.19 L235.17,299.69 L235.26,302.47 L235.35,304 L235.44,306.97 L235.53,309.03 L235.63,311.62 L235.72,313.51 L235.81,315.73 L235.9,317.84 L235.99,320.16 L236.08,321.82 L236.17,323.33 L236.26,325.6 L236.35,326.62 L236.44,328.06 L236.53,328.52 L236.62,330.39 L236.71,330.28 L236.8,331.23 L236.9,331.3 L236.99,330.8 L237.08,330.74 L237.17,330.58 L237.26,329.65 L237.35,328.67 L237.44,326.85 L237.53,325.88 L237.62,324.15 L237.71,322.57 L237.8,320.42 L237.89,318.59 L237.98,317.25 L238.07,314.94 L238.17,312.06 L238.26,310.45 L238.35,307.81 L238.44,306.12 L238.53,302.88 L238.62,300.77 L238.71,299.25 L238.8,297.05 L238.89,295.71 L238.98,294.2 L239.07,292.36 L239.16,290.82 L239.25,290.38 L239.34,289.45 L239.44,288.59 L239.53,288.16 L239.62,287.71 L239.71,287.62 L239.8,288.17 L239.89,288.76 L239.98,289.46 L240.07,289.94 L240.16,292.05 L240.25,293.08 L240.34,294.3 L240.43,296.18 L240.52,298.58 L240.61,300.14 L240.71,302.26 L240.8,303.96 L240.89,306.51 L240.98,309.18 L241.07,311.1 L241.16,313.11 L241.25,315.91 L241.34,317.48 L241.43,319.65 L241.52,321.52 L241.61,323.57 L241.7,325.03 L241.79,326.93 L241.88,327.85 L241.98,328.55 L242.07,330.1 L242.16,330.47 L242.25,331.42 L242.34,330.68 L242.43,331.31 L242.52,330.87 L242.61,330.27 L242.7,330.02 L242.79,328.36 L242.88,327.8 L242.97,326.47 L243.06,324.34 L243.15,322.87 L243.24,320.61 L243.34,318.7 L243.43,316.59 L243.52,314.79 L243.61,312.67 L243.7,309.98 L243.79,307.49 L243.88,305.85 L243.97,303.95 L244.06,300.83 L244.15,299.46 L244.24,297.74 L244.33,295.87 L244.42,293.76 L244.51,292.39 L244.61,290.92 L244.7,289.92 L244.79,288.78 L244.88,288.91 L244.97,288.56 L245.06,287.53 L245.15,287.89 L245.24,287.72 L245.33,288.33 L245.42,289.67 L245.51,290.99 L245.6,291.22 L245.69,292.83 L245.78,294.72 L245.88,296.81 L245.97,298.63 L246.06,300.07 L246.15,301.9 L246.24,303.95 L246.33,306.5 L246.42,308.15 L246.51,310.32 L246.6,313.39 L246.69,314.53 L246.78,317.5 L246.87,319.27 L246.96,320.89 L247.05,322.22 L247.15,323.75 L247.24,325.64 L247.33,327.24 L247.42,327.86 L247.51,329.18 L247.6,329.82 L247.69,330.92 L247.78,331.28 L247.87,331.46 L247.96,331.02 L248.05,330.95 L248.14,330.5 L248.23,329.62 L248.32,329.07 L248.42,327.42 L248.51,326.6 L248.6,324.78 L248.69,323.21 L248.78,321.84 L248.87,319.62 L248.96,317.99 L249.05,316.47 L249.14,313.54 L249.23,312.31 L249.32,309.91 L249.41,307.42 L249.5,306.02 L249.59,303.87 L249.69,301.7 L249.78,299.07 L249.87,297.49 L249.96,295.22 L250.05,293.18 L250.14,291.38 L250.23,289.28 L250.32,287.07 L250.41,285.64 L250.5,283.19 L250.59,281.5 L250.68,280.69 L250.77,280.18" stroke="#2a80ea" stroke-width="1.0"/>
<path d="M250.77,280.18 L250.86,278.95 L250.96,278.69 L251.05,278.96 L251.14,278.58 L251.23,279.94 L251.32,279.85 L251.41,280.99 L251.5,282.55 L251.59,284.94 L251.68,286.05 L251.77,288.65 L251.86,291.33 L251.95,293.72 L252.04,296.41 L252.13,299.22 L252.23,302.93 L252.32,305.82 L252.41,308.64 L252.5,311.92 L252.59,315.19 L252.68,318.77 L252.77,322.72 L252.86,326 L252.95,329.25 L253.04,333.13 L253.13,335.55 L253.22,339.48 L253.31,342.71 L253.4,345.61 L253.5,348.28 L253.59,351.36 L253.68,353.68 L253.77,355.44 L253.86,356.51 L253.95,358.25 L254.04,360.17 L254.13,360.59 L254.22,361.47 L254.31,361.46 L254.4,360.96 L254.49,360.31 L254.58,359.11 L254.67,357.6 L254.76,355.8 L254.86,353.29 L254.95,350.75 L255.04,348.62 L255.13,345.32 L255.22,342.25 L255.31,338.68 L255.4,334.88 L255.49,331.51 L255.58,327.65 L255.67,323.73 L255.76,319.35 L255.85,315.07 L255.94,310.79 L256.03,305.77 L256.13,301.46 L256.22,297.05 L256.31,293.12 L256.4,288.34 L256.49,285 L256.58,281.07 L256.67,277.32 L256.76,273.5 L256.85,270.41 L256.94,267.47 L257.03,264.82 L257.12,261.86 L257.21,259.76 L257.3,258.9 L257.4,256.92 L257.49,255.56 L257.58,256.06 L257.67,256.77 L257.76,257.76 L257.85,259.37 L257.94,261.17 L258.03,263.2 L258.12,266.74 L258.21,269.61 L258.3,272.6 L258.39,275.83 L258.48,279.59 L258.57,283.62 L258.67,288.08 L258.76,292.7 L258.85,296.23 L258.94,301.62 L259.03,306.08 L259.12,310.28 L259.21,314.94 L259.3,319.3 L259.39,324.35 L259.48,328.71 L259.57,333.26 L259.66,337.51 L259.75,341.29 L259.84,344.49 L259.94,348.03 L260.03,351.45 L260.12,353.46 L260.21,356.49 L260.3,358.36 L260.39,360.29 L260.48,361.25 L260.57,362.4 L260.66,362.47 L260.75,360.75 L260.84,359.09 L260.93,357.35 L261.02,355.1 L261.11,352.39 L261.21,349.64 L261.3,346.39 L261.39,342.95 L261.48,339.26 L261.57,334.76 L261.66,330.6 L261.75,326.81 L261.84,321.42 L261.93,317.72 L262.02,312.67 L262.11,307.84 L262.2,302.61 L262.29,298.09 L262.38,293.71 L262.48,289.43 L262.57,285.28 L262.66,281.31 L262.75,277.26 L262.84,273.29 L262.93,269.94 L263.02,266.99 L263.11,264.47 L263.2,261.81 L263.29,259.75 L263.38,258.3 L263.47,257.15 L263.56,257.51 L263.65,258.6 L263.75,259.28 L263.84,262.06 L263.93,264.25 L264.02,266.41 L264.11,269.65 L264.2,272.21 L264.29,275.66 L264.38,279.54 L264.47,284.13 L264.56,288.32 L264.65,293.23 L264.74,297.94 L264.83,301.83 L264.92,307.49 L265.01,312.3 L265.11,317.08 L265.2,321.03 L265.29,326.38 L265.38,330.46 L265.47,334.96 L265.56,338.83 L265.65,342.36 L265.74,345.86 L265.83,349.21 L265.92,352.4 L266.01,354.61 L266.1,357 L266.19,358.58 L266.28,360.2 L266.38,361.63 L266.47,360.29 L266.56,359.94 L266.65,357.43 L266.74,355.67 L266.83,353.3 L266.92,350.81 L267.01,347.76 L267.1,343.59 L267.19,340.52 L267.28,336.26 L267.37,331.58 L267.46,327.4 L267.55,322.65 L267.65,318.52 L267.74,313.59 L267.83,308.54 L267.92,304 L268.01,298.39 L268.1,294.1 L268.19,289.9 L268.28,285.63 L268.37,280.92 L268.46,277.16 L268.55,273.45 L268.64,269.83 L268.73,267.64 L268.82,264.78 L268.92,262.31 L269.01,260.44 L269.1,259.68 L269.19,258.62 L269.28,258.98 L269.37,259.45 L269.46,261.13 L269.55,263.64 L269.64,265.21 L269.73,268.32 L269.82,271.9 L269.91,274.9 L270,278.47 L270.09,283.07 L270.19,287.51 L270.28,292.16 L270.37,296.1 L270.46,300.91 L270.55,305.99 L270.64,310.31 L270.73,315.73 L270.82,320.6 L270.91,325.44 L271,329.37 L271.09,333.76 L271.18,337.59 L271.27,341.89 L271.36,345.7 L271.46,349.01 L271.55,351.88 L271.64,354.17 L271.73,356.82 L271.82,358.5 L271.91,359.34 L272,360.94 L272.09,360.44 L272.18,358.74 L272.27,357.19 L272.36,354.9 L272.45,353.24 L272.54,349.49 L272.63,347.26 L272.73,343.35 L272.82,339.57 L272.91,335.09 L273,331.43 L273.09,326.2 L273.18,321.75 L273.27,316.77 L273.36,312.65 L273.45,307.79 L273.54,302.01 L273.63,297.57 L273.72,293.12 L273.81,288.77 L273.9,283.7 L274,280.36 L274.09,275.86 L274.18,272.28 L274.27,269.75 L274.36,266.19 L274.45,263.74 L274.54,262.3 L274.63,259.9 L274.72,258.61 L274.81,258.52 L274.9,259.09 L274.99,260.52 L275.08,262.45 L275.17,264.38 L275.26,266.98 L275.36,270.19 L275.45,272.87 L275.54,277.22 L275.63,281.01 L275.72,284.61 L275.81,289.77 L275.9,293.83 L275.99,298.21 L276.08,302.92 L276.17,308.59 L276.26,312.7 L276.35,318.22 L276.44,322.55 L276.53,327.8 L276.63,332.14 L276.72,335.63 L276.81,340.43 L276.9,344.03 L276.99,347.32 L277.08,350.04 L277.17,353.16 L277.26,355.38 L277.35,357.57 L277.44,359.45 L277.53,360.26 L277.62,360.81 L277.71,359.55 L277.8,357.52 L277.9,356.58 L277.99,354.29 L278.08,350.55 L278.17,347.68 L278.26,344.83 L278.35,340.99 L278.44,336.79 L278.53,332.42 L278.62,327.71 L278.71,323.65 L278.8,318.74 L278.89,314.42 L278.98,309.34 L279.07,304.19 L279.17,299.14 L279.26,294.66 L279.35,290.17 L279.44,285.42 L279.53,281.75 L279.62,277.92 L279.71,274.45 L279.8,271.1 L279.89,267.56 L279.98,265.09 L280.07,262.28 L280.16,261.19 L280.25,259.8 L280.34,258 L280.44,258.6 L280.53,259.62 L280.62,261.21 L280.71,263.43 L280.8,266.58 L280.89,268.75 L280.98,271.78 L281.07,275.79 L281.16,279.81 L281.25,284.08 L281.34,287.43 L281.43,292.68 L281.52,297.41 L281.61,302.23 L281.71,306.36 L281.8,311.5 L281.89,316.81 L281.98,320.99 L282.07,325.58 L282.16,330.51 L282.25,334.71 L282.34,339.2 L282.43,342.72 L282.52,345.68 L282.61,349.55 L282.7,352.57 L282.79,354.75 L282.88,356.69 L282.98,358.56 L283.07,360.17 L283.16,360.66 L283.25,359.36 L283.34,357.74 L283.43,356 L283.52,354.7 L283.61,351.22 L283.7,349.3 L283.79,345.02 L283.88,342.23 L283.97,338.33 L284.06,334.14 L284.15,329.4 L284.25,325.37 L284.34,320.68 L284.43,315.5 L284.52,310.27 L284.61,305.49 L284.7,301.19 L284.79,296.62 L284.88,291.41 L284.97,287.45 L285.06,282.36 L285.15,278.72 L285.24,274.58 L285.33,271.75 L285.42,268.4 L285.52,265.89 L285.61,263.29 L285.7,261.98 L285.79,260.45 L285.88,258.51 L285.97,259.28 L286.06,259.97 L286.15,261.48 L286.24,262.86 L286.33,265.61 L286.42,268 L286.51,271.29 L286.6,274.68 L286.69,278.65 L286.78,282.12 L286.88,286.85 L286.97,291.23 L287.06,295.43 L287.15,300.55 L287.24,305.19 L287.33,310.16 L287.42,315.02 L287.51,319.96 L287.6,324.11 L287.69,329.63 L287.78,333.11 L287.87,337.54 L287.96,341.54 L288.05,345.59 L288.15,348.81 L288.24,351.03 L288.33,354.52 L288.42,356.14 L288.51,358.15 L288.6,359.9 L288.69,360 L288.78,360.17 L288.87,359.06 L288.96,356.6 L289.05,354.34 L289.14,352.48 L289.23,349.16 L289.32,346.24 L289.42,342.98 L289.51,339.37 L289.6,335.04 L289.69,330.52 L289.78,326.33 L289.87,321.65 L289.96,316.49 L290.05,312.08 L290.14,306.89 L290.23,302.32 L290.32,297.23 L290.41,293.18 L290.5,287.79 L290.59,284.44 L290.69,279.33 L290.78,276.25 L290.87,272.94 L290.96,269.54 L291.05,266.34 L291.14,264.14 L291.23,262.19 L291.32,260.63 L291.41,259.3 L291.5,258.77 L291.59,259.23 L291.68,260.5 L291.77,263.32 L291.86,264.48 L291.96,267.92 L292.05,271.03 L292.14,274.29 L292.23,277.65 L292.32,281.42 L292.41,285.51 L292.5,290.28 L292.59,294.36 L292.68,299.81 L292.77,303.69 L292.86,309.01 L292.95,313.99 L293.04,318.23 L293.13,322.83 L293.23,327.51 L293.32,331.99 L293.41,336.76 L293.5,340.53 L293.59,344.84 L293.68,348.08 L293.77,350.49 L293.86,353.06 L293.95,355.92 L294.04,357.45 L294.13,359.26 L294.22,360.62 L294.31,360.5 L294.4,359.37 L294.5,357.32 L294.59,355.56 L294.68,352.63 L294.77,350.48 L294.86,346.84 L294.95,343.28 L295.04,339.67 L295.13,335.57 L295.22,332.11 L295.31,326.8 L295.4,322.7 L295.49,317.13 L295.58,312.15 L295.67,307.37 L295.77,302.89 L295.86,298 L295.95,293.3 L296.04,288.5 L296.13,283.69 L296.22,280.15 L296.31,276.17 L296.4,272.21 L296.49,269.32 L296.58,266.13 L296.67,264.2 L296.76,262.01 L296.85,259.79 L296.94,258.85 L297.04,259.24 L297.13,259.35 L297.22,261.8 L297.31,262.95 L297.4,265.34 L297.49,268.03 L297.58,272.05 L297.67,275.38 L297.76,279.04 L297.85,282.47 L297.94,287.47 L298.03,291.98 L298.12,296.2 L298.21,300.93 L298.3,306.73 L298.4,311.5 L298.49,316.73 L298.58,321.11 L298.67,326.22 L298.76,330.21 L298.85,335.36 L298.94,338.72 L299.03,342.47 L299.12,346.72 L299.21,350.14 L299.3,352.53 L299.39,354.81 L299.48,357.4 L299.57,358.37 L299.67,359.75 L299.76,360.08 L299.85,359.26 L299.94,357.38 L300.03,355.8 L300.12,352.85 L300.21,350.53 L300.3,347.12 L300.39,344.24 L300.48,340.33 L300.57,336.01 L300.66,331.26 L300.75,327.03 L300.84,322.64 L300.94,317.58 L301.03,312.86 L301.12,307.44 L301.21,303.01 L301.3,298.24 L301.39,292.81 L301.48,288.71 L301.57,284.53 L301.66,279.76 L301.75,275.55 L301.84,272.27 L301.93,269.25 L302.02,266.16 L302.11,263.38 L302.21,261.43 L302.3,260.31 L302.39,258.46 L302.48,258.62 L302.57,259.77 L302.66,261.45 L302.75,263.53 L302.84,265.8 L302.93,268.79 L303.02,271.23 L303.11,274.65 L303.2,278.54 L303.29,283.1 L303.38,287.35 L303.48,291.81 L303.57,296.01 L303.66,301.48 L303.75,306.73 L303.84,311.78 L303.93,316.16 L304.02,321.18 L304.11,325.49 L304.2,330.58 L304.29,334.75 L304.38,339.96 L304.47,344.03 L304.56,348.3 L304.65,352.06 L304.75,356.16 L304.84,359.12 L304.93,362.4 L305.02,365.62 L305.11,367.26 L305.2,368.28" stroke="#2a80ea" stroke-width="0.9"/>
<path d="M305.2,368.28 L305.29,368.48 L305.38,367.5 L305.47,366.64 L305.56,364.21 L305.65,362.37 L305.74,359.72 L305.83,356.05 L305.92,351.92 L306.02,348.04 L306.11,343.43 L306.2,338.66 L306.29,334.19 L306.38,328.86 L306.47,323.1 L306.56,317.1 L306.65,311.05 L306.74,305.46 L306.83,299.39 L306.92,293.49 L307.01,286.86 L307.1,281.81 L307.19,276.23 L307.29,270.67 L307.38,266.08 L307.47,260.85 L307.56,256.22 L307.65,252.62 L307.74,248.42 L307.83,244.75 L307.92,242.11 L308.01,239.41 L308.1,237.89 L308.19,236.04 L308.28,235.72 L308.37,237.75 L308.46,239.35 L308.55,241.37 L308.65,244.62 L308.74,248.19 L308.83,252.19 L308.92,255.84 L309.01,261.03 L309.1,266.17 L309.19,271.22 L309.28,277.01 L309.37,282.79 L309.46,289.35 L309.55,296.33 L309.64,302.41 L309.73,308.92 L309.82,315.1 L309.92,321.92 L310.01,328.89 L310.1,334.39 L310.19,340.54 L310.28,347.1 L310.37,352.62 L310.46,358.33 L310.55,362.69 L310.64,367.43 L310.73,371.72 L310.82,374.81 L310.91,377.38 L311,379.86 L311.09,382.26 L311.19,383.27 L311.28,383.46 L311.37,382.24 L311.46,380.19 L311.55,376.88 L311.64,373.94 L311.73,369.8 L311.82,366.11 L311.91,361.05 L312,356.52 L312.09,350.99 L312.18,344.65 L312.27,339.15 L312.36,332.58 L312.46,326.31 L312.55,319.54 L312.64,313 L312.73,306.17 L312.82,299.37 L312.91,292.74 L313,285.44 L313.09,279.32 L313.18,273.61 L313.27,267.61 L313.36,262.01 L313.45,256.82 L313.54,252.95 L313.63,248.66 L313.73,245.03 L313.82,241.48 L313.91,239.13 L314,236.57 L314.09,235.92 L314.18,236.53 L314.27,238.18 L314.36,240.22 L314.45,242.88 L314.54,246.72 L314.63,250.45 L314.72,254.57 L314.81,259.18 L314.9,265.11 L315,270.2 L315.09,276.17 L315.18,282.9 L315.27,289.31 L315.36,295.91 L315.45,302.72 L315.54,310.4 L315.63,316.33 L315.72,323.62 L315.81,330.12 L315.9,337.41 L315.99,343.65 L316.08,349.73 L316.17,354.86 L316.27,360.62 L316.36,365.5 L316.45,369.36 L316.54,373.27 L316.63,376.94 L316.72,379.28 L316.81,381.9 L316.9,383.23 L316.99,383.02 L317.08,381.7 L317.17,378.58 L317.26,376.75 L317.35,373.31 L317.44,369.18 L317.54,364.61 L317.63,359.91 L317.72,354.45 L317.81,348.61 L317.9,342.66 L317.99,335.42 L318.08,328.62 L318.17,322.32 L318.26,314.86 L318.35,307.92 L318.44,301.68 L318.53,294.15 L318.62,288.04 L318.71,280.61 L318.81,274.9 L318.9,268.35 L318.99,262.5 L319.08,258.13 L319.17,252.73 L319.26,248.74 L319.35,244.69 L319.44,241.4 L319.53,239.72 L319.62,237.18 L319.71,235.36 L319.8,236.74 L319.89,238.48 L319.98,240.99 L320.07,243.78 L320.17,247.15 L320.26,251.74 L320.35,256.77 L320.44,261.93 L320.53,267.32 L320.62,273.26 L320.71,279.92 L320.8,286.2 L320.89,292.99 L320.98,299.69 L321.07,306.31 L321.16,313.49 L321.25,321.22 L321.34,327.46 L321.44,334.64 L321.53,341.14 L321.62,347.06 L321.71,353.11 L321.8,358.28 L321.89,364.17 L321.98,368.27 L322.07,372.63 L322.16,376.15 L322.25,378.8 L322.34,380.42 L322.43,382.79 L322.52,382.52 L322.61,381.42 L322.71,379.19 L322.8,375.94 L322.89,373.16 L322.98,369.13 L323.07,364.4 L323.16,359.54 L323.25,353.61 L323.34,348.25 L323.43,341.54 L323.52,334.75 L323.61,328.86 L323.7,321.67 L323.79,314.49 L323.88,307.57 L323.98,299.89 L324.07,292.78 L324.16,286.21 L324.25,279.53 L324.34,273.68 L324.43,267.22 L324.52,261.37 L324.61,256.21 L324.7,252.44 L324.79,248.29 L324.88,244.22 L324.97,241.34 L325.06,238.5 L325.15,237.2 L325.25,236.32 L325.34,237.59 L325.43,239.1 L325.52,242.22 L325.61,245.52 L325.7,249.31 L325.79,253.39 L325.88,258.82 L325.97,263.78 L326.06,270.13 L326.15,275.91 L326.24,282.51 L326.33,289.52 L326.42,295.77 L326.52,303.58 L326.61,309.93 L326.7,317.5 L326.79,324.69 L326.88,330.91 L326.97,337.81 L327.06,344.18 L327.15,350.7 L327.24,356.43 L327.33,361.21 L327.42,366.64 L327.51,370.93 L327.6,373.89 L327.69,377.4 L327.79,379.72 L327.88,381.57 L327.97,382.8 L328.06,381.16 L328.15,379.99 L328.24,377.54 L328.33,373.63 L328.42,369.57 L328.51,366.23 L328.6,361.29 L328.69,355.36 L328.78,350.27 L328.87,344.05 L328.96,337.54 L329.06,330.57 L329.15,323.31 L329.24,316.71 L329.33,309.68 L329.42,301.75 L329.51,295.16 L329.6,288.63 L329.69,281.12 L329.78,274.94 L329.87,268.95 L329.96,262.76 L330.05,257.93 L330.14,252.76 L330.23,248.82 L330.32,245.5 L330.42,241.98 L330.51,238.91 L330.6,236.75 L330.69,236.05 L330.78,237.61 L330.87,238.95 L330.96,241.94 L331.05,244.96 L331.14,248.5 L331.23,252.87 L331.32,258.01 L331.41,263.66 L331.5,269.24 L331.59,274.85 L331.69,281.03 L331.78,288.06 L331.87,295.42 L331.96,301.73 L332.05,309.04 L332.14,316.68 L332.23,323.63 L332.32,330.08 L332.41,336.79 L332.5,343.33 L332.59,349.43 L332.68,355.78 L332.77,360.66 L332.86,365.76 L332.96,369.85 L333.05,374.25 L333.14,376.99 L333.23,379.41 L333.32,381.75 L333.41,382.93 L333.5,381.28 L333.59,380.37 L333.68,377.55 L333.77,374.56 L333.86,370.14 L333.95,366.14 L334.04,361.62 L334.13,355.55 L334.23,349.66 L334.32,343.9 L334.41,337.5 L334.5,331.02 L334.59,323.6 L334.68,317.28 L334.77,309.62 L334.86,302.67 L334.95,295.32 L335.04,288.98 L335.13,281.67 L335.22,275.14 L335.31,268.85 L335.4,263.7 L335.5,258.61 L335.59,253.48 L335.68,249.26 L335.77,244.76 L335.86,241.99 L335.95,239.54 L336.04,237.2 L336.13,236.32 L336.22,236.92 L336.31,238.9 L336.4,241.75 L336.49,244.98 L336.58,248.99 L336.67,253.42 L336.77,258.11 L336.86,262.69 L336.95,269.05 L337.04,274.77 L337.13,281.06 L337.22,287.62 L337.31,295.13 L337.4,301.97 L337.49,308.91 L337.58,316.01 L337.67,323.39 L337.76,330.79 L337.85,337.05 L337.94,343.56 L338.04,349.81 L338.13,355.24 L338.22,360.84 L338.31,365.98 L338.4,369.9 L338.49,374.15 L338.58,377.35 L338.67,380.04 L338.76,381.9 L338.85,383.4 L338.94,381.86 L339.03,379.6 L339.12,377.12 L339.21,374.63 L339.31,370.44 L339.4,366.38 L339.49,361.06 L339.58,356.4 L339.67,350.8 L339.76,343.7 L339.85,337.39 L339.94,331.39 L340.03,324.06 L340.12,317.47 L340.21,310.1 L340.3,302.26 L340.39,295.84 L340.48,288.32 L340.58,281.78 L340.67,275.93 L340.76,269.48 L340.85,263.8 L340.94,258.16 L341.03,253.8 L341.12,249.51 L341.21,244.72 L341.3,241.66 L341.39,239.58 L341.48,237.59 L341.57,236.43 L341.66,237.43 L341.75,239.58 L341.84,241.88 L341.94,245.19 L342.03,248.4 L342.12,253.37 L342.21,257.56 L342.3,262.86 L342.39,268.79 L342.48,275.31 L342.57,281.49 L342.66,287.94 L342.75,294.41 L342.84,302 L342.93,309.46 L343.02,316.22 L343.11,323.43 L343.21,330.58 L343.3,337.39 L343.39,343.24 L343.48,349.96 L343.57,355.64 L343.66,360.35 L343.75,365.44 L343.84,370.44 L343.93,373.29 L344.02,376.95 L344.11,379.31 L344.2,381.78 L344.29,383.37 L344.38,382.28 L344.48,379.91 L344.57,377.57 L344.66,374.32 L344.75,370.41 L344.84,366.45 L344.93,360.89 L345.02,355.6 L345.11,349.82 L345.2,344.24 L345.29,337.71 L345.38,330.51 L345.47,324.2 L345.56,316.99 L345.65,309.71 L345.75,302.71 L345.84,295.46 L345.93,288.36 L346.02,281.59 L346.11,275.75 L346.2,269.47 L346.29,263.33 L346.38,258.61 L346.47,253.52 L346.56,249.25 L346.65,244.91 L346.74,241.81 L346.83,239.56 L346.92,237.79 L347.02,235.83 L347.11,237.24 L347.2,239.05 L347.29,241.22 L347.38,244.62 L347.47,248.53 L347.56,252.69 L347.65,257.51 L347.74,263.01 L347.83,268.49 L347.92,274.93 L348.01,281.58 L348.1,288.56 L348.19,294.86 L348.29,301.79 L348.38,309.31 L348.47,316.08 L348.56,323.74 L348.65,330.22 L348.74,337.2 L348.83,343.33 L348.92,349.13 L349.01,355.47 L349.1,360.49 L349.19,365.19 L349.28,370.26 L349.37,373.31 L349.46,376.91 L349.56,380.09 L349.65,381.02 L349.74,382.33 L349.83,381.82 L349.92,379.46 L350.01,377.48 L350.1,373.83 L350.19,370.44 L350.28,365.66 L350.37,361.64 L350.46,355.8 L350.55,349.83 L350.64,344.15 L350.73,337.5 L350.83,331.23 L350.92,324.26 L351.01,316.77 L351.1,309.99 L351.19,303.29 L351.28,296.21 L351.37,289.11 L351.46,282.1 L351.55,276 L351.64,269.58 L351.73,263.57 L351.82,258.32 L351.91,253.53 L352,249.14 L352.09,245.68 L352.19,242.37 L352.28,239.64 L352.37,238.01 L352.46,235.87 L352.55,237.23 L352.64,239.27 L352.73,241.22 L352.82,244.45 L352.91,248.15 L353,253.43 L353.09,257.66 L353.18,263.22 L353.27,268.59 L353.36,274.56 L353.46,281.63 L353.55,287.54 L353.64,294.73 L353.73,302.51 L353.82,308.71 L353.91,316.27 L354,322.88 L354.09,330.15 L354.18,337.25 L354.27,343.67 L354.36,349.78 L354.45,355.5 L354.54,361.09 L354.63,365.49 L354.73,369.5 L354.82,373.93 L354.91,376.65 L355,379.94 L355.09,381.27 L355.18,383.16 L355.27,381.77 L355.36,379.46 L355.45,377.02 L355.54,374.06 L355.63,370.01 L355.72,365.69 L355.81,361.63 L355.9,355.65 L356,350.11 L356.09,343.87 L356.18,337.76 L356.27,330.76 L356.36,323.62 L356.45,316.62 L356.54,309.73 L356.63,302.45 L356.72,295.96 L356.81,288.83 L356.9,282.19 L356.99,276.03 L357.08,269.55 L357.17,263.63 L357.27,257.89 L357.36,253.78 L357.45,249.15 L357.54,245.52 L357.63,242.33 L357.72,239.03 L357.81,237.58 L357.9,236.05 L357.99,236.97 L358.08,239.58 L358.17,241.68 L358.26,244.77 L358.35,248.64 L358.44,253.35 L358.54,257.36 L358.63,262.96 L358.72,268.96 L358.81,274.93 L358.9,281.22 L358.99,287.91 L359.08,294.62 L359.17,301.93 L359.26,308.73 L359.35,316.5 L359.44,323 L359.53,330.04 L359.62,336.64 L359.71,343.79 L359.81,349.31 L359.9,355.56 L359.99,360.55 L360.08,365.66 L360.17,369.94 L360.26,373.7 L360.35,377.14 L360.44,379.63 L360.53,381.41 L360.62,382.77 L360.71,381.49 L360.8,380.09 L360.89,377.65 L360.98,374.22 L361.08,370.2 L361.17,366.19 L361.26,360.77 L361.35,355.62 L361.44,349.7 L361.53,343.85 L361.62,337.99 L361.71,330.64 L361.8,324.2 L361.89,316.72 L361.98,309.67 L362.07,302.78 L362.16,295.87 L362.25,288.9 L362.35,281.63 L362.44,275.5 L362.53,269.68 L362.62,264.17 L362.71,258.5 L362.8,253.38 L362.89,248.64 L362.98,244.87 L363.07,242.22 L363.16,239.01 L363.25,237.32 L363.34,236.75 L363.43,236.98 L363.52,239.36 L363.61,242.05 L363.71,245.29 L363.8,248.67 L363.89,252.83 L363.98,257.73 L364.07,263.16 L364.16,268.77 L364.25,274.8 L364.34,281.7 L364.43,287.6 L364.52,294.96 L364.61,302.24 L364.7,309.33 L364.79,316.35 L364.88,323.11 L364.98,329.81 L365.07,336.72 L365.16,343.01 L365.25,349.6 L365.34,355.5 L365.43,360.93 L365.52,365.65 L365.61,370.05 L365.7,373.94 L365.79,376.38 L365.88,379.31 L365.97,381.5 L366.06,383.11 L366.15,381.2 L366.25,379.23 L366.34,376.76 L366.43,373.84 L366.52,370.57 L366.61,366.35 L366.7,361.39 L366.79,355.82 L366.88,350.62 L366.97,343.54 L367.06,337.65 L367.15,330.87 L367.24,324.3 L367.33,316.48 L367.42,310.15 L367.52,302.33 L367.61,295.46 L367.7,288.76 L367.79,281.83 L367.88,275.98 L367.97,268.97 L368.06,263.58 L368.15,257.95 L368.24,253.91 L368.33,249.44 L368.42,245.34 L368.51,242.04 L368.6,239.72 L368.69,237.81 L368.79,236.38 L368.88,237.35 L368.97,239.28 L369.06,241.46 L369.15,245.19 L369.24,249.16 L369.33,252.93 L369.42,257.98 L369.51,262.9 L369.6,268.61 L369.69,274.6 L369.78,280.96 L369.87,287.83 L369.96,295.39 L370.06,301.93 L370.15,308.87 L370.24,316.63 L370.33,323.36 L370.42,330.67 L370.51,336.51 L370.6,343.09 L370.69,349.96 L370.78,354.91 L370.87,360.25 L370.96,365.18 L371.05,369.58 L371.14,373.99 L371.23,377.08 L371.33,378.96 L371.42,381.48 L371.51,383.2 L371.6,381.36 L371.69,379.57 L371.78,377.32 L371.87,373.88 L371.96,370.28 L372.05,366.18 L372.14,361.23 L372.23,355.38 L372.32,349.63 L372.41,344.45 L372.5,337.17 L372.6,330.6 L372.69,324.36 L372.78,317.05 L372.87,309.76 L372.96,302.73 L373.05,296.27 L373.14,289.31 L373.23,282.3 L373.32,275.37 L373.41,269.99 L373.5,263.33 L373.59,258.58 L373.68,253.17 L373.77,248.89 L373.86,245.87 L373.96,242.18 L374.05,239.13 L374.14,237.43 L374.23,236.06 L374.32,237.72 L374.41,239.21 L374.5,241.43 L374.59,244.52 L374.68,248.32 L374.77,252.72 L374.86,257.97 L374.95,262.72 L375.04,269.08 L375.13,274.45 L375.23,281.55 L375.32,288.56 L375.41,295.05 L375.5,301.97 L375.59,309 L375.68,315.84 L375.77,323.68 L375.86,330.55 L375.95,336.88 L376.04,343.1 L376.13,349.58 L376.22,354.75 L376.31,360.95 L376.4,364.94 L376.5,369.7 L376.59,373.23 L376.68,376.89 L376.77,378.92 L376.86,381.8 L376.95,382.59 L377.04,381.65 L377.13,379.45 L377.22,377.53 L377.31,373.58 L377.4,370.5 L377.49,365.99 L377.58,361.06 L377.67,356.26 L377.77,350.07 L377.86,343.99 L377.95,337.81 L378.04,330.41 L378.13,323.92 L378.22,316.76 L378.31,309.52 L378.4,303.15 L378.49,295.94 L378.58,289.36 L378.67,282.04 L378.76,275.71 L378.85,269.3 L378.94,263.56 L379.04,258.29 L379.13,253.21 L379.22,249.65 L379.31,245.38 L379.4,242.52 L379.49,239.94 L379.58,237.84 L379.67,236.83 L379.76,236.95 L379.85,239.61 L379.94,241.93 L380.03,244.85 L380.12,248.43 L380.21,253.15 L380.31,257.98 L380.4,263.59 L380.49,268.8 L380.58,275.04 L380.67,281.04 L380.76,287.99 L380.85,295.15 L380.94,301.68 L381.03,308.76 L381.12,316.33 L381.21,323.57 L381.3,330.42 L381.39,336.8 L381.48,343.3 L381.58,349.8 L381.67,355.16 L381.76,360.28 L381.85,365.19 L381.94,369.47 L382.03,373.71 L382.12,376.42 L382.21,379.84 L382.3,381.34 L382.39,382.22 L382.48,381.1 L382.57,379.68 L382.66,377.34 L382.75,373.64 L382.85,369.78 L382.94,366.39 L383.03,361.38 L383.12,356.03 L383.21,350.44 L383.3,344.02 L383.39,337.49 L383.48,330.52 L383.57,323.8 L383.66,316.73 L383.75,309.63 L383.84,303.29 L383.93,295.4 L384.02,289.07 L384.12,282.57 L384.21,275.42 L384.3,269.63 L384.39,264.13 L384.48,258.66 L384.57,253.71 L384.66,248.81 L384.75,244.99 L384.84,242.06 L384.93,239.87 L385.02,237.5 L385.11,236.37 L385.2,238.01 L385.29,238.99 L385.38,242.27 L385.48,244.87 L385.57,248.34 L385.66,253.56 L385.75,258.29 L385.84,263.04 L385.93,268.7 L386.02,274.6 L386.11,281.35 L386.2,287.73 L386.29,295.36 L386.38,302.52 L386.47,309.14 L386.56,315.9 L386.65,323.3 L386.75,330.37 L386.84,337.06 L386.93,343.06 L387.02,349.69 L387.11,354.76 L387.2,360.65 L387.29,364.98 L387.38,370.08 L387.47,373.59 L387.56,376.97 L387.65,379.7 L387.74,381.77 L387.83,382.85 L387.92,381.78 L388.02,379.25 L388.11,376.82 L388.2,374.23 L388.29,370.19 L388.38,365.42 L388.47,361.18 L388.56,355.54 L388.65,350.11 L388.74,343.8 L388.83,337.82 L388.92,330.92 L389.01,323.74 L389.1,316.76 L389.19,310.35 L389.29,302.6 L389.38,295.64 L389.47,288.53 L389.56,281.89 L389.65,275.55 L389.74,269.89 L389.83,263.92 L389.92,258.97 L390.01,253.6 L390.1,248.76 L390.19,245.82 L390.28,242.45 L390.37,239.24 L390.46,237.87 L390.56,236.37 L390.65,237.94 L390.74,238.99 L390.83,242.47 L390.92,244.97 L391.01,248.31 L391.1,253.11 L391.19,258.16 L391.28,262.74 L391.37,269.33 L391.46,274.96 L391.55,281.15 L391.64,288.28 L391.73,295.07 L391.83,301.6 L391.92,309.48 L392.01,316.48 L392.1,322.94 L392.19,330.67 L392.28,337.31 L392.37,343.84 L392.46,349.75 L392.55,355.15 L392.64,360.1 L392.73,365.72 L392.82,369.77 L392.91,373.04 L393,376.56 L393.1,379.32 L393.19,381.22 L393.28,382.28 L393.37,381.83 L393.46,379.84 L393.55,377.39 L393.64,373.7 L393.73,369.73 L393.82,366.04 L393.91,360.67 L394,355.84 L394.09,350.08 L394.18,344.33 L394.27,337.2 L394.37,331.1 L394.46,324.23 L394.55,317.23 L394.64,310.12 L394.73,302.59 L394.82,295.27 L394.91,288.8 L395,282.43" stroke="#2a80ea" stroke-width="0.86"/>
</g></g>
<rect x="202.3" y="228.5" width="41.4" height="54" fill="#fff" stroke="#cfcfcf" stroke-width="0.8"/>
<path d="M207.3,238.5H228.3" stroke="#757575" stroke-width="0.7"/>
<path d="M207.3,256.3H228.3" stroke="#ff6464" stroke-width="0.75"/>
<path d="M207.3,274.3H228.3" stroke="#7c7c7c" stroke-width="1.3"/>
<g stroke-width="0.16">
<text x="234.1" y="242.3" font-size="10.5" font-style="italic">i<tspan font-size="7.6" dy="2.3" dx="0.4">A</tspan></text>
<text x="234.1" y="260.2" font-size="10.5" font-style="italic">i<tspan font-size="7.6" dy="2.3" dx="0.4">B</tspan></text>
<text x="234.1" y="278.1" font-size="10.5" font-style="italic">i<tspan font-size="7.6" dy="2.3" dx="0.4">C</tspan></text>
<g font-size="10.2" text-anchor="middle">
<text x="177.5" y="403.7">0.0</text>
<text x="213.78" y="403.7">0.2</text>
<text x="250.07" y="403.7">0.4</text>
<text x="286.35" y="403.7">0.6</text>
<text x="322.63" y="403.7">0.8</text>
<text x="358.92" y="403.7">1.0</text>
<text x="395.2" y="403.7">1.2</text>
</g>
<g font-size="10.2" text-anchor="end">
<text x="171.3" y="393.1">-6</text>
<text x="171.3" y="379.6">-5</text>
<text x="171.3" y="366.1">-4</text>
<text x="171.3" y="352.6">-3</text>
<text x="171.3" y="339.1">-2</text>
<text x="171.3" y="325.6">-1</text>
<text x="171.3" y="312.1">0</text>
<text x="171.3" y="298.6">1</text>
<text x="171.3" y="285.1">2</text>
<text x="171.3" y="271.6">3</text>
<text x="171.3" y="258.1">4</text>
<text x="171.3" y="244.6">5</text>
<text x="171.3" y="231.1">6</text>
</g>
<text x="263.6" y="414.5" font-size="11" textLength="37.3" lengthAdjust="spacingAndGlyphs">Time (s)</text>
<text transform="translate(157.4,337.1) rotate(-90)" font-size="11" textLength="54.8" lengthAdjust="spacingAndGlyphs">Current (A)</text>
<text x="268.7" y="431.3" font-size="14.3" textLength="14.6" lengthAdjust="spacingAndGlyphs">(<tspan font-weight="bold">c</tspan>)</text>
</g></g>
</svg>
</body></html>
